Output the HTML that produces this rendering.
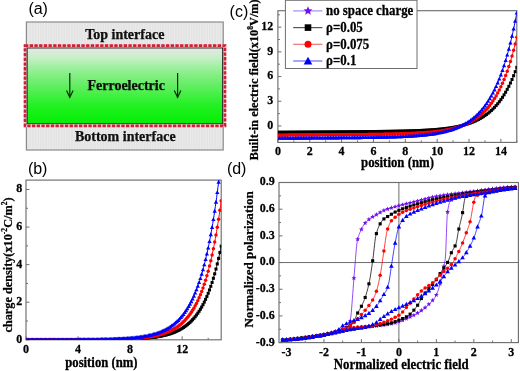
<!DOCTYPE html>
<html><head><meta charset="utf-8"><title>Figure</title>
<style>html,body{margin:0;padding:0;background:#fff;} svg{display:block;}</style>
</head><body>
<svg width="520" height="371" viewBox="0 0 520 371">
<rect width="520" height="371" fill="#fff"/>
<defs>
<linearGradient id="gg" x1="0" y1="0" x2="0" y2="1">
<stop offset="0" stop-color="#e4e8e4"/>
<stop offset="0.13" stop-color="#c8eec8"/>
<stop offset="0.25" stop-color="#a0f0a0"/>
<stop offset="0.38" stop-color="#7eee7e"/>
<stop offset="0.5" stop-color="#62ee62"/>
<stop offset="0.62" stop-color="#44f044"/>
<stop offset="0.75" stop-color="#24f024"/>
<stop offset="0.88" stop-color="#12f012"/>
<stop offset="1" stop-color="#06ee06"/>
</linearGradient>
<pattern id="gp" width="2.6" height="10" patternUnits="userSpaceOnUse">
<rect width="2.6" height="10" fill="#e3e3e3"/>
<rect width="1" height="10" fill="#ebebeb"/>
</pattern>
<clipPath id="clipc"><rect x="277.9" y="10.7" width="238.9" height="131.7"/></clipPath>
<clipPath id="clipb"><rect x="26" y="180.1" width="195.2" height="159.7"/></clipPath>
<clipPath id="clipd"><rect x="279" y="182.5" width="239.4" height="160.1"/></clipPath>
</defs>
<rect x="26.4" y="22" width="196.8" height="128" fill="url(#gp)" stroke="#8a8a8a" stroke-width="1.2"/>
<rect x="27.2" y="48" width="195.4" height="75.7" fill="url(#gg)" stroke="#2a2a2a" stroke-width="1"/>
<rect x="25" y="45.6" width="200" height="80.3" fill="none" stroke="#f4c8cc" stroke-width="2.6"/>
<rect x="25" y="45.6" width="200" height="80.3" fill="none" stroke="#cc2236" stroke-width="2.6" stroke-dasharray="3.3,1.4"/>
<text x="124.8" y="38.6" font-family="'Liberation Serif', 'Times New Roman', serif" font-weight="bold" stroke="#000" stroke-width="0.25" font-size="14" text-anchor="middle" fill="#111">Top interface</text>
<text x="126.2" y="89.8" font-family="'Liberation Serif', 'Times New Roman', serif" font-weight="bold" stroke="#000" stroke-width="0.25" font-size="14" text-anchor="middle" fill="#111">Ferroelectric</text>
<text x="125.3" y="141.3" font-family="'Liberation Serif', 'Times New Roman', serif" font-weight="bold" stroke="#000" stroke-width="0.25" font-size="14" text-anchor="middle" fill="#111">Bottom interface</text>
<line x1="69.8" y1="73" x2="69.8" y2="96.5" stroke="#0a2a0a" stroke-width="1.2"/>
<polyline points="66.5,90.5 69.8,97.3 73.1,90.5" fill="none" stroke="#0a2a0a" stroke-width="1.2"/>
<line x1="177.6" y1="73" x2="177.6" y2="96.5" stroke="#0a2a0a" stroke-width="1.2"/>
<polyline points="174.29999999999998,90.5 177.6,97.3 180.9,90.5" fill="none" stroke="#0a2a0a" stroke-width="1.2"/>
<text x="28.4" y="14" font-family="'Liberation Sans', Arial, sans-serif" font-size="16">(a)</text>
<text x="27.9" y="174" font-family="'Liberation Sans', Arial, sans-serif" font-size="16">(b)</text>
<text x="229.6" y="16.6" font-family="'Liberation Sans', Arial, sans-serif" font-size="16">(c)</text>
<text x="226.9" y="174.4" font-family="'Liberation Sans', Arial, sans-serif" font-size="16">(d)</text>
<rect x="277.9" y="10.7" width="238.9" height="131.7" fill="none" stroke="#6e6e6e" stroke-width="1.15"/>
<line x1="277.9" y1="142.4" x2="277.9" y2="138.9" stroke="#6e6e6e" stroke-width="1"/>
<line x1="309.75" y1="142.4" x2="309.75" y2="138.9" stroke="#6e6e6e" stroke-width="1"/>
<line x1="341.61" y1="142.4" x2="341.61" y2="138.9" stroke="#6e6e6e" stroke-width="1"/>
<line x1="373.46" y1="142.4" x2="373.46" y2="138.9" stroke="#6e6e6e" stroke-width="1"/>
<line x1="405.31" y1="142.4" x2="405.31" y2="138.9" stroke="#6e6e6e" stroke-width="1"/>
<line x1="437.17" y1="142.4" x2="437.17" y2="138.9" stroke="#6e6e6e" stroke-width="1"/>
<line x1="469.02" y1="142.4" x2="469.02" y2="138.9" stroke="#6e6e6e" stroke-width="1"/>
<line x1="500.87" y1="142.4" x2="500.87" y2="138.9" stroke="#6e6e6e" stroke-width="1"/>
<line x1="293.83" y1="142.4" x2="293.83" y2="140.4" stroke="#6e6e6e" stroke-width="1"/>
<line x1="325.68" y1="142.4" x2="325.68" y2="140.4" stroke="#6e6e6e" stroke-width="1"/>
<line x1="357.53" y1="142.4" x2="357.53" y2="140.4" stroke="#6e6e6e" stroke-width="1"/>
<line x1="389.39" y1="142.4" x2="389.39" y2="140.4" stroke="#6e6e6e" stroke-width="1"/>
<line x1="421.24" y1="142.4" x2="421.24" y2="140.4" stroke="#6e6e6e" stroke-width="1"/>
<line x1="453.09" y1="142.4" x2="453.09" y2="140.4" stroke="#6e6e6e" stroke-width="1"/>
<line x1="484.95" y1="142.4" x2="484.95" y2="140.4" stroke="#6e6e6e" stroke-width="1"/>
<line x1="516.8" y1="142.4" x2="516.8" y2="140.4" stroke="#6e6e6e" stroke-width="1"/>
<text transform="translate(277.9,154.6) scale(1,1.1)" font-family="'Liberation Serif', 'Times New Roman', serif" font-weight="bold" stroke="#000" stroke-width="0.25" font-size="12" text-anchor="middle">0</text>
<text transform="translate(309.75,154.6) scale(1,1.1)" font-family="'Liberation Serif', 'Times New Roman', serif" font-weight="bold" stroke="#000" stroke-width="0.25" font-size="12" text-anchor="middle">2</text>
<text transform="translate(341.61,154.6) scale(1,1.1)" font-family="'Liberation Serif', 'Times New Roman', serif" font-weight="bold" stroke="#000" stroke-width="0.25" font-size="12" text-anchor="middle">4</text>
<text transform="translate(373.46,154.6) scale(1,1.1)" font-family="'Liberation Serif', 'Times New Roman', serif" font-weight="bold" stroke="#000" stroke-width="0.25" font-size="12" text-anchor="middle">6</text>
<text transform="translate(405.31,154.6) scale(1,1.1)" font-family="'Liberation Serif', 'Times New Roman', serif" font-weight="bold" stroke="#000" stroke-width="0.25" font-size="12" text-anchor="middle">8</text>
<text transform="translate(437.17,154.6) scale(1,1.1)" font-family="'Liberation Serif', 'Times New Roman', serif" font-weight="bold" stroke="#000" stroke-width="0.25" font-size="12" text-anchor="middle">10</text>
<text transform="translate(469.02,154.6) scale(1,1.1)" font-family="'Liberation Serif', 'Times New Roman', serif" font-weight="bold" stroke="#000" stroke-width="0.25" font-size="12" text-anchor="middle">12</text>
<text transform="translate(500.87,154.6) scale(1,1.1)" font-family="'Liberation Serif', 'Times New Roman', serif" font-weight="bold" stroke="#000" stroke-width="0.25" font-size="12" text-anchor="middle">14</text>
<line x1="277.9" y1="125.94" x2="281.4" y2="125.94" stroke="#6e6e6e" stroke-width="1"/>
<line x1="277.9" y1="101.24" x2="281.4" y2="101.24" stroke="#6e6e6e" stroke-width="1"/>
<line x1="277.9" y1="76.55" x2="281.4" y2="76.55" stroke="#6e6e6e" stroke-width="1"/>
<line x1="277.9" y1="51.86" x2="281.4" y2="51.86" stroke="#6e6e6e" stroke-width="1"/>
<line x1="277.9" y1="27.16" x2="281.4" y2="27.16" stroke="#6e6e6e" stroke-width="1"/>
<line x1="277.9" y1="113.59" x2="279.9" y2="113.59" stroke="#6e6e6e" stroke-width="1"/>
<line x1="277.9" y1="88.9" x2="279.9" y2="88.9" stroke="#6e6e6e" stroke-width="1"/>
<line x1="277.9" y1="64.2" x2="279.9" y2="64.2" stroke="#6e6e6e" stroke-width="1"/>
<line x1="277.9" y1="39.51" x2="279.9" y2="39.51" stroke="#6e6e6e" stroke-width="1"/>
<line x1="277.9" y1="14.82" x2="279.9" y2="14.82" stroke="#6e6e6e" stroke-width="1"/>
<text transform="translate(273.2,128.84) scale(1,1.1)" font-family="'Liberation Serif', 'Times New Roman', serif" font-weight="bold" stroke="#000" stroke-width="0.25" font-size="12" text-anchor="end">0</text>
<text transform="translate(273.2,104.14) scale(1,1.1)" font-family="'Liberation Serif', 'Times New Roman', serif" font-weight="bold" stroke="#000" stroke-width="0.25" font-size="12" text-anchor="end">3</text>
<text transform="translate(273.2,79.45) scale(1,1.1)" font-family="'Liberation Serif', 'Times New Roman', serif" font-weight="bold" stroke="#000" stroke-width="0.25" font-size="12" text-anchor="end">6</text>
<text transform="translate(273.2,54.76) scale(1,1.1)" font-family="'Liberation Serif', 'Times New Roman', serif" font-weight="bold" stroke="#000" stroke-width="0.25" font-size="12" text-anchor="end">9</text>
<text transform="translate(273.2,30.06) scale(1,1.1)" font-family="'Liberation Serif', 'Times New Roman', serif" font-weight="bold" stroke="#000" stroke-width="0.25" font-size="12" text-anchor="end">12</text>
<text transform="translate(397.5,167.3) scale(1,1.1)" font-family="'Liberation Serif', 'Times New Roman', serif" font-weight="bold" stroke="#000" stroke-width="0.25" font-size="12.8" text-anchor="middle">position (nm)</text>
<text transform="translate(257.7,160.2) rotate(-90)" x="0" y="0" font-family="'Liberation Serif', 'Times New Roman', serif" font-weight="bold" stroke="#000" stroke-width="0.25" font-size="12.3">Built-in electric field(x10<tspan dy="-5.2" font-size="7.6">8</tspan><tspan dy="5.2">V/m)</tspan></text>
<g clip-path="url(#clipc)">
<polyline points="277.9,132.26 278.7,132.25 279.49,132.25 280.29,132.24 281.09,132.24 281.88,132.23 282.68,132.23 283.47,132.22 284.27,132.22 285.07,132.21 285.86,132.21 286.66,132.2 287.46,132.2 288.25,132.19 289.05,132.19 289.84,132.18 290.64,132.18 291.44,132.17 292.23,132.17 293.03,132.16 293.83,132.16 294.62,132.15 295.42,132.15 296.22,132.14 297.01,132.13 297.81,132.13 298.6,132.12 299.4,132.12 300.2,132.11 300.99,132.11 301.79,132.1 302.59,132.1 303.38,132.09 304.18,132.09 304.98,132.08 305.77,132.08 306.57,132.07 307.36,132.07 308.16,132.06 308.96,132.06 309.75,132.05 310.55,132.04 311.35,132.04 312.14,132.03 312.94,132.03 313.73,132.02 314.53,132.02 315.33,132.01 316.12,132.01 316.92,132 317.72,132 318.51,131.99 319.31,131.99 320.11,131.98 320.9,131.97 321.7,131.97 322.49,131.96 323.29,131.96 324.09,131.95 324.88,131.95 325.68,131.94 326.48,131.94 327.27,131.93 328.07,131.92 328.87,131.92 329.66,131.91 330.46,131.91 331.25,131.9 332.05,131.9 332.85,131.89 333.64,131.89 334.44,131.88 335.24,131.87 336.03,131.87 336.83,131.86 337.62,131.86 338.42,131.85 339.22,131.84 340.01,131.84 340.81,131.83 341.61,131.83 342.4,131.82 343.2,131.81 344,131.81 344.79,131.8 345.59,131.8 346.38,131.79 347.18,131.78 347.98,131.78 348.77,131.77 349.57,131.76 350.37,131.76 351.16,131.75 351.96,131.74 352.76,131.74 353.55,131.73 354.35,131.72 355.14,131.72 355.94,131.71 356.74,131.7 357.53,131.7 358.33,131.69 359.13,131.68 359.92,131.68 360.72,131.67 361.51,131.66 362.31,131.65 363.11,131.65 363.9,131.64 364.7,131.63 365.5,131.62 366.29,131.62 367.09,131.61 367.89,131.6 368.68,131.59 369.48,131.58 370.27,131.58 371.07,131.57 371.87,131.56 372.66,131.55 373.46,131.54 374.26,131.53 375.05,131.52 375.85,131.51 376.65,131.5 377.44,131.49 378.24,131.48 379.03,131.47 379.83,131.46 380.63,131.45 381.42,131.44 382.22,131.43 383.02,131.42 383.81,131.41 384.61,131.4 385.4,131.39 386.2,131.38 387,131.36 387.79,131.35 388.59,131.34 389.39,131.33 390.18,131.31 390.98,131.3 391.78,131.29 392.57,131.27 393.37,131.26 394.16,131.24 394.96,131.23 395.76,131.21 396.55,131.2 397.35,131.18 398.15,131.17 398.94,131.15 399.74,131.13 400.54,131.11 401.33,131.1 402.13,131.08 402.92,131.06 403.72,131.04 404.52,131.02 405.31,131 406.11,130.98 406.91,130.96 407.7,130.93 408.5,130.91 409.29,130.89 410.09,130.86 410.89,130.84 411.68,130.81 412.48,130.79 413.28,130.76 414.07,130.73 414.87,130.7 415.67,130.67 416.46,130.64 417.26,130.61 418.05,130.58 418.85,130.54 419.65,130.51 420.44,130.47 421.24,130.44 422.04,130.4 422.83,130.36 423.63,130.32 424.43,130.28 425.22,130.24 426.02,130.19 426.81,130.15 427.61,130.1 428.41,130.05 429.2,130 430,129.95 430.8,129.9 431.59,129.84 432.39,129.79 433.18,129.73 433.98,129.67 434.78,129.6 435.57,129.54 436.37,129.47 437.17,129.4 437.96,129.33 438.76,129.26 439.56,129.18 440.35,129.1 441.15,129.02 441.94,128.94 442.74,128.85 443.54,128.76 444.33,128.67 445.13,128.57 445.93,128.47 446.72,128.37 447.52,128.26 448.32,128.15 449.11,128.04 449.91,127.92 450.7,127.8 451.5,127.68 452.3,127.55 453.09,127.41 453.89,127.27 454.69,127.13 455.48,126.98 456.28,126.82 457.07,126.66 457.87,126.5 458.67,126.33 459.46,126.15 460.26,125.97 461.06,125.78 461.85,125.58 462.65,125.38 463.45,125.16 464.24,124.95 465.04,124.72 465.83,124.49 466.63,124.24 467.43,123.99 468.22,123.74 469.02,123.47 469.82,123.19 470.61,122.9 471.41,122.6 472.21,122.29 473,121.97 473.8,121.64 474.59,121.3 475.39,120.95 476.19,120.58 476.98,120.2 477.78,119.8 478.58,119.4 479.37,118.97 480.17,118.54 480.96,118.08 481.76,117.61 482.56,117.13 483.35,116.62 484.15,116.1 484.95,115.56 485.74,115 486.54,114.42 487.34,113.82 488.13,113.2 488.93,112.56 489.72,111.89 490.52,111.2 491.32,110.49 492.11,109.74 492.91,108.98 493.71,108.18 494.5,107.36 495.3,106.51 496.1,105.62 496.89,104.71 497.69,103.76 498.48,102.78 499.28,101.76 500.08,100.71 500.87,99.62 501.67,98.48 502.47,97.31 503.26,96.1 504.06,94.84 504.85,93.54 505.65,92.19 506.45,90.8 507.24,89.35 508.04,87.85 508.84,86.3 509.63,84.69 510.43,83.02 511.23,81.29 512.02,79.5 512.82,77.65 513.61,75.73 514.41,73.74 515.21,71.68 516,69.55 516.8,67.34" fill="none" stroke="#000000" stroke-width="1.0" stroke-linejoin="round"/>
<rect x="276.38" y="130.74" width="3.04" height="3.04" fill="#000000"/>
<rect x="277.97" y="130.73" width="3.04" height="3.04" fill="#000000"/>
<rect x="279.57" y="130.72" width="3.04" height="3.04" fill="#000000"/>
<rect x="281.16" y="130.71" width="3.04" height="3.04" fill="#000000"/>
<rect x="282.75" y="130.7" width="3.04" height="3.04" fill="#000000"/>
<rect x="284.34" y="130.69" width="3.04" height="3.04" fill="#000000"/>
<rect x="285.94" y="130.68" width="3.04" height="3.04" fill="#000000"/>
<rect x="287.53" y="130.67" width="3.04" height="3.04" fill="#000000"/>
<rect x="289.12" y="130.66" width="3.04" height="3.04" fill="#000000"/>
<rect x="290.71" y="130.65" width="3.04" height="3.04" fill="#000000"/>
<rect x="292.31" y="130.64" width="3.04" height="3.04" fill="#000000"/>
<rect x="293.9" y="130.63" width="3.04" height="3.04" fill="#000000"/>
<rect x="295.49" y="130.61" width="3.04" height="3.04" fill="#000000"/>
<rect x="297.08" y="130.6" width="3.04" height="3.04" fill="#000000"/>
<rect x="298.68" y="130.59" width="3.04" height="3.04" fill="#000000"/>
<rect x="300.27" y="130.58" width="3.04" height="3.04" fill="#000000"/>
<rect x="301.86" y="130.57" width="3.04" height="3.04" fill="#000000"/>
<rect x="303.46" y="130.56" width="3.04" height="3.04" fill="#000000"/>
<rect x="305.05" y="130.55" width="3.04" height="3.04" fill="#000000"/>
<rect x="306.64" y="130.54" width="3.04" height="3.04" fill="#000000"/>
<rect x="308.23" y="130.53" width="3.04" height="3.04" fill="#000000"/>
<rect x="309.83" y="130.52" width="3.04" height="3.04" fill="#000000"/>
<rect x="311.42" y="130.51" width="3.04" height="3.04" fill="#000000"/>
<rect x="313.01" y="130.5" width="3.04" height="3.04" fill="#000000"/>
<rect x="314.6" y="130.49" width="3.04" height="3.04" fill="#000000"/>
<rect x="316.2" y="130.48" width="3.04" height="3.04" fill="#000000"/>
<rect x="317.79" y="130.47" width="3.04" height="3.04" fill="#000000"/>
<rect x="319.38" y="130.45" width="3.04" height="3.04" fill="#000000"/>
<rect x="320.97" y="130.44" width="3.04" height="3.04" fill="#000000"/>
<rect x="322.57" y="130.43" width="3.04" height="3.04" fill="#000000"/>
<rect x="324.16" y="130.42" width="3.04" height="3.04" fill="#000000"/>
<rect x="325.75" y="130.41" width="3.04" height="3.04" fill="#000000"/>
<rect x="327.35" y="130.4" width="3.04" height="3.04" fill="#000000"/>
<rect x="328.94" y="130.39" width="3.04" height="3.04" fill="#000000"/>
<rect x="330.53" y="130.38" width="3.04" height="3.04" fill="#000000"/>
<rect x="332.12" y="130.37" width="3.04" height="3.04" fill="#000000"/>
<rect x="333.72" y="130.35" width="3.04" height="3.04" fill="#000000"/>
<rect x="335.31" y="130.34" width="3.04" height="3.04" fill="#000000"/>
<rect x="336.9" y="130.33" width="3.04" height="3.04" fill="#000000"/>
<rect x="338.49" y="130.32" width="3.04" height="3.04" fill="#000000"/>
<rect x="340.09" y="130.31" width="3.04" height="3.04" fill="#000000"/>
<rect x="341.68" y="130.29" width="3.04" height="3.04" fill="#000000"/>
<rect x="343.27" y="130.28" width="3.04" height="3.04" fill="#000000"/>
<rect x="344.86" y="130.27" width="3.04" height="3.04" fill="#000000"/>
<rect x="346.46" y="130.26" width="3.04" height="3.04" fill="#000000"/>
<rect x="348.05" y="130.24" width="3.04" height="3.04" fill="#000000"/>
<rect x="349.64" y="130.23" width="3.04" height="3.04" fill="#000000"/>
<rect x="351.24" y="130.22" width="3.04" height="3.04" fill="#000000"/>
<rect x="352.83" y="130.2" width="3.04" height="3.04" fill="#000000"/>
<rect x="354.42" y="130.19" width="3.04" height="3.04" fill="#000000"/>
<rect x="356.01" y="130.18" width="3.04" height="3.04" fill="#000000"/>
<rect x="357.61" y="130.16" width="3.04" height="3.04" fill="#000000"/>
<rect x="359.2" y="130.15" width="3.04" height="3.04" fill="#000000"/>
<rect x="360.79" y="130.13" width="3.04" height="3.04" fill="#000000"/>
<rect x="362.38" y="130.12" width="3.04" height="3.04" fill="#000000"/>
<rect x="363.98" y="130.1" width="3.04" height="3.04" fill="#000000"/>
<rect x="365.57" y="130.09" width="3.04" height="3.04" fill="#000000"/>
<rect x="367.16" y="130.07" width="3.04" height="3.04" fill="#000000"/>
<rect x="368.75" y="130.06" width="3.04" height="3.04" fill="#000000"/>
<rect x="370.35" y="130.04" width="3.04" height="3.04" fill="#000000"/>
<rect x="371.94" y="130.02" width="3.04" height="3.04" fill="#000000"/>
<rect x="373.53" y="130" width="3.04" height="3.04" fill="#000000"/>
<rect x="375.13" y="129.98" width="3.04" height="3.04" fill="#000000"/>
<rect x="376.72" y="129.96" width="3.04" height="3.04" fill="#000000"/>
<rect x="378.31" y="129.94" width="3.04" height="3.04" fill="#000000"/>
<rect x="379.9" y="129.92" width="3.04" height="3.04" fill="#000000"/>
<rect x="381.5" y="129.9" width="3.04" height="3.04" fill="#000000"/>
<rect x="383.09" y="129.88" width="3.04" height="3.04" fill="#000000"/>
<rect x="384.68" y="129.86" width="3.04" height="3.04" fill="#000000"/>
<rect x="386.27" y="129.83" width="3.04" height="3.04" fill="#000000"/>
<rect x="387.87" y="129.81" width="3.04" height="3.04" fill="#000000"/>
<rect x="389.46" y="129.78" width="3.04" height="3.04" fill="#000000"/>
<rect x="391.05" y="129.75" width="3.04" height="3.04" fill="#000000"/>
<rect x="392.64" y="129.72" width="3.04" height="3.04" fill="#000000"/>
<rect x="394.24" y="129.69" width="3.04" height="3.04" fill="#000000"/>
<rect x="395.83" y="129.66" width="3.04" height="3.04" fill="#000000"/>
<rect x="397.42" y="129.63" width="3.04" height="3.04" fill="#000000"/>
<rect x="399.02" y="129.59" width="3.04" height="3.04" fill="#000000"/>
<rect x="400.61" y="129.56" width="3.04" height="3.04" fill="#000000"/>
<rect x="402.2" y="129.52" width="3.04" height="3.04" fill="#000000"/>
<rect x="403.79" y="129.48" width="3.04" height="3.04" fill="#000000"/>
<rect x="405.39" y="129.44" width="3.04" height="3.04" fill="#000000"/>
<rect x="406.98" y="129.39" width="3.04" height="3.04" fill="#000000"/>
<rect x="408.57" y="129.34" width="3.04" height="3.04" fill="#000000"/>
<rect x="410.16" y="129.29" width="3.04" height="3.04" fill="#000000"/>
<rect x="411.76" y="129.24" width="3.04" height="3.04" fill="#000000"/>
<rect x="413.35" y="129.18" width="3.04" height="3.04" fill="#000000"/>
<rect x="414.94" y="129.12" width="3.04" height="3.04" fill="#000000"/>
<rect x="416.53" y="129.06" width="3.04" height="3.04" fill="#000000"/>
<rect x="418.13" y="128.99" width="3.04" height="3.04" fill="#000000"/>
<rect x="419.72" y="128.92" width="3.04" height="3.04" fill="#000000"/>
<rect x="421.31" y="128.84" width="3.04" height="3.04" fill="#000000"/>
<rect x="422.91" y="128.76" width="3.04" height="3.04" fill="#000000"/>
<rect x="424.5" y="128.67" width="3.04" height="3.04" fill="#000000"/>
<rect x="426.09" y="128.58" width="3.04" height="3.04" fill="#000000"/>
<rect x="427.68" y="128.48" width="3.04" height="3.04" fill="#000000"/>
<rect x="429.28" y="128.38" width="3.04" height="3.04" fill="#000000"/>
<rect x="430.87" y="128.27" width="3.04" height="3.04" fill="#000000"/>
<rect x="432.46" y="128.15" width="3.04" height="3.04" fill="#000000"/>
<rect x="434.05" y="128.02" width="3.04" height="3.04" fill="#000000"/>
<rect x="435.65" y="127.88" width="3.04" height="3.04" fill="#000000"/>
<rect x="437.24" y="127.74" width="3.04" height="3.04" fill="#000000"/>
<rect x="438.83" y="127.58" width="3.04" height="3.04" fill="#000000"/>
<rect x="440.42" y="127.42" width="3.04" height="3.04" fill="#000000"/>
<rect x="442.02" y="127.24" width="3.04" height="3.04" fill="#000000"/>
<rect x="443.61" y="127.05" width="3.04" height="3.04" fill="#000000"/>
<rect x="445.2" y="126.85" width="3.04" height="3.04" fill="#000000"/>
<rect x="446.8" y="126.63" width="3.04" height="3.04" fill="#000000"/>
<rect x="448.39" y="126.4" width="3.04" height="3.04" fill="#000000"/>
<rect x="449.98" y="126.16" width="3.04" height="3.04" fill="#000000"/>
<rect x="451.57" y="125.89" width="3.04" height="3.04" fill="#000000"/>
<rect x="453.17" y="125.61" width="3.04" height="3.04" fill="#000000"/>
<rect x="454.76" y="125.3" width="3.04" height="3.04" fill="#000000"/>
<rect x="456.35" y="124.98" width="3.04" height="3.04" fill="#000000"/>
<rect x="457.94" y="124.63" width="3.04" height="3.04" fill="#000000"/>
<rect x="459.54" y="124.26" width="3.04" height="3.04" fill="#000000"/>
<rect x="461.13" y="123.86" width="3.04" height="3.04" fill="#000000"/>
<rect x="462.72" y="123.43" width="3.04" height="3.04" fill="#000000"/>
<rect x="464.31" y="122.97" width="3.04" height="3.04" fill="#000000"/>
<rect x="465.91" y="122.47" width="3.04" height="3.04" fill="#000000"/>
<rect x="467.5" y="121.95" width="3.04" height="3.04" fill="#000000"/>
<rect x="469.09" y="121.38" width="3.04" height="3.04" fill="#000000"/>
<rect x="470.69" y="120.77" width="3.04" height="3.04" fill="#000000"/>
<rect x="472.28" y="120.12" width="3.04" height="3.04" fill="#000000"/>
<rect x="473.87" y="119.43" width="3.04" height="3.04" fill="#000000"/>
<rect x="475.46" y="118.68" width="3.04" height="3.04" fill="#000000"/>
<rect x="477.06" y="117.88" width="3.04" height="3.04" fill="#000000"/>
<rect x="478.65" y="117.02" width="3.04" height="3.04" fill="#000000"/>
<rect x="480.24" y="116.09" width="3.04" height="3.04" fill="#000000"/>
<rect x="481.83" y="115.1" width="3.04" height="3.04" fill="#000000"/>
<rect x="483.43" y="114.04" width="3.04" height="3.04" fill="#000000"/>
<rect x="485.02" y="112.9" width="3.04" height="3.04" fill="#000000"/>
<rect x="486.61" y="111.68" width="3.04" height="3.04" fill="#000000"/>
<rect x="488.2" y="110.37" width="3.04" height="3.04" fill="#000000"/>
<rect x="489.8" y="108.97" width="3.04" height="3.04" fill="#000000"/>
<rect x="491.39" y="107.46" width="3.04" height="3.04" fill="#000000"/>
<rect x="492.98" y="105.84" width="3.04" height="3.04" fill="#000000"/>
<rect x="494.58" y="104.1" width="3.04" height="3.04" fill="#000000"/>
<rect x="496.17" y="102.24" width="3.04" height="3.04" fill="#000000"/>
<rect x="497.76" y="100.24" width="3.04" height="3.04" fill="#000000"/>
<rect x="499.35" y="98.1" width="3.04" height="3.04" fill="#000000"/>
<rect x="500.95" y="95.79" width="3.04" height="3.04" fill="#000000"/>
<rect x="502.54" y="93.32" width="3.04" height="3.04" fill="#000000"/>
<rect x="504.13" y="90.67" width="3.04" height="3.04" fill="#000000"/>
<rect x="505.72" y="87.83" width="3.04" height="3.04" fill="#000000"/>
<rect x="507.32" y="84.78" width="3.04" height="3.04" fill="#000000"/>
<rect x="508.91" y="81.5" width="3.04" height="3.04" fill="#000000"/>
<rect x="510.5" y="77.98" width="3.04" height="3.04" fill="#000000"/>
<rect x="512.09" y="74.21" width="3.04" height="3.04" fill="#000000"/>
<rect x="513.69" y="70.16" width="3.04" height="3.04" fill="#000000"/>
<rect x="515.28" y="65.82" width="3.04" height="3.04" fill="#000000"/>
<polyline points="277.9,135.21 278.7,135.2 279.49,135.2 280.29,135.19 281.09,135.18 281.88,135.18 282.68,135.17 283.47,135.16 284.27,135.16 285.07,135.15 285.86,135.14 286.66,135.14 287.46,135.13 288.25,135.12 289.05,135.12 289.84,135.11 290.64,135.11 291.44,135.1 292.23,135.09 293.03,135.09 293.83,135.08 294.62,135.07 295.42,135.07 296.22,135.06 297.01,135.05 297.81,135.05 298.6,135.04 299.4,135.03 300.2,135.03 300.99,135.02 301.79,135.01 302.59,135.01 303.38,135 304.18,134.99 304.98,134.99 305.77,134.98 306.57,134.97 307.36,134.97 308.16,134.96 308.96,134.95 309.75,134.95 310.55,134.94 311.35,134.93 312.14,134.93 312.94,134.92 313.73,134.91 314.53,134.91 315.33,134.9 316.12,134.89 316.92,134.89 317.72,134.88 318.51,134.87 319.31,134.87 320.11,134.86 320.9,134.85 321.7,134.85 322.49,134.84 323.29,134.83 324.09,134.83 324.88,134.82 325.68,134.81 326.48,134.8 327.27,134.8 328.07,134.79 328.87,134.78 329.66,134.78 330.46,134.77 331.25,134.76 332.05,134.75 332.85,134.75 333.64,134.74 334.44,134.73 335.24,134.73 336.03,134.72 336.83,134.71 337.62,134.7 338.42,134.7 339.22,134.69 340.01,134.68 340.81,134.67 341.61,134.67 342.4,134.66 343.2,134.65 344,134.64 344.79,134.64 345.59,134.63 346.38,134.62 347.18,134.61 347.98,134.6 348.77,134.6 349.57,134.59 350.37,134.58 351.16,134.57 351.96,134.56 352.76,134.55 353.55,134.55 354.35,134.54 355.14,134.53 355.94,134.52 356.74,134.51 357.53,134.5 358.33,134.49 359.13,134.48 359.92,134.48 360.72,134.47 361.51,134.46 362.31,134.45 363.11,134.44 363.9,134.43 364.7,134.42 365.5,134.41 366.29,134.4 367.09,134.39 367.89,134.38 368.68,134.37 369.48,134.36 370.27,134.35 371.07,134.34 371.87,134.32 372.66,134.31 373.46,134.3 374.26,134.29 375.05,134.28 375.85,134.27 376.65,134.25 377.44,134.24 378.24,134.23 379.03,134.22 379.83,134.2 380.63,134.19 381.42,134.17 382.22,134.16 383.02,134.15 383.81,134.13 384.61,134.12 385.4,134.1 386.2,134.09 387,134.07 387.79,134.05 388.59,134.04 389.39,134.02 390.18,134 390.98,133.99 391.78,133.97 392.57,133.95 393.37,133.93 394.16,133.91 394.96,133.89 395.76,133.87 396.55,133.85 397.35,133.83 398.15,133.81 398.94,133.78 399.74,133.76 400.54,133.74 401.33,133.71 402.13,133.69 402.92,133.66 403.72,133.63 404.52,133.61 405.31,133.58 406.11,133.55 406.91,133.52 407.7,133.49 408.5,133.46 409.29,133.43 410.09,133.39 410.89,133.36 411.68,133.32 412.48,133.29 413.28,133.25 414.07,133.21 414.87,133.17 415.67,133.13 416.46,133.09 417.26,133.04 418.05,133 418.85,132.95 419.65,132.9 420.44,132.85 421.24,132.8 422.04,132.75 422.83,132.7 423.63,132.64 424.43,132.58 425.22,132.52 426.02,132.46 426.81,132.4 427.61,132.33 428.41,132.26 429.2,132.19 430,132.12 430.8,132.04 431.59,131.97 432.39,131.89 433.18,131.8 433.98,131.72 434.78,131.63 435.57,131.54 436.37,131.44 437.17,131.34 437.96,131.24 438.76,131.14 439.56,131.03 440.35,130.91 441.15,130.8 441.94,130.68 442.74,130.55 443.54,130.42 444.33,130.29 445.13,130.15 445.93,130.01 446.72,129.86 447.52,129.71 448.32,129.55 449.11,129.38 449.91,129.21 450.7,129.04 451.5,128.85 452.3,128.67 453.09,128.47 453.89,128.27 454.69,128.06 455.48,127.84 456.28,127.61 457.07,127.38 457.87,127.14 458.67,126.89 459.46,126.63 460.26,126.36 461.06,126.08 461.85,125.8 462.65,125.5 463.45,125.19 464.24,124.87 465.04,124.54 465.83,124.19 466.63,123.84 467.43,123.47 468.22,123.09 469.02,122.69 469.82,122.28 470.61,121.85 471.41,121.41 472.21,120.96 473,120.48 473.8,119.99 474.59,119.48 475.39,118.96 476.19,118.41 476.98,117.84 477.78,117.26 478.58,116.65 479.37,116.02 480.17,115.37 480.96,114.69 481.76,113.99 482.56,113.26 483.35,112.51 484.15,111.73 484.95,110.92 485.74,110.08 486.54,109.21 487.34,108.31 488.13,107.38 488.93,106.41 489.72,105.41 490.52,104.37 491.32,103.29 492.11,102.17 492.91,101.01 493.71,99.81 494.5,98.57 495.3,97.28 496.1,95.94 496.89,94.55 497.69,93.12 498.48,91.63 499.28,90.08 500.08,88.48 500.87,86.82 501.67,85.1 502.47,83.32 503.26,81.47 504.06,79.56 504.85,77.57 505.65,75.51 506.45,73.37 507.24,71.16 508.04,68.87 508.84,66.49 509.63,64.02 510.43,61.47 511.23,58.82 512.02,56.07 512.82,53.22 513.61,50.27 514.41,47.21 515.21,44.04 516,40.75 516.8,37.34" fill="none" stroke="#ff0000" stroke-width="1.0" stroke-linejoin="round"/>
<circle cx="277.9" cy="135.21" r="1.75" fill="#ff0000"/>
<circle cx="279.49" cy="135.2" r="1.75" fill="#ff0000"/>
<circle cx="281.09" cy="135.18" r="1.75" fill="#ff0000"/>
<circle cx="282.68" cy="135.17" r="1.75" fill="#ff0000"/>
<circle cx="284.27" cy="135.16" r="1.75" fill="#ff0000"/>
<circle cx="285.86" cy="135.14" r="1.75" fill="#ff0000"/>
<circle cx="287.46" cy="135.13" r="1.75" fill="#ff0000"/>
<circle cx="289.05" cy="135.12" r="1.75" fill="#ff0000"/>
<circle cx="290.64" cy="135.11" r="1.75" fill="#ff0000"/>
<circle cx="292.23" cy="135.09" r="1.75" fill="#ff0000"/>
<circle cx="293.83" cy="135.08" r="1.75" fill="#ff0000"/>
<circle cx="295.42" cy="135.07" r="1.75" fill="#ff0000"/>
<circle cx="297.01" cy="135.05" r="1.75" fill="#ff0000"/>
<circle cx="298.6" cy="135.04" r="1.75" fill="#ff0000"/>
<circle cx="300.2" cy="135.03" r="1.75" fill="#ff0000"/>
<circle cx="301.79" cy="135.01" r="1.75" fill="#ff0000"/>
<circle cx="303.38" cy="135" r="1.75" fill="#ff0000"/>
<circle cx="304.98" cy="134.99" r="1.75" fill="#ff0000"/>
<circle cx="306.57" cy="134.97" r="1.75" fill="#ff0000"/>
<circle cx="308.16" cy="134.96" r="1.75" fill="#ff0000"/>
<circle cx="309.75" cy="134.95" r="1.75" fill="#ff0000"/>
<circle cx="311.35" cy="134.93" r="1.75" fill="#ff0000"/>
<circle cx="312.94" cy="134.92" r="1.75" fill="#ff0000"/>
<circle cx="314.53" cy="134.91" r="1.75" fill="#ff0000"/>
<circle cx="316.12" cy="134.89" r="1.75" fill="#ff0000"/>
<circle cx="317.72" cy="134.88" r="1.75" fill="#ff0000"/>
<circle cx="319.31" cy="134.87" r="1.75" fill="#ff0000"/>
<circle cx="320.9" cy="134.85" r="1.75" fill="#ff0000"/>
<circle cx="322.49" cy="134.84" r="1.75" fill="#ff0000"/>
<circle cx="324.09" cy="134.83" r="1.75" fill="#ff0000"/>
<circle cx="325.68" cy="134.81" r="1.75" fill="#ff0000"/>
<circle cx="327.27" cy="134.8" r="1.75" fill="#ff0000"/>
<circle cx="328.87" cy="134.78" r="1.75" fill="#ff0000"/>
<circle cx="330.46" cy="134.77" r="1.75" fill="#ff0000"/>
<circle cx="332.05" cy="134.75" r="1.75" fill="#ff0000"/>
<circle cx="333.64" cy="134.74" r="1.75" fill="#ff0000"/>
<circle cx="335.24" cy="134.73" r="1.75" fill="#ff0000"/>
<circle cx="336.83" cy="134.71" r="1.75" fill="#ff0000"/>
<circle cx="338.42" cy="134.7" r="1.75" fill="#ff0000"/>
<circle cx="340.01" cy="134.68" r="1.75" fill="#ff0000"/>
<circle cx="341.61" cy="134.67" r="1.75" fill="#ff0000"/>
<circle cx="343.2" cy="134.65" r="1.75" fill="#ff0000"/>
<circle cx="344.79" cy="134.64" r="1.75" fill="#ff0000"/>
<circle cx="346.38" cy="134.62" r="1.75" fill="#ff0000"/>
<circle cx="347.98" cy="134.6" r="1.75" fill="#ff0000"/>
<circle cx="349.57" cy="134.59" r="1.75" fill="#ff0000"/>
<circle cx="351.16" cy="134.57" r="1.75" fill="#ff0000"/>
<circle cx="352.76" cy="134.55" r="1.75" fill="#ff0000"/>
<circle cx="354.35" cy="134.54" r="1.75" fill="#ff0000"/>
<circle cx="355.94" cy="134.52" r="1.75" fill="#ff0000"/>
<circle cx="357.53" cy="134.5" r="1.75" fill="#ff0000"/>
<circle cx="359.13" cy="134.48" r="1.75" fill="#ff0000"/>
<circle cx="360.72" cy="134.47" r="1.75" fill="#ff0000"/>
<circle cx="362.31" cy="134.45" r="1.75" fill="#ff0000"/>
<circle cx="363.9" cy="134.43" r="1.75" fill="#ff0000"/>
<circle cx="365.5" cy="134.41" r="1.75" fill="#ff0000"/>
<circle cx="367.09" cy="134.39" r="1.75" fill="#ff0000"/>
<circle cx="368.68" cy="134.37" r="1.75" fill="#ff0000"/>
<circle cx="370.27" cy="134.35" r="1.75" fill="#ff0000"/>
<circle cx="371.87" cy="134.32" r="1.75" fill="#ff0000"/>
<circle cx="373.46" cy="134.3" r="1.75" fill="#ff0000"/>
<circle cx="375.05" cy="134.28" r="1.75" fill="#ff0000"/>
<circle cx="376.65" cy="134.25" r="1.75" fill="#ff0000"/>
<circle cx="378.24" cy="134.23" r="1.75" fill="#ff0000"/>
<circle cx="379.83" cy="134.2" r="1.75" fill="#ff0000"/>
<circle cx="381.42" cy="134.17" r="1.75" fill="#ff0000"/>
<circle cx="383.02" cy="134.15" r="1.75" fill="#ff0000"/>
<circle cx="384.61" cy="134.12" r="1.75" fill="#ff0000"/>
<circle cx="386.2" cy="134.09" r="1.75" fill="#ff0000"/>
<circle cx="387.79" cy="134.05" r="1.75" fill="#ff0000"/>
<circle cx="389.39" cy="134.02" r="1.75" fill="#ff0000"/>
<circle cx="390.98" cy="133.99" r="1.75" fill="#ff0000"/>
<circle cx="392.57" cy="133.95" r="1.75" fill="#ff0000"/>
<circle cx="394.16" cy="133.91" r="1.75" fill="#ff0000"/>
<circle cx="395.76" cy="133.87" r="1.75" fill="#ff0000"/>
<circle cx="397.35" cy="133.83" r="1.75" fill="#ff0000"/>
<circle cx="398.94" cy="133.78" r="1.75" fill="#ff0000"/>
<circle cx="400.54" cy="133.74" r="1.75" fill="#ff0000"/>
<circle cx="402.13" cy="133.69" r="1.75" fill="#ff0000"/>
<circle cx="403.72" cy="133.63" r="1.75" fill="#ff0000"/>
<circle cx="405.31" cy="133.58" r="1.75" fill="#ff0000"/>
<circle cx="406.91" cy="133.52" r="1.75" fill="#ff0000"/>
<circle cx="408.5" cy="133.46" r="1.75" fill="#ff0000"/>
<circle cx="410.09" cy="133.39" r="1.75" fill="#ff0000"/>
<circle cx="411.68" cy="133.32" r="1.75" fill="#ff0000"/>
<circle cx="413.28" cy="133.25" r="1.75" fill="#ff0000"/>
<circle cx="414.87" cy="133.17" r="1.75" fill="#ff0000"/>
<circle cx="416.46" cy="133.09" r="1.75" fill="#ff0000"/>
<circle cx="418.05" cy="133" r="1.75" fill="#ff0000"/>
<circle cx="419.65" cy="132.9" r="1.75" fill="#ff0000"/>
<circle cx="421.24" cy="132.8" r="1.75" fill="#ff0000"/>
<circle cx="422.83" cy="132.7" r="1.75" fill="#ff0000"/>
<circle cx="424.43" cy="132.58" r="1.75" fill="#ff0000"/>
<circle cx="426.02" cy="132.46" r="1.75" fill="#ff0000"/>
<circle cx="427.61" cy="132.33" r="1.75" fill="#ff0000"/>
<circle cx="429.2" cy="132.19" r="1.75" fill="#ff0000"/>
<circle cx="430.8" cy="132.04" r="1.75" fill="#ff0000"/>
<circle cx="432.39" cy="131.89" r="1.75" fill="#ff0000"/>
<circle cx="433.98" cy="131.72" r="1.75" fill="#ff0000"/>
<circle cx="435.57" cy="131.54" r="1.75" fill="#ff0000"/>
<circle cx="437.17" cy="131.34" r="1.75" fill="#ff0000"/>
<circle cx="438.76" cy="131.14" r="1.75" fill="#ff0000"/>
<circle cx="440.35" cy="130.91" r="1.75" fill="#ff0000"/>
<circle cx="441.94" cy="130.68" r="1.75" fill="#ff0000"/>
<circle cx="443.54" cy="130.42" r="1.75" fill="#ff0000"/>
<circle cx="445.13" cy="130.15" r="1.75" fill="#ff0000"/>
<circle cx="446.72" cy="129.86" r="1.75" fill="#ff0000"/>
<circle cx="448.32" cy="129.55" r="1.75" fill="#ff0000"/>
<circle cx="449.91" cy="129.21" r="1.75" fill="#ff0000"/>
<circle cx="451.5" cy="128.85" r="1.75" fill="#ff0000"/>
<circle cx="453.09" cy="128.47" r="1.75" fill="#ff0000"/>
<circle cx="454.69" cy="128.06" r="1.75" fill="#ff0000"/>
<circle cx="456.28" cy="127.61" r="1.75" fill="#ff0000"/>
<circle cx="457.87" cy="127.14" r="1.75" fill="#ff0000"/>
<circle cx="459.46" cy="126.63" r="1.75" fill="#ff0000"/>
<circle cx="461.06" cy="126.08" r="1.75" fill="#ff0000"/>
<circle cx="462.65" cy="125.5" r="1.75" fill="#ff0000"/>
<circle cx="464.24" cy="124.87" r="1.75" fill="#ff0000"/>
<circle cx="465.83" cy="124.19" r="1.75" fill="#ff0000"/>
<circle cx="467.43" cy="123.47" r="1.75" fill="#ff0000"/>
<circle cx="469.02" cy="122.69" r="1.75" fill="#ff0000"/>
<circle cx="470.61" cy="121.85" r="1.75" fill="#ff0000"/>
<circle cx="472.21" cy="120.96" r="1.75" fill="#ff0000"/>
<circle cx="473.8" cy="119.99" r="1.75" fill="#ff0000"/>
<circle cx="475.39" cy="118.96" r="1.75" fill="#ff0000"/>
<circle cx="476.98" cy="117.84" r="1.75" fill="#ff0000"/>
<circle cx="478.58" cy="116.65" r="1.75" fill="#ff0000"/>
<circle cx="480.17" cy="115.37" r="1.75" fill="#ff0000"/>
<circle cx="481.76" cy="113.99" r="1.75" fill="#ff0000"/>
<circle cx="483.35" cy="112.51" r="1.75" fill="#ff0000"/>
<circle cx="484.95" cy="110.92" r="1.75" fill="#ff0000"/>
<circle cx="486.54" cy="109.21" r="1.75" fill="#ff0000"/>
<circle cx="488.13" cy="107.38" r="1.75" fill="#ff0000"/>
<circle cx="489.72" cy="105.41" r="1.75" fill="#ff0000"/>
<circle cx="491.32" cy="103.29" r="1.75" fill="#ff0000"/>
<circle cx="492.91" cy="101.01" r="1.75" fill="#ff0000"/>
<circle cx="494.5" cy="98.57" r="1.75" fill="#ff0000"/>
<circle cx="496.1" cy="95.94" r="1.75" fill="#ff0000"/>
<circle cx="497.69" cy="93.12" r="1.75" fill="#ff0000"/>
<circle cx="499.28" cy="90.08" r="1.75" fill="#ff0000"/>
<circle cx="500.87" cy="86.82" r="1.75" fill="#ff0000"/>
<circle cx="502.47" cy="83.32" r="1.75" fill="#ff0000"/>
<circle cx="504.06" cy="79.56" r="1.75" fill="#ff0000"/>
<circle cx="505.65" cy="75.51" r="1.75" fill="#ff0000"/>
<circle cx="507.24" cy="71.16" r="1.75" fill="#ff0000"/>
<circle cx="508.84" cy="66.49" r="1.75" fill="#ff0000"/>
<circle cx="510.43" cy="61.47" r="1.75" fill="#ff0000"/>
<circle cx="512.02" cy="56.07" r="1.75" fill="#ff0000"/>
<circle cx="513.61" cy="50.27" r="1.75" fill="#ff0000"/>
<circle cx="515.21" cy="44.04" r="1.75" fill="#ff0000"/>
<circle cx="516.8" cy="37.34" r="1.75" fill="#ff0000"/>
<polyline points="277.9,138.32 278.7,138.31 279.49,138.3 280.29,138.3 281.09,138.29 281.88,138.29 282.68,138.28 283.47,138.28 284.27,138.27 285.07,138.26 285.86,138.26 286.66,138.25 287.46,138.25 288.25,138.24 289.05,138.24 289.84,138.23 290.64,138.22 291.44,138.22 292.23,138.21 293.03,138.21 293.83,138.2 294.62,138.19 295.42,138.19 296.22,138.18 297.01,138.18 297.81,138.17 298.6,138.16 299.4,138.16 300.2,138.15 300.99,138.15 301.79,138.14 302.59,138.14 303.38,138.13 304.18,138.12 304.98,138.12 305.77,138.11 306.57,138.1 307.36,138.1 308.16,138.09 308.96,138.09 309.75,138.08 310.55,138.07 311.35,138.07 312.14,138.06 312.94,138.06 313.73,138.05 314.53,138.04 315.33,138.04 316.12,138.03 316.92,138.02 317.72,138.02 318.51,138.01 319.31,138.01 320.11,138 320.9,137.99 321.7,137.99 322.49,137.98 323.29,137.97 324.09,137.97 324.88,137.96 325.68,137.95 326.48,137.95 327.27,137.94 328.07,137.93 328.87,137.93 329.66,137.92 330.46,137.91 331.25,137.91 332.05,137.9 332.85,137.89 333.64,137.88 334.44,137.88 335.24,137.87 336.03,137.86 336.83,137.86 337.62,137.85 338.42,137.84 339.22,137.83 340.01,137.83 340.81,137.82 341.61,137.81 342.4,137.8 343.2,137.8 344,137.79 344.79,137.78 345.59,137.77 346.38,137.76 347.18,137.76 347.98,137.75 348.77,137.74 349.57,137.73 350.37,137.72 351.16,137.71 351.96,137.7 352.76,137.69 353.55,137.69 354.35,137.68 355.14,137.67 355.94,137.66 356.74,137.65 357.53,137.64 358.33,137.63 359.13,137.62 359.92,137.61 360.72,137.6 361.51,137.59 362.31,137.58 363.11,137.57 363.9,137.55 364.7,137.54 365.5,137.53 366.29,137.52 367.09,137.51 367.89,137.5 368.68,137.48 369.48,137.47 370.27,137.46 371.07,137.45 371.87,137.43 372.66,137.42 373.46,137.4 374.26,137.39 375.05,137.38 375.85,137.36 376.65,137.35 377.44,137.33 378.24,137.31 379.03,137.3 379.83,137.28 380.63,137.27 381.42,137.25 382.22,137.23 383.02,137.21 383.81,137.19 384.61,137.17 385.4,137.15 386.2,137.13 387,137.11 387.79,137.09 388.59,137.07 389.39,137.05 390.18,137.03 390.98,137 391.78,136.98 392.57,136.95 393.37,136.93 394.16,136.9 394.96,136.88 395.76,136.85 396.55,136.82 397.35,136.79 398.15,136.76 398.94,136.73 399.74,136.7 400.54,136.67 401.33,136.63 402.13,136.6 402.92,136.56 403.72,136.53 404.52,136.49 405.31,136.45 406.11,136.41 406.91,136.37 407.7,136.33 408.5,136.29 409.29,136.24 410.09,136.19 410.89,136.15 411.68,136.1 412.48,136.05 413.28,135.99 414.07,135.94 414.87,135.88 415.67,135.83 416.46,135.77 417.26,135.71 418.05,135.64 418.85,135.58 419.65,135.51 420.44,135.44 421.24,135.37 422.04,135.3 422.83,135.22 423.63,135.14 424.43,135.06 425.22,134.97 426.02,134.89 426.81,134.8 427.61,134.7 428.41,134.61 429.2,134.51 430,134.41 430.8,134.3 431.59,134.19 432.39,134.08 433.18,133.96 433.98,133.84 434.78,133.72 435.57,133.59 436.37,133.46 437.17,133.32 437.96,133.18 438.76,133.03 439.56,132.88 440.35,132.72 441.15,132.56 441.94,132.39 442.74,132.21 443.54,132.03 444.33,131.85 445.13,131.66 445.93,131.46 446.72,131.25 447.52,131.04 448.32,130.82 449.11,130.59 449.91,130.35 450.7,130.11 451.5,129.86 452.3,129.6 453.09,129.33 453.89,129.05 454.69,128.76 455.48,128.46 456.28,128.15 457.07,127.83 457.87,127.5 458.67,127.16 459.46,126.81 460.26,126.44 461.06,126.06 461.85,125.67 462.65,125.27 463.45,124.85 464.24,124.41 465.04,123.96 465.83,123.5 466.63,123.02 467.43,122.52 468.22,122 469.02,121.47 469.82,120.92 470.61,120.35 471.41,119.76 472.21,119.15 473,118.51 473.8,117.86 474.59,117.18 475.39,116.48 476.19,115.75 476.98,115 477.78,114.22 478.58,113.42 479.37,112.59 480.17,111.72 480.96,110.83 481.76,109.91 482.56,108.95 483.35,107.96 484.15,106.94 484.95,105.88 485.74,104.78 486.54,103.65 487.34,102.47 488.13,101.25 488.93,99.99 489.72,98.69 490.52,97.34 491.32,95.95 492.11,94.5 492.91,93.01 493.71,91.46 494.5,89.85 495.3,88.19 496.1,86.48 496.89,84.7 497.69,82.86 498.48,80.96 499.28,78.98 500.08,76.94 500.87,74.83 501.67,72.64 502.47,70.38 503.26,68.04 504.06,65.61 504.85,63.1 505.65,60.5 506.45,57.81 507.24,55.03 508.04,52.15 508.84,49.16 509.63,46.07 510.43,42.88 511.23,39.57 512.02,36.14 512.82,32.59 513.61,28.92 514.41,25.12 515.21,21.19 516,17.11 516.8,12.9" fill="none" stroke="#0000ff" stroke-width="1.0" stroke-linejoin="round"/>
<polygon points="277.9,135.99 280.05,139.86 275.75,139.86" fill="#0000ff"/>
<polygon points="279.49,135.98 281.64,139.85 277.34,139.85" fill="#0000ff"/>
<polygon points="281.09,135.97 283.24,139.84 278.94,139.84" fill="#0000ff"/>
<polygon points="282.68,135.96 284.83,139.83 280.53,139.83" fill="#0000ff"/>
<polygon points="284.27,135.95 286.42,139.82 282.12,139.82" fill="#0000ff"/>
<polygon points="285.86,135.94 288.01,139.81 283.71,139.81" fill="#0000ff"/>
<polygon points="287.46,135.92 289.61,139.79 285.31,139.79" fill="#0000ff"/>
<polygon points="289.05,135.91 291.2,139.78 286.9,139.78" fill="#0000ff"/>
<polygon points="290.64,135.9 292.79,139.77 288.49,139.77" fill="#0000ff"/>
<polygon points="292.23,135.89 294.38,139.76 290.08,139.76" fill="#0000ff"/>
<polygon points="293.83,135.88 295.98,139.75 291.68,139.75" fill="#0000ff"/>
<polygon points="295.42,135.87 297.57,139.74 293.27,139.74" fill="#0000ff"/>
<polygon points="297.01,135.85 299.16,139.72 294.86,139.72" fill="#0000ff"/>
<polygon points="298.6,135.84 300.75,139.71 296.45,139.71" fill="#0000ff"/>
<polygon points="300.2,135.83 302.35,139.7 298.05,139.7" fill="#0000ff"/>
<polygon points="301.79,135.82 303.94,139.69 299.64,139.69" fill="#0000ff"/>
<polygon points="303.38,135.81 305.53,139.68 301.23,139.68" fill="#0000ff"/>
<polygon points="304.98,135.8 307.13,139.67 302.83,139.67" fill="#0000ff"/>
<polygon points="306.57,135.78 308.72,139.65 304.42,139.65" fill="#0000ff"/>
<polygon points="308.16,135.77 310.31,139.64 306.01,139.64" fill="#0000ff"/>
<polygon points="309.75,135.76 311.9,139.63 307.6,139.63" fill="#0000ff"/>
<polygon points="311.35,135.75 313.5,139.62 309.2,139.62" fill="#0000ff"/>
<polygon points="312.94,135.73 315.09,139.6 310.79,139.6" fill="#0000ff"/>
<polygon points="314.53,135.72 316.68,139.59 312.38,139.59" fill="#0000ff"/>
<polygon points="316.12,135.71 318.27,139.58 313.97,139.58" fill="#0000ff"/>
<polygon points="317.72,135.7 319.87,139.57 315.57,139.57" fill="#0000ff"/>
<polygon points="319.31,135.68 321.46,139.55 317.16,139.55" fill="#0000ff"/>
<polygon points="320.9,135.67 323.05,139.54 318.75,139.54" fill="#0000ff"/>
<polygon points="322.49,135.66 324.64,139.53 320.34,139.53" fill="#0000ff"/>
<polygon points="324.09,135.64 326.24,139.51 321.94,139.51" fill="#0000ff"/>
<polygon points="325.68,135.63 327.83,139.5 323.53,139.5" fill="#0000ff"/>
<polygon points="327.27,135.62 329.42,139.49 325.12,139.49" fill="#0000ff"/>
<polygon points="328.87,135.6 331.02,139.47 326.72,139.47" fill="#0000ff"/>
<polygon points="330.46,135.59 332.61,139.46 328.31,139.46" fill="#0000ff"/>
<polygon points="332.05,135.58 334.2,139.45 329.9,139.45" fill="#0000ff"/>
<polygon points="333.64,135.56 335.79,139.43 331.49,139.43" fill="#0000ff"/>
<polygon points="335.24,135.55 337.39,139.42 333.09,139.42" fill="#0000ff"/>
<polygon points="336.83,135.53 338.98,139.4 334.68,139.4" fill="#0000ff"/>
<polygon points="338.42,135.52 340.57,139.39 336.27,139.39" fill="#0000ff"/>
<polygon points="340.01,135.5 342.16,139.37 337.86,139.37" fill="#0000ff"/>
<polygon points="341.61,135.49 343.76,139.36 339.46,139.36" fill="#0000ff"/>
<polygon points="343.2,135.47 345.35,139.34 341.05,139.34" fill="#0000ff"/>
<polygon points="344.79,135.46 346.94,139.33 342.64,139.33" fill="#0000ff"/>
<polygon points="346.38,135.44 348.53,139.31 344.23,139.31" fill="#0000ff"/>
<polygon points="347.98,135.42 350.13,139.29 345.83,139.29" fill="#0000ff"/>
<polygon points="349.57,135.41 351.72,139.28 347.42,139.28" fill="#0000ff"/>
<polygon points="351.16,135.39 353.31,139.26 349.01,139.26" fill="#0000ff"/>
<polygon points="352.76,135.37 354.91,139.24 350.61,139.24" fill="#0000ff"/>
<polygon points="354.35,135.35 356.5,139.22 352.2,139.22" fill="#0000ff"/>
<polygon points="355.94,135.34 358.09,139.21 353.79,139.21" fill="#0000ff"/>
<polygon points="357.53,135.32 359.68,139.19 355.38,139.19" fill="#0000ff"/>
<polygon points="359.13,135.3 361.28,139.17 356.98,139.17" fill="#0000ff"/>
<polygon points="360.72,135.28 362.87,139.15 358.57,139.15" fill="#0000ff"/>
<polygon points="362.31,135.25 364.46,139.12 360.16,139.12" fill="#0000ff"/>
<polygon points="363.9,135.23 366.05,139.1 361.75,139.1" fill="#0000ff"/>
<polygon points="365.5,135.21 367.65,139.08 363.35,139.08" fill="#0000ff"/>
<polygon points="367.09,135.19 369.24,139.06 364.94,139.06" fill="#0000ff"/>
<polygon points="368.68,135.16 370.83,139.03 366.53,139.03" fill="#0000ff"/>
<polygon points="370.27,135.14 372.42,139.01 368.12,139.01" fill="#0000ff"/>
<polygon points="371.87,135.11 374.02,138.98 369.72,138.98" fill="#0000ff"/>
<polygon points="373.46,135.08 375.61,138.95 371.31,138.95" fill="#0000ff"/>
<polygon points="375.05,135.05 377.2,138.92 372.9,138.92" fill="#0000ff"/>
<polygon points="376.65,135.02 378.8,138.89 374.5,138.89" fill="#0000ff"/>
<polygon points="378.24,134.99 380.39,138.86 376.09,138.86" fill="#0000ff"/>
<polygon points="379.83,134.96 381.98,138.83 377.68,138.83" fill="#0000ff"/>
<polygon points="381.42,134.93 383.57,138.8 379.27,138.8" fill="#0000ff"/>
<polygon points="383.02,134.89 385.17,138.76 380.87,138.76" fill="#0000ff"/>
<polygon points="384.61,134.85 386.76,138.72 382.46,138.72" fill="#0000ff"/>
<polygon points="386.2,134.81 388.35,138.68 384.05,138.68" fill="#0000ff"/>
<polygon points="387.79,134.77 389.94,138.64 385.64,138.64" fill="#0000ff"/>
<polygon points="389.39,134.73 391.54,138.6 387.24,138.6" fill="#0000ff"/>
<polygon points="390.98,134.68 393.13,138.55 388.83,138.55" fill="#0000ff"/>
<polygon points="392.57,134.63 394.72,138.5 390.42,138.5" fill="#0000ff"/>
<polygon points="394.16,134.58 396.31,138.45 392.01,138.45" fill="#0000ff"/>
<polygon points="395.76,134.53 397.91,138.4 393.61,138.4" fill="#0000ff"/>
<polygon points="397.35,134.47 399.5,138.34 395.2,138.34" fill="#0000ff"/>
<polygon points="398.94,134.41 401.09,138.28 396.79,138.28" fill="#0000ff"/>
<polygon points="400.54,134.35 402.69,138.22 398.39,138.22" fill="#0000ff"/>
<polygon points="402.13,134.28 404.28,138.15 399.98,138.15" fill="#0000ff"/>
<polygon points="403.72,134.21 405.87,138.08 401.57,138.08" fill="#0000ff"/>
<polygon points="405.31,134.13 407.46,138 403.16,138" fill="#0000ff"/>
<polygon points="406.91,134.05 409.06,137.92 404.76,137.92" fill="#0000ff"/>
<polygon points="408.5,133.96 410.65,137.83 406.35,137.83" fill="#0000ff"/>
<polygon points="410.09,133.87 412.24,137.74 407.94,137.74" fill="#0000ff"/>
<polygon points="411.68,133.77 413.83,137.64 409.53,137.64" fill="#0000ff"/>
<polygon points="413.28,133.67 415.43,137.54 411.13,137.54" fill="#0000ff"/>
<polygon points="414.87,133.56 417.02,137.43 412.72,137.43" fill="#0000ff"/>
<polygon points="416.46,133.45 418.61,137.32 414.31,137.32" fill="#0000ff"/>
<polygon points="418.05,133.32 420.2,137.19 415.9,137.19" fill="#0000ff"/>
<polygon points="419.65,133.19 421.8,137.06 417.5,137.06" fill="#0000ff"/>
<polygon points="421.24,133.05 423.39,136.92 419.09,136.92" fill="#0000ff"/>
<polygon points="422.83,132.9 424.98,136.77 420.68,136.77" fill="#0000ff"/>
<polygon points="424.43,132.74 426.58,136.61 422.28,136.61" fill="#0000ff"/>
<polygon points="426.02,132.57 428.17,136.44 423.87,136.44" fill="#0000ff"/>
<polygon points="427.61,132.38 429.76,136.25 425.46,136.25" fill="#0000ff"/>
<polygon points="429.2,132.19 431.35,136.06 427.05,136.06" fill="#0000ff"/>
<polygon points="430.8,131.98 432.95,135.85 428.65,135.85" fill="#0000ff"/>
<polygon points="432.39,131.76 434.54,135.63 430.24,135.63" fill="#0000ff"/>
<polygon points="433.98,131.52 436.13,135.39 431.83,135.39" fill="#0000ff"/>
<polygon points="435.57,131.27 437.72,135.14 433.42,135.14" fill="#0000ff"/>
<polygon points="437.17,131 439.32,134.87 435.02,134.87" fill="#0000ff"/>
<polygon points="438.76,130.71 440.91,134.58 436.61,134.58" fill="#0000ff"/>
<polygon points="440.35,130.4 442.5,134.27 438.2,134.27" fill="#0000ff"/>
<polygon points="441.94,130.07 444.09,133.94 439.79,133.94" fill="#0000ff"/>
<polygon points="443.54,129.71 445.69,133.58 441.39,133.58" fill="#0000ff"/>
<polygon points="445.13,129.33 447.28,133.2 442.98,133.2" fill="#0000ff"/>
<polygon points="446.72,128.93 448.87,132.8 444.57,132.8" fill="#0000ff"/>
<polygon points="448.32,128.5 450.47,132.37 446.17,132.37" fill="#0000ff"/>
<polygon points="449.91,128.03 452.06,131.9 447.76,131.9" fill="#0000ff"/>
<polygon points="451.5,127.54 453.65,131.41 449.35,131.41" fill="#0000ff"/>
<polygon points="453.09,127.01 455.24,130.88 450.94,130.88" fill="#0000ff"/>
<polygon points="454.69,126.44 456.84,130.31 452.54,130.31" fill="#0000ff"/>
<polygon points="456.28,125.83 458.43,129.7 454.13,129.7" fill="#0000ff"/>
<polygon points="457.87,125.18 460.02,129.05 455.72,129.05" fill="#0000ff"/>
<polygon points="459.46,124.49 461.61,128.36 457.31,128.36" fill="#0000ff"/>
<polygon points="461.06,123.74 463.21,127.61 458.91,127.61" fill="#0000ff"/>
<polygon points="462.65,122.94 464.8,126.81 460.5,126.81" fill="#0000ff"/>
<polygon points="464.24,122.09 466.39,125.96 462.09,125.96" fill="#0000ff"/>
<polygon points="465.83,121.18 467.98,125.05 463.68,125.05" fill="#0000ff"/>
<polygon points="467.43,120.2 469.58,124.07 465.28,124.07" fill="#0000ff"/>
<polygon points="469.02,119.15 471.17,123.02 466.87,123.02" fill="#0000ff"/>
<polygon points="470.61,118.03 472.76,121.9 468.46,121.9" fill="#0000ff"/>
<polygon points="472.21,116.82 474.36,120.69 470.06,120.69" fill="#0000ff"/>
<polygon points="473.8,115.54 475.95,119.41 471.65,119.41" fill="#0000ff"/>
<polygon points="475.39,114.16 477.54,118.03 473.24,118.03" fill="#0000ff"/>
<polygon points="476.98,112.68 479.13,116.55 474.83,116.55" fill="#0000ff"/>
<polygon points="478.58,111.1 480.73,114.97 476.43,114.97" fill="#0000ff"/>
<polygon points="480.17,109.4 482.32,113.27 478.02,113.27" fill="#0000ff"/>
<polygon points="481.76,107.59 483.91,111.46 479.61,111.46" fill="#0000ff"/>
<polygon points="483.35,105.64 485.5,109.51 481.2,109.51" fill="#0000ff"/>
<polygon points="484.95,103.56 487.1,107.43 482.8,107.43" fill="#0000ff"/>
<polygon points="486.54,101.32 488.69,105.19 484.39,105.19" fill="#0000ff"/>
<polygon points="488.13,98.93 490.28,102.8 485.98,102.8" fill="#0000ff"/>
<polygon points="489.72,96.37 491.87,100.24 487.57,100.24" fill="#0000ff"/>
<polygon points="491.32,93.62 493.47,97.49 489.17,97.49" fill="#0000ff"/>
<polygon points="492.91,90.68 495.06,94.55 490.76,94.55" fill="#0000ff"/>
<polygon points="494.5,87.53 496.65,91.4 492.35,91.4" fill="#0000ff"/>
<polygon points="496.1,84.16 498.25,88.03 493.95,88.03" fill="#0000ff"/>
<polygon points="497.69,80.54 499.84,84.41 495.54,84.41" fill="#0000ff"/>
<polygon points="499.28,76.66 501.43,80.53 497.13,80.53" fill="#0000ff"/>
<polygon points="500.87,72.51 503.02,76.38 498.72,76.38" fill="#0000ff"/>
<polygon points="502.47,68.06 504.62,71.93 500.32,71.93" fill="#0000ff"/>
<polygon points="504.06,63.29 506.21,67.16 501.91,67.16" fill="#0000ff"/>
<polygon points="505.65,58.18 507.8,62.05 503.5,62.05" fill="#0000ff"/>
<polygon points="507.24,52.71 509.39,56.58 505.09,56.58" fill="#0000ff"/>
<polygon points="508.84,46.84 510.99,50.71 506.69,50.71" fill="#0000ff"/>
<polygon points="510.43,40.55 512.58,44.42 508.28,44.42" fill="#0000ff"/>
<polygon points="512.02,33.82 514.17,37.69 509.87,37.69" fill="#0000ff"/>
<polygon points="513.61,26.6 515.76,30.47 511.46,30.47" fill="#0000ff"/>
<polygon points="515.21,18.86 517.36,22.73 513.06,22.73" fill="#0000ff"/>
<polygon points="516.8,10.58 518.95,14.45 514.65,14.45" fill="#0000ff"/>
</g>
<rect x="285.4" y="0.3" width="131.6" height="68.2" fill="#fff" stroke="#6e6e6e" stroke-width="1"/>
<line x1="293.2" y1="10.9" x2="322.4" y2="10.9" stroke="#a58af5" stroke-width="1.2"/>
<polygon points="308,6.2 309.24,9.19 312.47,9.45 310.01,11.55 310.76,14.7 308,13.02 305.24,14.7 305.99,11.55 303.53,9.45 306.76,9.19" fill="#7010f0"/>
<text transform="translate(326,15.1) scale(1,1.1)" font-family="'Liberation Serif', 'Times New Roman', serif" font-weight="bold" stroke="#000" stroke-width="0.25" font-size="12.9">no space charge</text>
<line x1="293.2" y1="27.6" x2="322.4" y2="27.6" stroke="#555" stroke-width="1.2"/>
<rect x="304.7" y="24.3" width="6.6" height="6.6" fill="#000000"/>
<text transform="translate(326,31.8) scale(1,1.1)" font-family="'Liberation Serif', 'Times New Roman', serif" font-weight="bold" stroke="#000" stroke-width="0.25" font-size="12.9">ρ=0.05</text>
<line x1="293.2" y1="44.3" x2="322.4" y2="44.3" stroke="#f07070" stroke-width="1.2"/>
<circle cx="308" cy="44.3" r="3.5" fill="#ff0000"/>
<text transform="translate(326,48.5) scale(1,1.1)" font-family="'Liberation Serif', 'Times New Roman', serif" font-weight="bold" stroke="#000" stroke-width="0.25" font-size="12.9">ρ=0.075</text>
<line x1="293.2" y1="61.0" x2="322.4" y2="61.0" stroke="#6a6af5" stroke-width="1.2"/>
<polygon points="308,56.66 312.3,64.4 303.7,64.4" fill="#0000ff"/>
<text transform="translate(326,65.2) scale(1,1.1)" font-family="'Liberation Serif', 'Times New Roman', serif" font-weight="bold" stroke="#000" stroke-width="0.25" font-size="12.9">ρ=0.1</text>
<rect x="26" y="180.1" width="195.2" height="159.7" fill="none" stroke="#6e6e6e" stroke-width="1.15"/>
<line x1="26" y1="339.8" x2="26" y2="336.3" stroke="#6e6e6e" stroke-width="1"/>
<line x1="78.05" y1="339.8" x2="78.05" y2="336.3" stroke="#6e6e6e" stroke-width="1"/>
<line x1="130.11" y1="339.8" x2="130.11" y2="336.3" stroke="#6e6e6e" stroke-width="1"/>
<line x1="182.16" y1="339.8" x2="182.16" y2="336.3" stroke="#6e6e6e" stroke-width="1"/>
<line x1="52.03" y1="339.8" x2="52.03" y2="337.8" stroke="#6e6e6e" stroke-width="1"/>
<line x1="104.08" y1="339.8" x2="104.08" y2="337.8" stroke="#6e6e6e" stroke-width="1"/>
<line x1="156.13" y1="339.8" x2="156.13" y2="337.8" stroke="#6e6e6e" stroke-width="1"/>
<line x1="208.19" y1="339.8" x2="208.19" y2="337.8" stroke="#6e6e6e" stroke-width="1"/>
<text transform="translate(26,353.2) scale(1,1.1)" font-family="'Liberation Serif', 'Times New Roman', serif" font-weight="bold" stroke="#000" stroke-width="0.25" font-size="12" text-anchor="middle">0</text>
<text transform="translate(78.05,353.2) scale(1,1.1)" font-family="'Liberation Serif', 'Times New Roman', serif" font-weight="bold" stroke="#000" stroke-width="0.25" font-size="12" text-anchor="middle">4</text>
<text transform="translate(130.11,353.2) scale(1,1.1)" font-family="'Liberation Serif', 'Times New Roman', serif" font-weight="bold" stroke="#000" stroke-width="0.25" font-size="12" text-anchor="middle">8</text>
<text transform="translate(182.16,353.2) scale(1,1.1)" font-family="'Liberation Serif', 'Times New Roman', serif" font-weight="bold" stroke="#000" stroke-width="0.25" font-size="12" text-anchor="middle">12</text>
<line x1="26" y1="339.8" x2="29.5" y2="339.8" stroke="#6e6e6e" stroke-width="1"/>
<line x1="26" y1="302.22" x2="29.5" y2="302.22" stroke="#6e6e6e" stroke-width="1"/>
<line x1="26" y1="264.65" x2="29.5" y2="264.65" stroke="#6e6e6e" stroke-width="1"/>
<line x1="26" y1="227.07" x2="29.5" y2="227.07" stroke="#6e6e6e" stroke-width="1"/>
<line x1="26" y1="189.49" x2="29.5" y2="189.49" stroke="#6e6e6e" stroke-width="1"/>
<line x1="26" y1="321.01" x2="28" y2="321.01" stroke="#6e6e6e" stroke-width="1"/>
<line x1="26" y1="283.44" x2="28" y2="283.44" stroke="#6e6e6e" stroke-width="1"/>
<line x1="26" y1="245.86" x2="28" y2="245.86" stroke="#6e6e6e" stroke-width="1"/>
<line x1="26" y1="208.28" x2="28" y2="208.28" stroke="#6e6e6e" stroke-width="1"/>
<text transform="translate(22.2,342.7) scale(1,1.1)" font-family="'Liberation Serif', 'Times New Roman', serif" font-weight="bold" stroke="#000" stroke-width="0.25" font-size="12" text-anchor="end">0</text>
<text transform="translate(22.2,305.12) scale(1,1.1)" font-family="'Liberation Serif', 'Times New Roman', serif" font-weight="bold" stroke="#000" stroke-width="0.25" font-size="12" text-anchor="end">2</text>
<text transform="translate(22.2,267.55) scale(1,1.1)" font-family="'Liberation Serif', 'Times New Roman', serif" font-weight="bold" stroke="#000" stroke-width="0.25" font-size="12" text-anchor="end">4</text>
<text transform="translate(22.2,229.97) scale(1,1.1)" font-family="'Liberation Serif', 'Times New Roman', serif" font-weight="bold" stroke="#000" stroke-width="0.25" font-size="12" text-anchor="end">6</text>
<text transform="translate(22.2,192.39) scale(1,1.1)" font-family="'Liberation Serif', 'Times New Roman', serif" font-weight="bold" stroke="#000" stroke-width="0.25" font-size="12" text-anchor="end">8</text>
<text transform="translate(101.4,367) scale(1,1.1)" font-family="'Liberation Serif', 'Times New Roman', serif" font-weight="bold" stroke="#000" stroke-width="0.25" font-size="12.7" text-anchor="middle">position (nm)</text>
<text transform="translate(12.3,332.5) rotate(-90)" x="0" y="0" font-family="'Liberation Serif', 'Times New Roman', serif" font-weight="bold" stroke="#000" stroke-width="0.25" font-size="12.25">charge density(x10<tspan dy="-5.2" font-size="7.6">-2</tspan><tspan dy="5.2">C/m</tspan><tspan dy="-5.2" font-size="7.6">2</tspan><tspan dy="5.2">)</tspan></text>
<g clip-path="url(#clipb)">
<polyline points="26,339.8 26.65,339.8 27.3,339.8 27.95,339.8 28.6,339.8 29.25,339.8 29.9,339.8 30.55,339.8 31.21,339.8 31.86,339.8 32.51,339.8 33.16,339.8 33.81,339.8 34.46,339.8 35.11,339.8 35.76,339.8 36.41,339.8 37.06,339.8 37.71,339.8 38.36,339.79 39.01,339.79 39.66,339.79 40.31,339.79 40.97,339.79 41.62,339.79 42.27,339.79 42.92,339.79 43.57,339.79 44.22,339.79 44.87,339.79 45.52,339.79 46.17,339.79 46.82,339.79 47.47,339.79 48.12,339.79 48.77,339.79 49.42,339.79 50.07,339.79 50.73,339.79 51.38,339.79 52.03,339.79 52.68,339.79 53.33,339.79 53.98,339.79 54.63,339.79 55.28,339.79 55.93,339.79 56.58,339.79 57.23,339.79 57.88,339.79 58.53,339.79 59.18,339.78 59.83,339.78 60.49,339.78 61.14,339.78 61.79,339.78 62.44,339.78 63.09,339.78 63.74,339.78 64.39,339.78 65.04,339.78 65.69,339.78 66.34,339.78 66.99,339.78 67.64,339.78 68.29,339.77 68.94,339.77 69.59,339.77 70.25,339.77 70.9,339.77 71.55,339.77 72.2,339.77 72.85,339.77 73.5,339.77 74.15,339.77 74.8,339.76 75.45,339.76 76.1,339.76 76.75,339.76 77.4,339.76 78.05,339.76 78.7,339.76 79.35,339.75 80.01,339.75 80.66,339.75 81.31,339.75 81.96,339.75 82.61,339.75 83.26,339.74 83.91,339.74 84.56,339.74 85.21,339.74 85.86,339.74 86.51,339.73 87.16,339.73 87.81,339.73 88.46,339.73 89.11,339.72 89.77,339.72 90.42,339.72 91.07,339.71 91.72,339.71 92.37,339.71 93.02,339.7 93.67,339.7 94.32,339.7 94.97,339.69 95.62,339.69 96.27,339.69 96.92,339.68 97.57,339.68 98.22,339.67 98.87,339.67 99.53,339.67 100.18,339.66 100.83,339.66 101.48,339.65 102.13,339.64 102.78,339.64 103.43,339.63 104.08,339.63 104.73,339.62 105.38,339.62 106.03,339.61 106.68,339.6 107.33,339.59 107.98,339.59 108.63,339.58 109.29,339.57 109.94,339.56 110.59,339.56 111.24,339.55 111.89,339.54 112.54,339.53 113.19,339.52 113.84,339.51 114.49,339.5 115.14,339.49 115.79,339.48 116.44,339.47 117.09,339.45 117.74,339.44 118.39,339.43 119.05,339.41 119.7,339.4 120.35,339.39 121,339.37 121.65,339.36 122.3,339.34 122.95,339.32 123.6,339.31 124.25,339.29 124.9,339.27 125.55,339.25 126.2,339.23 126.85,339.21 127.5,339.19 128.15,339.17 128.81,339.15 129.46,339.13 130.11,339.1 130.76,339.08 131.41,339.05 132.06,339.02 132.71,339 133.36,338.97 134.01,338.94 134.66,338.91 135.31,338.88 135.96,338.84 136.61,338.81 137.26,338.77 137.91,338.74 138.57,338.7 139.22,338.66 139.87,338.62 140.52,338.58 141.17,338.53 141.82,338.49 142.47,338.44 143.12,338.39 143.77,338.34 144.42,338.29 145.07,338.24 145.72,338.18 146.37,338.13 147.02,338.07 147.67,338 148.33,337.94 148.98,337.87 149.63,337.81 150.28,337.73 150.93,337.66 151.58,337.58 152.23,337.51 152.88,337.42 153.53,337.34 154.18,337.25 154.83,337.16 155.48,337.07 156.13,336.97 156.78,336.87 157.43,336.76 158.09,336.66 158.74,336.54 159.39,336.43 160.04,336.31 160.69,336.18 161.34,336.06 161.99,335.92 162.64,335.78 163.29,335.64 163.94,335.49 164.59,335.34 165.24,335.18 165.89,335.02 166.54,334.85 167.19,334.67 167.85,334.49 168.5,334.3 169.15,334.1 169.8,333.9 170.45,333.69 171.1,333.47 171.75,333.25 172.4,333.01 173.05,332.77 173.7,332.52 174.35,332.26 175,331.99 175.65,331.72 176.3,331.43 176.95,331.13 177.61,330.82 178.26,330.5 178.91,330.17 179.56,329.83 180.21,329.47 180.86,329.1 181.51,328.72 182.16,328.33 182.81,327.92 183.46,327.5 184.11,327.06 184.76,326.6 185.41,326.13 186.06,325.65 186.71,325.14 187.37,324.62 188.02,324.08 188.67,323.52 189.32,322.94 189.97,322.34 190.62,321.72 191.27,321.08 191.92,320.41 192.57,319.72 193.22,319 193.87,318.26 194.52,317.5 195.17,316.7 195.82,315.88 196.47,315.03 197.13,314.15 197.78,313.23 198.43,312.29 199.08,311.31 199.73,310.29 200.38,309.24 201.03,308.15 201.68,307.03 202.33,305.86 202.98,304.65 203.63,303.4 204.28,302.1 204.93,300.76 205.58,299.37 206.23,297.93 206.89,296.44 207.54,294.9 208.19,293.3 208.84,291.64 209.49,289.93 210.14,288.15 210.79,286.31 211.44,284.41 212.09,282.44 212.74,280.39 213.39,278.28 214.04,276.09 214.69,273.82 215.34,271.47 215.99,269.04 216.65,266.52 217.3,263.91 217.95,261.2 218.6,258.41 219.25,255.51 219.9,252.51 220.55,249.4 221.2,246.18" fill="none" stroke="#000000" stroke-width="1.0" stroke-linejoin="round"/>
<rect x="24.48" y="338.28" width="3.04" height="3.04" fill="#000000"/>
<rect x="25.78" y="338.28" width="3.04" height="3.04" fill="#000000"/>
<rect x="27.08" y="338.28" width="3.04" height="3.04" fill="#000000"/>
<rect x="28.38" y="338.28" width="3.04" height="3.04" fill="#000000"/>
<rect x="29.69" y="338.28" width="3.04" height="3.04" fill="#000000"/>
<rect x="30.99" y="338.28" width="3.04" height="3.04" fill="#000000"/>
<rect x="32.29" y="338.28" width="3.04" height="3.04" fill="#000000"/>
<rect x="33.59" y="338.28" width="3.04" height="3.04" fill="#000000"/>
<rect x="34.89" y="338.28" width="3.04" height="3.04" fill="#000000"/>
<rect x="36.19" y="338.28" width="3.04" height="3.04" fill="#000000"/>
<rect x="37.49" y="338.27" width="3.04" height="3.04" fill="#000000"/>
<rect x="38.79" y="338.27" width="3.04" height="3.04" fill="#000000"/>
<rect x="40.1" y="338.27" width="3.04" height="3.04" fill="#000000"/>
<rect x="41.4" y="338.27" width="3.04" height="3.04" fill="#000000"/>
<rect x="42.7" y="338.27" width="3.04" height="3.04" fill="#000000"/>
<rect x="44" y="338.27" width="3.04" height="3.04" fill="#000000"/>
<rect x="45.3" y="338.27" width="3.04" height="3.04" fill="#000000"/>
<rect x="46.6" y="338.27" width="3.04" height="3.04" fill="#000000"/>
<rect x="47.9" y="338.27" width="3.04" height="3.04" fill="#000000"/>
<rect x="49.21" y="338.27" width="3.04" height="3.04" fill="#000000"/>
<rect x="50.51" y="338.27" width="3.04" height="3.04" fill="#000000"/>
<rect x="51.81" y="338.27" width="3.04" height="3.04" fill="#000000"/>
<rect x="53.11" y="338.27" width="3.04" height="3.04" fill="#000000"/>
<rect x="54.41" y="338.27" width="3.04" height="3.04" fill="#000000"/>
<rect x="55.71" y="338.27" width="3.04" height="3.04" fill="#000000"/>
<rect x="57.01" y="338.27" width="3.04" height="3.04" fill="#000000"/>
<rect x="58.31" y="338.26" width="3.04" height="3.04" fill="#000000"/>
<rect x="59.62" y="338.26" width="3.04" height="3.04" fill="#000000"/>
<rect x="60.92" y="338.26" width="3.04" height="3.04" fill="#000000"/>
<rect x="62.22" y="338.26" width="3.04" height="3.04" fill="#000000"/>
<rect x="63.52" y="338.26" width="3.04" height="3.04" fill="#000000"/>
<rect x="64.82" y="338.26" width="3.04" height="3.04" fill="#000000"/>
<rect x="66.12" y="338.26" width="3.04" height="3.04" fill="#000000"/>
<rect x="67.42" y="338.25" width="3.04" height="3.04" fill="#000000"/>
<rect x="68.73" y="338.25" width="3.04" height="3.04" fill="#000000"/>
<rect x="70.03" y="338.25" width="3.04" height="3.04" fill="#000000"/>
<rect x="71.33" y="338.25" width="3.04" height="3.04" fill="#000000"/>
<rect x="72.63" y="338.25" width="3.04" height="3.04" fill="#000000"/>
<rect x="73.93" y="338.24" width="3.04" height="3.04" fill="#000000"/>
<rect x="75.23" y="338.24" width="3.04" height="3.04" fill="#000000"/>
<rect x="76.53" y="338.24" width="3.04" height="3.04" fill="#000000"/>
<rect x="77.83" y="338.23" width="3.04" height="3.04" fill="#000000"/>
<rect x="79.14" y="338.23" width="3.04" height="3.04" fill="#000000"/>
<rect x="80.44" y="338.23" width="3.04" height="3.04" fill="#000000"/>
<rect x="81.74" y="338.22" width="3.04" height="3.04" fill="#000000"/>
<rect x="83.04" y="338.22" width="3.04" height="3.04" fill="#000000"/>
<rect x="84.34" y="338.22" width="3.04" height="3.04" fill="#000000"/>
<rect x="85.64" y="338.21" width="3.04" height="3.04" fill="#000000"/>
<rect x="86.94" y="338.21" width="3.04" height="3.04" fill="#000000"/>
<rect x="88.25" y="338.2" width="3.04" height="3.04" fill="#000000"/>
<rect x="89.55" y="338.19" width="3.04" height="3.04" fill="#000000"/>
<rect x="90.85" y="338.19" width="3.04" height="3.04" fill="#000000"/>
<rect x="92.15" y="338.18" width="3.04" height="3.04" fill="#000000"/>
<rect x="93.45" y="338.17" width="3.04" height="3.04" fill="#000000"/>
<rect x="94.75" y="338.17" width="3.04" height="3.04" fill="#000000"/>
<rect x="96.05" y="338.16" width="3.04" height="3.04" fill="#000000"/>
<rect x="97.35" y="338.15" width="3.04" height="3.04" fill="#000000"/>
<rect x="98.66" y="338.14" width="3.04" height="3.04" fill="#000000"/>
<rect x="99.96" y="338.13" width="3.04" height="3.04" fill="#000000"/>
<rect x="101.26" y="338.12" width="3.04" height="3.04" fill="#000000"/>
<rect x="102.56" y="338.11" width="3.04" height="3.04" fill="#000000"/>
<rect x="103.86" y="338.1" width="3.04" height="3.04" fill="#000000"/>
<rect x="105.16" y="338.08" width="3.04" height="3.04" fill="#000000"/>
<rect x="106.46" y="338.07" width="3.04" height="3.04" fill="#000000"/>
<rect x="107.77" y="338.05" width="3.04" height="3.04" fill="#000000"/>
<rect x="109.07" y="338.04" width="3.04" height="3.04" fill="#000000"/>
<rect x="110.37" y="338.02" width="3.04" height="3.04" fill="#000000"/>
<rect x="111.67" y="338" width="3.04" height="3.04" fill="#000000"/>
<rect x="112.97" y="337.98" width="3.04" height="3.04" fill="#000000"/>
<rect x="114.27" y="337.96" width="3.04" height="3.04" fill="#000000"/>
<rect x="115.57" y="337.93" width="3.04" height="3.04" fill="#000000"/>
<rect x="116.87" y="337.91" width="3.04" height="3.04" fill="#000000"/>
<rect x="118.18" y="337.88" width="3.04" height="3.04" fill="#000000"/>
<rect x="119.48" y="337.85" width="3.04" height="3.04" fill="#000000"/>
<rect x="120.78" y="337.82" width="3.04" height="3.04" fill="#000000"/>
<rect x="122.08" y="337.79" width="3.04" height="3.04" fill="#000000"/>
<rect x="123.38" y="337.75" width="3.04" height="3.04" fill="#000000"/>
<rect x="124.68" y="337.71" width="3.04" height="3.04" fill="#000000"/>
<rect x="125.98" y="337.67" width="3.04" height="3.04" fill="#000000"/>
<rect x="127.29" y="337.63" width="3.04" height="3.04" fill="#000000"/>
<rect x="128.59" y="337.58" width="3.04" height="3.04" fill="#000000"/>
<rect x="129.89" y="337.53" width="3.04" height="3.04" fill="#000000"/>
<rect x="131.19" y="337.48" width="3.04" height="3.04" fill="#000000"/>
<rect x="132.49" y="337.42" width="3.04" height="3.04" fill="#000000"/>
<rect x="133.79" y="337.36" width="3.04" height="3.04" fill="#000000"/>
<rect x="135.09" y="337.29" width="3.04" height="3.04" fill="#000000"/>
<rect x="136.39" y="337.22" width="3.04" height="3.04" fill="#000000"/>
<rect x="137.7" y="337.14" width="3.04" height="3.04" fill="#000000"/>
<rect x="139" y="337.06" width="3.04" height="3.04" fill="#000000"/>
<rect x="140.3" y="336.97" width="3.04" height="3.04" fill="#000000"/>
<rect x="141.6" y="336.87" width="3.04" height="3.04" fill="#000000"/>
<rect x="142.9" y="336.77" width="3.04" height="3.04" fill="#000000"/>
<rect x="144.2" y="336.66" width="3.04" height="3.04" fill="#000000"/>
<rect x="145.5" y="336.55" width="3.04" height="3.04" fill="#000000"/>
<rect x="146.81" y="336.42" width="3.04" height="3.04" fill="#000000"/>
<rect x="148.11" y="336.29" width="3.04" height="3.04" fill="#000000"/>
<rect x="149.41" y="336.14" width="3.04" height="3.04" fill="#000000"/>
<rect x="150.71" y="335.99" width="3.04" height="3.04" fill="#000000"/>
<rect x="152.01" y="335.82" width="3.04" height="3.04" fill="#000000"/>
<rect x="153.31" y="335.64" width="3.04" height="3.04" fill="#000000"/>
<rect x="154.61" y="335.45" width="3.04" height="3.04" fill="#000000"/>
<rect x="155.91" y="335.24" width="3.04" height="3.04" fill="#000000"/>
<rect x="157.22" y="335.02" width="3.04" height="3.04" fill="#000000"/>
<rect x="158.52" y="334.79" width="3.04" height="3.04" fill="#000000"/>
<rect x="159.82" y="334.54" width="3.04" height="3.04" fill="#000000"/>
<rect x="161.12" y="334.26" width="3.04" height="3.04" fill="#000000"/>
<rect x="162.42" y="333.97" width="3.04" height="3.04" fill="#000000"/>
<rect x="163.72" y="333.66" width="3.04" height="3.04" fill="#000000"/>
<rect x="165.02" y="333.33" width="3.04" height="3.04" fill="#000000"/>
<rect x="166.33" y="332.97" width="3.04" height="3.04" fill="#000000"/>
<rect x="167.63" y="332.58" width="3.04" height="3.04" fill="#000000"/>
<rect x="168.93" y="332.17" width="3.04" height="3.04" fill="#000000"/>
<rect x="170.23" y="331.73" width="3.04" height="3.04" fill="#000000"/>
<rect x="171.53" y="331.25" width="3.04" height="3.04" fill="#000000"/>
<rect x="172.83" y="330.74" width="3.04" height="3.04" fill="#000000"/>
<rect x="174.13" y="330.2" width="3.04" height="3.04" fill="#000000"/>
<rect x="175.43" y="329.61" width="3.04" height="3.04" fill="#000000"/>
<rect x="176.74" y="328.98" width="3.04" height="3.04" fill="#000000"/>
<rect x="178.04" y="328.31" width="3.04" height="3.04" fill="#000000"/>
<rect x="179.34" y="327.58" width="3.04" height="3.04" fill="#000000"/>
<rect x="180.64" y="326.81" width="3.04" height="3.04" fill="#000000"/>
<rect x="181.94" y="325.98" width="3.04" height="3.04" fill="#000000"/>
<rect x="183.24" y="325.08" width="3.04" height="3.04" fill="#000000"/>
<rect x="184.54" y="324.13" width="3.04" height="3.04" fill="#000000"/>
<rect x="185.85" y="323.1" width="3.04" height="3.04" fill="#000000"/>
<rect x="187.15" y="322" width="3.04" height="3.04" fill="#000000"/>
<rect x="188.45" y="320.82" width="3.04" height="3.04" fill="#000000"/>
<rect x="189.75" y="319.56" width="3.04" height="3.04" fill="#000000"/>
<rect x="191.05" y="318.2" width="3.04" height="3.04" fill="#000000"/>
<rect x="192.35" y="316.74" width="3.04" height="3.04" fill="#000000"/>
<rect x="193.65" y="315.18" width="3.04" height="3.04" fill="#000000"/>
<rect x="194.95" y="313.51" width="3.04" height="3.04" fill="#000000"/>
<rect x="196.26" y="311.71" width="3.04" height="3.04" fill="#000000"/>
<rect x="197.56" y="309.79" width="3.04" height="3.04" fill="#000000"/>
<rect x="198.86" y="307.72" width="3.04" height="3.04" fill="#000000"/>
<rect x="200.16" y="305.51" width="3.04" height="3.04" fill="#000000"/>
<rect x="201.46" y="303.13" width="3.04" height="3.04" fill="#000000"/>
<rect x="202.76" y="300.58" width="3.04" height="3.04" fill="#000000"/>
<rect x="204.06" y="297.85" width="3.04" height="3.04" fill="#000000"/>
<rect x="205.37" y="294.92" width="3.04" height="3.04" fill="#000000"/>
<rect x="206.67" y="291.78" width="3.04" height="3.04" fill="#000000"/>
<rect x="207.97" y="288.41" width="3.04" height="3.04" fill="#000000"/>
<rect x="209.27" y="284.79" width="3.04" height="3.04" fill="#000000"/>
<rect x="210.57" y="280.92" width="3.04" height="3.04" fill="#000000"/>
<rect x="211.87" y="276.76" width="3.04" height="3.04" fill="#000000"/>
<rect x="213.17" y="272.3" width="3.04" height="3.04" fill="#000000"/>
<rect x="214.47" y="267.52" width="3.04" height="3.04" fill="#000000"/>
<rect x="215.78" y="262.39" width="3.04" height="3.04" fill="#000000"/>
<rect x="217.08" y="256.89" width="3.04" height="3.04" fill="#000000"/>
<rect x="218.38" y="250.99" width="3.04" height="3.04" fill="#000000"/>
<rect x="219.68" y="244.66" width="3.04" height="3.04" fill="#000000"/>
<polyline points="26,339.8 26.65,339.8 27.3,339.8 27.95,339.8 28.6,339.8 29.25,339.8 29.9,339.8 30.55,339.8 31.21,339.8 31.86,339.8 32.51,339.79 33.16,339.79 33.81,339.79 34.46,339.79 35.11,339.79 35.76,339.79 36.41,339.79 37.06,339.79 37.71,339.79 38.36,339.79 39.01,339.79 39.66,339.79 40.31,339.79 40.97,339.79 41.62,339.79 42.27,339.79 42.92,339.79 43.57,339.79 44.22,339.79 44.87,339.79 45.52,339.79 46.17,339.79 46.82,339.79 47.47,339.79 48.12,339.79 48.77,339.79 49.42,339.79 50.07,339.79 50.73,339.79 51.38,339.79 52.03,339.79 52.68,339.78 53.33,339.78 53.98,339.78 54.63,339.78 55.28,339.78 55.93,339.78 56.58,339.78 57.23,339.78 57.88,339.78 58.53,339.78 59.18,339.78 59.83,339.78 60.49,339.78 61.14,339.78 61.79,339.78 62.44,339.77 63.09,339.77 63.74,339.77 64.39,339.77 65.04,339.77 65.69,339.77 66.34,339.77 66.99,339.77 67.64,339.77 68.29,339.76 68.94,339.76 69.59,339.76 70.25,339.76 70.9,339.76 71.55,339.76 72.2,339.76 72.85,339.75 73.5,339.75 74.15,339.75 74.8,339.75 75.45,339.75 76.1,339.75 76.75,339.74 77.4,339.74 78.05,339.74 78.7,339.74 79.35,339.74 80.01,339.73 80.66,339.73 81.31,339.73 81.96,339.73 82.61,339.72 83.26,339.72 83.91,339.72 84.56,339.72 85.21,339.71 85.86,339.71 86.51,339.71 87.16,339.7 87.81,339.7 88.46,339.7 89.11,339.69 89.77,339.69 90.42,339.68 91.07,339.68 91.72,339.67 92.37,339.67 93.02,339.67 93.67,339.66 94.32,339.66 94.97,339.65 95.62,339.65 96.27,339.64 96.92,339.63 97.57,339.63 98.22,339.62 98.87,339.62 99.53,339.61 100.18,339.6 100.83,339.59 101.48,339.59 102.13,339.58 102.78,339.57 103.43,339.56 104.08,339.56 104.73,339.55 105.38,339.54 106.03,339.53 106.68,339.52 107.33,339.51 107.98,339.5 108.63,339.49 109.29,339.48 109.94,339.46 110.59,339.45 111.24,339.44 111.89,339.43 112.54,339.41 113.19,339.4 113.84,339.39 114.49,339.37 115.14,339.35 115.79,339.34 116.44,339.32 117.09,339.31 117.74,339.29 118.39,339.27 119.05,339.25 119.7,339.23 120.35,339.21 121,339.19 121.65,339.17 122.3,339.14 122.95,339.12 123.6,339.1 124.25,339.07 124.9,339.04 125.55,339.02 126.2,338.99 126.85,338.96 127.5,338.93 128.15,338.9 128.81,338.87 129.46,338.83 130.11,338.8 130.76,338.76 131.41,338.73 132.06,338.69 132.71,338.65 133.36,338.61 134.01,338.56 134.66,338.52 135.31,338.47 135.96,338.43 136.61,338.38 137.26,338.33 137.91,338.27 138.57,338.22 139.22,338.16 139.87,338.1 140.52,338.04 141.17,337.98 141.82,337.91 142.47,337.84 143.12,337.77 143.77,337.7 144.42,337.63 145.07,337.55 145.72,337.47 146.37,337.38 147.02,337.3 147.67,337.21 148.33,337.12 148.98,337.02 149.63,336.92 150.28,336.82 150.93,336.71 151.58,336.6 152.23,336.48 152.88,336.36 153.53,336.24 154.18,336.11 154.83,335.98 155.48,335.84 156.13,335.7 156.78,335.56 157.43,335.4 158.09,335.25 158.74,335.08 159.39,334.91 160.04,334.74 160.69,334.56 161.34,334.37 161.99,334.17 162.64,333.97 163.29,333.76 163.94,333.55 164.59,333.32 165.24,333.09 165.89,332.85 166.54,332.6 167.19,332.34 167.85,332.07 168.5,331.8 169.15,331.51 169.8,331.21 170.45,330.9 171.1,330.58 171.75,330.25 172.4,329.91 173.05,329.56 173.7,329.19 174.35,328.81 175,328.42 175.65,328.01 176.3,327.58 176.95,327.15 177.61,326.69 178.26,326.22 178.91,325.73 179.56,325.23 180.21,324.71 180.86,324.17 181.51,323.61 182.16,323.03 182.81,322.42 183.46,321.8 184.11,321.15 184.76,320.49 185.41,319.79 186.06,319.08 186.71,318.33 187.37,317.56 188.02,316.77 188.67,315.94 189.32,315.08 189.97,314.2 190.62,313.28 191.27,312.33 191.92,311.34 192.57,310.32 193.22,309.26 193.87,308.17 194.52,307.04 195.17,305.86 195.82,304.64 196.47,303.38 197.13,302.08 197.78,300.72 198.43,299.32 199.08,297.87 199.73,296.37 200.38,294.81 201.03,293.19 201.68,291.52 202.33,289.79 202.98,288 203.63,286.14 204.28,284.22 204.93,282.22 205.58,280.16 206.23,278.02 206.89,275.8 207.54,273.51 208.19,271.13 208.84,268.67 209.49,266.12 210.14,263.47 210.79,260.74 211.44,257.9 212.09,254.96 212.74,251.92 213.39,248.77 214.04,245.5 214.69,242.12 215.34,238.62 215.99,234.99 216.65,231.23 217.3,227.34 217.95,223.3 218.6,219.13 219.25,214.8 219.9,210.32 220.55,205.67 221.2,200.86" fill="none" stroke="#ff0000" stroke-width="1.0" stroke-linejoin="round"/>
<circle cx="26" cy="339.8" r="1.75" fill="#ff0000"/>
<circle cx="27.3" cy="339.8" r="1.75" fill="#ff0000"/>
<circle cx="28.6" cy="339.8" r="1.75" fill="#ff0000"/>
<circle cx="29.9" cy="339.8" r="1.75" fill="#ff0000"/>
<circle cx="31.21" cy="339.8" r="1.75" fill="#ff0000"/>
<circle cx="32.51" cy="339.79" r="1.75" fill="#ff0000"/>
<circle cx="33.81" cy="339.79" r="1.75" fill="#ff0000"/>
<circle cx="35.11" cy="339.79" r="1.75" fill="#ff0000"/>
<circle cx="36.41" cy="339.79" r="1.75" fill="#ff0000"/>
<circle cx="37.71" cy="339.79" r="1.75" fill="#ff0000"/>
<circle cx="39.01" cy="339.79" r="1.75" fill="#ff0000"/>
<circle cx="40.31" cy="339.79" r="1.75" fill="#ff0000"/>
<circle cx="41.62" cy="339.79" r="1.75" fill="#ff0000"/>
<circle cx="42.92" cy="339.79" r="1.75" fill="#ff0000"/>
<circle cx="44.22" cy="339.79" r="1.75" fill="#ff0000"/>
<circle cx="45.52" cy="339.79" r="1.75" fill="#ff0000"/>
<circle cx="46.82" cy="339.79" r="1.75" fill="#ff0000"/>
<circle cx="48.12" cy="339.79" r="1.75" fill="#ff0000"/>
<circle cx="49.42" cy="339.79" r="1.75" fill="#ff0000"/>
<circle cx="50.73" cy="339.79" r="1.75" fill="#ff0000"/>
<circle cx="52.03" cy="339.79" r="1.75" fill="#ff0000"/>
<circle cx="53.33" cy="339.78" r="1.75" fill="#ff0000"/>
<circle cx="54.63" cy="339.78" r="1.75" fill="#ff0000"/>
<circle cx="55.93" cy="339.78" r="1.75" fill="#ff0000"/>
<circle cx="57.23" cy="339.78" r="1.75" fill="#ff0000"/>
<circle cx="58.53" cy="339.78" r="1.75" fill="#ff0000"/>
<circle cx="59.83" cy="339.78" r="1.75" fill="#ff0000"/>
<circle cx="61.14" cy="339.78" r="1.75" fill="#ff0000"/>
<circle cx="62.44" cy="339.77" r="1.75" fill="#ff0000"/>
<circle cx="63.74" cy="339.77" r="1.75" fill="#ff0000"/>
<circle cx="65.04" cy="339.77" r="1.75" fill="#ff0000"/>
<circle cx="66.34" cy="339.77" r="1.75" fill="#ff0000"/>
<circle cx="67.64" cy="339.77" r="1.75" fill="#ff0000"/>
<circle cx="68.94" cy="339.76" r="1.75" fill="#ff0000"/>
<circle cx="70.25" cy="339.76" r="1.75" fill="#ff0000"/>
<circle cx="71.55" cy="339.76" r="1.75" fill="#ff0000"/>
<circle cx="72.85" cy="339.75" r="1.75" fill="#ff0000"/>
<circle cx="74.15" cy="339.75" r="1.75" fill="#ff0000"/>
<circle cx="75.45" cy="339.75" r="1.75" fill="#ff0000"/>
<circle cx="76.75" cy="339.74" r="1.75" fill="#ff0000"/>
<circle cx="78.05" cy="339.74" r="1.75" fill="#ff0000"/>
<circle cx="79.35" cy="339.74" r="1.75" fill="#ff0000"/>
<circle cx="80.66" cy="339.73" r="1.75" fill="#ff0000"/>
<circle cx="81.96" cy="339.73" r="1.75" fill="#ff0000"/>
<circle cx="83.26" cy="339.72" r="1.75" fill="#ff0000"/>
<circle cx="84.56" cy="339.72" r="1.75" fill="#ff0000"/>
<circle cx="85.86" cy="339.71" r="1.75" fill="#ff0000"/>
<circle cx="87.16" cy="339.7" r="1.75" fill="#ff0000"/>
<circle cx="88.46" cy="339.7" r="1.75" fill="#ff0000"/>
<circle cx="89.77" cy="339.69" r="1.75" fill="#ff0000"/>
<circle cx="91.07" cy="339.68" r="1.75" fill="#ff0000"/>
<circle cx="92.37" cy="339.67" r="1.75" fill="#ff0000"/>
<circle cx="93.67" cy="339.66" r="1.75" fill="#ff0000"/>
<circle cx="94.97" cy="339.65" r="1.75" fill="#ff0000"/>
<circle cx="96.27" cy="339.64" r="1.75" fill="#ff0000"/>
<circle cx="97.57" cy="339.63" r="1.75" fill="#ff0000"/>
<circle cx="98.87" cy="339.62" r="1.75" fill="#ff0000"/>
<circle cx="100.18" cy="339.6" r="1.75" fill="#ff0000"/>
<circle cx="101.48" cy="339.59" r="1.75" fill="#ff0000"/>
<circle cx="102.78" cy="339.57" r="1.75" fill="#ff0000"/>
<circle cx="104.08" cy="339.56" r="1.75" fill="#ff0000"/>
<circle cx="105.38" cy="339.54" r="1.75" fill="#ff0000"/>
<circle cx="106.68" cy="339.52" r="1.75" fill="#ff0000"/>
<circle cx="107.98" cy="339.5" r="1.75" fill="#ff0000"/>
<circle cx="109.29" cy="339.48" r="1.75" fill="#ff0000"/>
<circle cx="110.59" cy="339.45" r="1.75" fill="#ff0000"/>
<circle cx="111.89" cy="339.43" r="1.75" fill="#ff0000"/>
<circle cx="113.19" cy="339.4" r="1.75" fill="#ff0000"/>
<circle cx="114.49" cy="339.37" r="1.75" fill="#ff0000"/>
<circle cx="115.79" cy="339.34" r="1.75" fill="#ff0000"/>
<circle cx="117.09" cy="339.31" r="1.75" fill="#ff0000"/>
<circle cx="118.39" cy="339.27" r="1.75" fill="#ff0000"/>
<circle cx="119.7" cy="339.23" r="1.75" fill="#ff0000"/>
<circle cx="121" cy="339.19" r="1.75" fill="#ff0000"/>
<circle cx="122.3" cy="339.14" r="1.75" fill="#ff0000"/>
<circle cx="123.6" cy="339.1" r="1.75" fill="#ff0000"/>
<circle cx="124.9" cy="339.04" r="1.75" fill="#ff0000"/>
<circle cx="126.2" cy="338.99" r="1.75" fill="#ff0000"/>
<circle cx="127.5" cy="338.93" r="1.75" fill="#ff0000"/>
<circle cx="128.81" cy="338.87" r="1.75" fill="#ff0000"/>
<circle cx="130.11" cy="338.8" r="1.75" fill="#ff0000"/>
<circle cx="131.41" cy="338.73" r="1.75" fill="#ff0000"/>
<circle cx="132.71" cy="338.65" r="1.75" fill="#ff0000"/>
<circle cx="134.01" cy="338.56" r="1.75" fill="#ff0000"/>
<circle cx="135.31" cy="338.47" r="1.75" fill="#ff0000"/>
<circle cx="136.61" cy="338.38" r="1.75" fill="#ff0000"/>
<circle cx="137.91" cy="338.27" r="1.75" fill="#ff0000"/>
<circle cx="139.22" cy="338.16" r="1.75" fill="#ff0000"/>
<circle cx="140.52" cy="338.04" r="1.75" fill="#ff0000"/>
<circle cx="141.82" cy="337.91" r="1.75" fill="#ff0000"/>
<circle cx="143.12" cy="337.77" r="1.75" fill="#ff0000"/>
<circle cx="144.42" cy="337.63" r="1.75" fill="#ff0000"/>
<circle cx="145.72" cy="337.47" r="1.75" fill="#ff0000"/>
<circle cx="147.02" cy="337.3" r="1.75" fill="#ff0000"/>
<circle cx="148.33" cy="337.12" r="1.75" fill="#ff0000"/>
<circle cx="149.63" cy="336.92" r="1.75" fill="#ff0000"/>
<circle cx="150.93" cy="336.71" r="1.75" fill="#ff0000"/>
<circle cx="152.23" cy="336.48" r="1.75" fill="#ff0000"/>
<circle cx="153.53" cy="336.24" r="1.75" fill="#ff0000"/>
<circle cx="154.83" cy="335.98" r="1.75" fill="#ff0000"/>
<circle cx="156.13" cy="335.7" r="1.75" fill="#ff0000"/>
<circle cx="157.43" cy="335.4" r="1.75" fill="#ff0000"/>
<circle cx="158.74" cy="335.08" r="1.75" fill="#ff0000"/>
<circle cx="160.04" cy="334.74" r="1.75" fill="#ff0000"/>
<circle cx="161.34" cy="334.37" r="1.75" fill="#ff0000"/>
<circle cx="162.64" cy="333.97" r="1.75" fill="#ff0000"/>
<circle cx="163.94" cy="333.55" r="1.75" fill="#ff0000"/>
<circle cx="165.24" cy="333.09" r="1.75" fill="#ff0000"/>
<circle cx="166.54" cy="332.6" r="1.75" fill="#ff0000"/>
<circle cx="167.85" cy="332.07" r="1.75" fill="#ff0000"/>
<circle cx="169.15" cy="331.51" r="1.75" fill="#ff0000"/>
<circle cx="170.45" cy="330.9" r="1.75" fill="#ff0000"/>
<circle cx="171.75" cy="330.25" r="1.75" fill="#ff0000"/>
<circle cx="173.05" cy="329.56" r="1.75" fill="#ff0000"/>
<circle cx="174.35" cy="328.81" r="1.75" fill="#ff0000"/>
<circle cx="175.65" cy="328.01" r="1.75" fill="#ff0000"/>
<circle cx="176.95" cy="327.15" r="1.75" fill="#ff0000"/>
<circle cx="178.26" cy="326.22" r="1.75" fill="#ff0000"/>
<circle cx="179.56" cy="325.23" r="1.75" fill="#ff0000"/>
<circle cx="180.86" cy="324.17" r="1.75" fill="#ff0000"/>
<circle cx="182.16" cy="323.03" r="1.75" fill="#ff0000"/>
<circle cx="183.46" cy="321.8" r="1.75" fill="#ff0000"/>
<circle cx="184.76" cy="320.49" r="1.75" fill="#ff0000"/>
<circle cx="186.06" cy="319.08" r="1.75" fill="#ff0000"/>
<circle cx="187.37" cy="317.56" r="1.75" fill="#ff0000"/>
<circle cx="188.67" cy="315.94" r="1.75" fill="#ff0000"/>
<circle cx="189.97" cy="314.2" r="1.75" fill="#ff0000"/>
<circle cx="191.27" cy="312.33" r="1.75" fill="#ff0000"/>
<circle cx="192.57" cy="310.32" r="1.75" fill="#ff0000"/>
<circle cx="193.87" cy="308.17" r="1.75" fill="#ff0000"/>
<circle cx="195.17" cy="305.86" r="1.75" fill="#ff0000"/>
<circle cx="196.47" cy="303.38" r="1.75" fill="#ff0000"/>
<circle cx="197.78" cy="300.72" r="1.75" fill="#ff0000"/>
<circle cx="199.08" cy="297.87" r="1.75" fill="#ff0000"/>
<circle cx="200.38" cy="294.81" r="1.75" fill="#ff0000"/>
<circle cx="201.68" cy="291.52" r="1.75" fill="#ff0000"/>
<circle cx="202.98" cy="288" r="1.75" fill="#ff0000"/>
<circle cx="204.28" cy="284.22" r="1.75" fill="#ff0000"/>
<circle cx="205.58" cy="280.16" r="1.75" fill="#ff0000"/>
<circle cx="206.89" cy="275.8" r="1.75" fill="#ff0000"/>
<circle cx="208.19" cy="271.13" r="1.75" fill="#ff0000"/>
<circle cx="209.49" cy="266.12" r="1.75" fill="#ff0000"/>
<circle cx="210.79" cy="260.74" r="1.75" fill="#ff0000"/>
<circle cx="212.09" cy="254.96" r="1.75" fill="#ff0000"/>
<circle cx="213.39" cy="248.77" r="1.75" fill="#ff0000"/>
<circle cx="214.69" cy="242.12" r="1.75" fill="#ff0000"/>
<circle cx="215.99" cy="234.99" r="1.75" fill="#ff0000"/>
<circle cx="217.3" cy="227.34" r="1.75" fill="#ff0000"/>
<circle cx="218.6" cy="219.13" r="1.75" fill="#ff0000"/>
<circle cx="219.9" cy="210.32" r="1.75" fill="#ff0000"/>
<circle cx="221.2" cy="200.86" r="1.75" fill="#ff0000"/>
<polyline points="26,339.79 26.65,339.79 27.3,339.79 27.95,339.79 28.6,339.79 29.25,339.79 29.9,339.79 30.55,339.79 31.21,339.79 31.86,339.79 32.51,339.79 33.16,339.79 33.81,339.79 34.46,339.79 35.11,339.79 35.76,339.79 36.41,339.79 37.06,339.79 37.71,339.79 38.36,339.79 39.01,339.79 39.66,339.79 40.31,339.78 40.97,339.78 41.62,339.78 42.27,339.78 42.92,339.78 43.57,339.78 44.22,339.78 44.87,339.78 45.52,339.78 46.17,339.78 46.82,339.78 47.47,339.78 48.12,339.78 48.77,339.78 49.42,339.78 50.07,339.77 50.73,339.77 51.38,339.77 52.03,339.77 52.68,339.77 53.33,339.77 53.98,339.77 54.63,339.77 55.28,339.77 55.93,339.77 56.58,339.76 57.23,339.76 57.88,339.76 58.53,339.76 59.18,339.76 59.83,339.76 60.49,339.76 61.14,339.76 61.79,339.75 62.44,339.75 63.09,339.75 63.74,339.75 64.39,339.75 65.04,339.75 65.69,339.74 66.34,339.74 66.99,339.74 67.64,339.74 68.29,339.74 68.94,339.73 69.59,339.73 70.25,339.73 70.9,339.73 71.55,339.72 72.2,339.72 72.85,339.72 73.5,339.72 74.15,339.71 74.8,339.71 75.45,339.71 76.1,339.7 76.75,339.7 77.4,339.7 78.05,339.69 78.7,339.69 79.35,339.69 80.01,339.68 80.66,339.68 81.31,339.67 81.96,339.67 82.61,339.66 83.26,339.66 83.91,339.65 84.56,339.65 85.21,339.64 85.86,339.64 86.51,339.63 87.16,339.63 87.81,339.62 88.46,339.62 89.11,339.61 89.77,339.6 90.42,339.6 91.07,339.59 91.72,339.58 92.37,339.57 93.02,339.57 93.67,339.56 94.32,339.55 94.97,339.54 95.62,339.53 96.27,339.52 96.92,339.51 97.57,339.5 98.22,339.49 98.87,339.48 99.53,339.47 100.18,339.46 100.83,339.45 101.48,339.44 102.13,339.43 102.78,339.41 103.43,339.4 104.08,339.39 104.73,339.37 105.38,339.36 106.03,339.34 106.68,339.33 107.33,339.31 107.98,339.29 108.63,339.28 109.29,339.26 109.94,339.24 110.59,339.22 111.24,339.2 111.89,339.18 112.54,339.16 113.19,339.14 113.84,339.11 114.49,339.09 115.14,339.06 115.79,339.04 116.44,339.01 117.09,338.99 117.74,338.96 118.39,338.93 119.05,338.9 119.7,338.87 120.35,338.84 121,338.8 121.65,338.77 122.3,338.73 122.95,338.7 123.6,338.66 124.25,338.62 124.9,338.58 125.55,338.54 126.2,338.5 126.85,338.45 127.5,338.4 128.15,338.36 128.81,338.31 129.46,338.26 130.11,338.2 130.76,338.15 131.41,338.09 132.06,338.03 132.71,337.97 133.36,337.91 134.01,337.84 134.66,337.78 135.31,337.71 135.96,337.63 136.61,337.56 137.26,337.48 137.91,337.4 138.57,337.32 139.22,337.24 139.87,337.15 140.52,337.06 141.17,336.96 141.82,336.87 142.47,336.77 143.12,336.66 143.77,336.55 144.42,336.44 145.07,336.33 145.72,336.21 146.37,336.08 147.02,335.96 147.67,335.82 148.33,335.69 148.98,335.55 149.63,335.4 150.28,335.25 150.93,335.09 151.58,334.93 152.23,334.76 152.88,334.59 153.53,334.41 154.18,334.23 154.83,334.04 155.48,333.84 156.13,333.63 156.78,333.42 157.43,333.2 158.09,332.98 158.74,332.74 159.39,332.5 160.04,332.25 160.69,331.99 161.34,331.72 161.99,331.44 162.64,331.16 163.29,330.86 163.94,330.55 164.59,330.24 165.24,329.91 165.89,329.57 166.54,329.22 167.19,328.85 167.85,328.48 168.5,328.09 169.15,327.69 169.8,327.27 170.45,326.84 171.1,326.4 171.75,325.93 172.4,325.46 173.05,324.97 173.7,324.46 174.35,323.93 175,323.39 175.65,322.82 176.3,322.24 176.95,321.64 177.61,321.01 178.26,320.37 178.91,319.7 179.56,319.01 180.21,318.3 180.86,317.56 181.51,316.79 182.16,316 182.81,315.19 183.46,314.34 184.11,313.47 184.76,312.56 185.41,311.63 186.06,310.66 186.71,309.66 187.37,308.62 188.02,307.55 188.67,306.45 189.32,305.3 189.97,304.12 190.62,302.89 191.27,301.62 191.92,300.31 192.57,298.96 193.22,297.56 193.87,296.1 194.52,294.6 195.17,293.05 195.82,291.45 196.47,289.79 197.13,288.07 197.78,286.29 198.43,284.46 199.08,282.56 199.73,280.59 200.38,278.56 201.03,276.45 201.68,274.28 202.33,272.03 202.98,269.7 203.63,267.29 204.28,264.81 204.93,262.23 205.58,259.57 206.23,256.81 206.89,253.96 207.54,251.01 208.19,247.97 208.84,244.81 209.49,241.55 210.14,238.18 210.79,234.69 211.44,231.08 212.09,227.35 212.74,223.48 213.39,219.49 214.04,215.36 214.69,211.09 215.34,206.67 215.99,202.09 216.65,197.37 217.3,192.48 217.95,187.42 218.6,182.18 219.25,176.77 219.9,171.17 220.55,165.38 221.2,159.4" fill="none" stroke="#0000ff" stroke-width="1.0" stroke-linejoin="round"/>
<polygon points="26,337.47 28.15,341.34 23.85,341.34" fill="#0000ff"/>
<polygon points="27.3,337.47 29.45,341.34 25.15,341.34" fill="#0000ff"/>
<polygon points="28.6,337.47 30.75,341.34 26.45,341.34" fill="#0000ff"/>
<polygon points="29.9,337.47 32.05,341.34 27.75,341.34" fill="#0000ff"/>
<polygon points="31.21,337.47 33.36,341.34 29.06,341.34" fill="#0000ff"/>
<polygon points="32.51,337.47 34.66,341.34 30.36,341.34" fill="#0000ff"/>
<polygon points="33.81,337.47 35.96,341.34 31.66,341.34" fill="#0000ff"/>
<polygon points="35.11,337.47 37.26,341.34 32.96,341.34" fill="#0000ff"/>
<polygon points="36.41,337.47 38.56,341.34 34.26,341.34" fill="#0000ff"/>
<polygon points="37.71,337.46 39.86,341.33 35.56,341.33" fill="#0000ff"/>
<polygon points="39.01,337.46 41.16,341.33 36.86,341.33" fill="#0000ff"/>
<polygon points="40.31,337.46 42.46,341.33 38.16,341.33" fill="#0000ff"/>
<polygon points="41.62,337.46 43.77,341.33 39.47,341.33" fill="#0000ff"/>
<polygon points="42.92,337.46 45.07,341.33 40.77,341.33" fill="#0000ff"/>
<polygon points="44.22,337.46 46.37,341.33 42.07,341.33" fill="#0000ff"/>
<polygon points="45.52,337.46 47.67,341.33 43.37,341.33" fill="#0000ff"/>
<polygon points="46.82,337.46 48.97,341.33 44.67,341.33" fill="#0000ff"/>
<polygon points="48.12,337.46 50.27,341.33 45.97,341.33" fill="#0000ff"/>
<polygon points="49.42,337.45 51.57,341.32 47.27,341.32" fill="#0000ff"/>
<polygon points="50.73,337.45 52.88,341.32 48.58,341.32" fill="#0000ff"/>
<polygon points="52.03,337.45 54.18,341.32 49.88,341.32" fill="#0000ff"/>
<polygon points="53.33,337.45 55.48,341.32 51.18,341.32" fill="#0000ff"/>
<polygon points="54.63,337.45 56.78,341.32 52.48,341.32" fill="#0000ff"/>
<polygon points="55.93,337.44 58.08,341.31 53.78,341.31" fill="#0000ff"/>
<polygon points="57.23,337.44 59.38,341.31 55.08,341.31" fill="#0000ff"/>
<polygon points="58.53,337.44 60.68,341.31 56.38,341.31" fill="#0000ff"/>
<polygon points="59.83,337.44 61.98,341.31 57.68,341.31" fill="#0000ff"/>
<polygon points="61.14,337.43 63.29,341.3 58.99,341.3" fill="#0000ff"/>
<polygon points="62.44,337.43 64.59,341.3 60.29,341.3" fill="#0000ff"/>
<polygon points="63.74,337.43 65.89,341.3 61.59,341.3" fill="#0000ff"/>
<polygon points="65.04,337.42 67.19,341.29 62.89,341.29" fill="#0000ff"/>
<polygon points="66.34,337.42 68.49,341.29 64.19,341.29" fill="#0000ff"/>
<polygon points="67.64,337.42 69.79,341.29 65.49,341.29" fill="#0000ff"/>
<polygon points="68.94,337.41 71.09,341.28 66.79,341.28" fill="#0000ff"/>
<polygon points="70.25,337.41 72.4,341.28 68.1,341.28" fill="#0000ff"/>
<polygon points="71.55,337.4 73.7,341.27 69.4,341.27" fill="#0000ff"/>
<polygon points="72.85,337.4 75,341.27 70.7,341.27" fill="#0000ff"/>
<polygon points="74.15,337.39 76.3,341.26 72,341.26" fill="#0000ff"/>
<polygon points="75.45,337.38 77.6,341.25 73.3,341.25" fill="#0000ff"/>
<polygon points="76.75,337.38 78.9,341.25 74.6,341.25" fill="#0000ff"/>
<polygon points="78.05,337.37 80.2,341.24 75.9,341.24" fill="#0000ff"/>
<polygon points="79.35,337.36 81.5,341.23 77.2,341.23" fill="#0000ff"/>
<polygon points="80.66,337.36 82.81,341.23 78.51,341.23" fill="#0000ff"/>
<polygon points="81.96,337.35 84.11,341.22 79.81,341.22" fill="#0000ff"/>
<polygon points="83.26,337.34 85.41,341.21 81.11,341.21" fill="#0000ff"/>
<polygon points="84.56,337.33 86.71,341.2 82.41,341.2" fill="#0000ff"/>
<polygon points="85.86,337.32 88.01,341.19 83.71,341.19" fill="#0000ff"/>
<polygon points="87.16,337.31 89.31,341.18 85.01,341.18" fill="#0000ff"/>
<polygon points="88.46,337.29 90.61,341.16 86.31,341.16" fill="#0000ff"/>
<polygon points="89.77,337.28 91.92,341.15 87.62,341.15" fill="#0000ff"/>
<polygon points="91.07,337.27 93.22,341.14 88.92,341.14" fill="#0000ff"/>
<polygon points="92.37,337.25 94.52,341.12 90.22,341.12" fill="#0000ff"/>
<polygon points="93.67,337.24 95.82,341.11 91.52,341.11" fill="#0000ff"/>
<polygon points="94.97,337.22 97.12,341.09 92.82,341.09" fill="#0000ff"/>
<polygon points="96.27,337.2 98.42,341.07 94.12,341.07" fill="#0000ff"/>
<polygon points="97.57,337.18 99.72,341.05 95.42,341.05" fill="#0000ff"/>
<polygon points="98.87,337.16 101.02,341.03 96.72,341.03" fill="#0000ff"/>
<polygon points="100.18,337.14 102.33,341.01 98.03,341.01" fill="#0000ff"/>
<polygon points="101.48,337.12 103.63,340.99 99.33,340.99" fill="#0000ff"/>
<polygon points="102.78,337.09 104.93,340.96 100.63,340.96" fill="#0000ff"/>
<polygon points="104.08,337.06 106.23,340.93 101.93,340.93" fill="#0000ff"/>
<polygon points="105.38,337.04 107.53,340.91 103.23,340.91" fill="#0000ff"/>
<polygon points="106.68,337 108.83,340.87 104.53,340.87" fill="#0000ff"/>
<polygon points="107.98,336.97 110.13,340.84 105.83,340.84" fill="#0000ff"/>
<polygon points="109.29,336.94 111.44,340.81 107.14,340.81" fill="#0000ff"/>
<polygon points="110.59,336.9 112.74,340.77 108.44,340.77" fill="#0000ff"/>
<polygon points="111.89,336.86 114.04,340.73 109.74,340.73" fill="#0000ff"/>
<polygon points="113.19,336.81 115.34,340.68 111.04,340.68" fill="#0000ff"/>
<polygon points="114.49,336.77 116.64,340.64 112.34,340.64" fill="#0000ff"/>
<polygon points="115.79,336.72 117.94,340.59 113.64,340.59" fill="#0000ff"/>
<polygon points="117.09,336.66 119.24,340.53 114.94,340.53" fill="#0000ff"/>
<polygon points="118.39,336.61 120.54,340.48 116.24,340.48" fill="#0000ff"/>
<polygon points="119.7,336.55 121.85,340.42 117.55,340.42" fill="#0000ff"/>
<polygon points="121,336.48 123.15,340.35 118.85,340.35" fill="#0000ff"/>
<polygon points="122.3,336.41 124.45,340.28 120.15,340.28" fill="#0000ff"/>
<polygon points="123.6,336.34 125.75,340.21 121.45,340.21" fill="#0000ff"/>
<polygon points="124.9,336.26 127.05,340.13 122.75,340.13" fill="#0000ff"/>
<polygon points="126.2,336.17 128.35,340.04 124.05,340.04" fill="#0000ff"/>
<polygon points="127.5,336.08 129.65,339.95 125.35,339.95" fill="#0000ff"/>
<polygon points="128.81,335.98 130.96,339.85 126.66,339.85" fill="#0000ff"/>
<polygon points="130.11,335.88 132.26,339.75 127.96,339.75" fill="#0000ff"/>
<polygon points="131.41,335.77 133.56,339.64 129.26,339.64" fill="#0000ff"/>
<polygon points="132.71,335.65 134.86,339.52 130.56,339.52" fill="#0000ff"/>
<polygon points="134.01,335.52 136.16,339.39 131.86,339.39" fill="#0000ff"/>
<polygon points="135.31,335.38 137.46,339.25 133.16,339.25" fill="#0000ff"/>
<polygon points="136.61,335.24 138.76,339.11 134.46,339.11" fill="#0000ff"/>
<polygon points="137.91,335.08 140.06,338.95 135.76,338.95" fill="#0000ff"/>
<polygon points="139.22,334.91 141.37,338.78 137.07,338.78" fill="#0000ff"/>
<polygon points="140.52,334.74 142.67,338.61 138.37,338.61" fill="#0000ff"/>
<polygon points="141.82,334.54 143.97,338.41 139.67,338.41" fill="#0000ff"/>
<polygon points="143.12,334.34 145.27,338.21 140.97,338.21" fill="#0000ff"/>
<polygon points="144.42,334.12 146.57,337.99 142.27,337.99" fill="#0000ff"/>
<polygon points="145.72,333.89 147.87,337.76 143.57,337.76" fill="#0000ff"/>
<polygon points="147.02,333.63 149.17,337.5 144.87,337.5" fill="#0000ff"/>
<polygon points="148.33,333.37 150.48,337.24 146.18,337.24" fill="#0000ff"/>
<polygon points="149.63,333.08 151.78,336.95 147.48,336.95" fill="#0000ff"/>
<polygon points="150.93,332.77 153.08,336.64 148.78,336.64" fill="#0000ff"/>
<polygon points="152.23,332.44 154.38,336.31 150.08,336.31" fill="#0000ff"/>
<polygon points="153.53,332.09 155.68,335.96 151.38,335.96" fill="#0000ff"/>
<polygon points="154.83,331.71 156.98,335.58 152.68,335.58" fill="#0000ff"/>
<polygon points="156.13,331.31 158.28,335.18 153.98,335.18" fill="#0000ff"/>
<polygon points="157.43,330.88 159.58,334.75 155.28,334.75" fill="#0000ff"/>
<polygon points="158.74,330.42 160.89,334.29 156.59,334.29" fill="#0000ff"/>
<polygon points="160.04,329.93 162.19,333.8 157.89,333.8" fill="#0000ff"/>
<polygon points="161.34,329.4 163.49,333.27 159.19,333.27" fill="#0000ff"/>
<polygon points="162.64,328.84 164.79,332.71 160.49,332.71" fill="#0000ff"/>
<polygon points="163.94,328.23 166.09,332.1 161.79,332.1" fill="#0000ff"/>
<polygon points="165.24,327.59 167.39,331.46 163.09,331.46" fill="#0000ff"/>
<polygon points="166.54,326.89 168.69,330.76 164.39,330.76" fill="#0000ff"/>
<polygon points="167.85,326.16 170,330.03 165.7,330.03" fill="#0000ff"/>
<polygon points="169.15,325.36 171.3,329.23 167,329.23" fill="#0000ff"/>
<polygon points="170.45,324.52 172.6,328.39 168.3,328.39" fill="#0000ff"/>
<polygon points="171.75,323.61 173.9,327.48 169.6,327.48" fill="#0000ff"/>
<polygon points="173.05,322.64 175.2,326.51 170.9,326.51" fill="#0000ff"/>
<polygon points="174.35,321.61 176.5,325.48 172.2,325.48" fill="#0000ff"/>
<polygon points="175.65,320.5 177.8,324.37 173.5,324.37" fill="#0000ff"/>
<polygon points="176.95,319.31 179.1,323.18 174.8,323.18" fill="#0000ff"/>
<polygon points="178.26,318.04 180.41,321.91 176.11,321.91" fill="#0000ff"/>
<polygon points="179.56,316.69 181.71,320.56 177.41,320.56" fill="#0000ff"/>
<polygon points="180.86,315.24 183.01,319.11 178.71,319.11" fill="#0000ff"/>
<polygon points="182.16,313.68 184.31,317.55 180.01,317.55" fill="#0000ff"/>
<polygon points="183.46,312.02 185.61,315.89 181.31,315.89" fill="#0000ff"/>
<polygon points="184.76,310.24 186.91,314.11 182.61,314.11" fill="#0000ff"/>
<polygon points="186.06,308.34 188.21,312.21 183.91,312.21" fill="#0000ff"/>
<polygon points="187.37,306.3 189.52,310.17 185.22,310.17" fill="#0000ff"/>
<polygon points="188.67,304.12 190.82,307.99 186.52,307.99" fill="#0000ff"/>
<polygon points="189.97,301.79 192.12,305.66 187.82,305.66" fill="#0000ff"/>
<polygon points="191.27,299.3 193.42,303.17 189.12,303.17" fill="#0000ff"/>
<polygon points="192.57,296.64 194.72,300.51 190.42,300.51" fill="#0000ff"/>
<polygon points="193.87,293.78 196.02,297.65 191.72,297.65" fill="#0000ff"/>
<polygon points="195.17,290.73 197.32,294.6 193.02,294.6" fill="#0000ff"/>
<polygon points="196.47,287.46 198.62,291.33 194.32,291.33" fill="#0000ff"/>
<polygon points="197.78,283.97 199.93,287.84 195.63,287.84" fill="#0000ff"/>
<polygon points="199.08,280.23 201.23,284.1 196.93,284.1" fill="#0000ff"/>
<polygon points="200.38,276.23 202.53,280.1 198.23,280.1" fill="#0000ff"/>
<polygon points="201.68,271.96 203.83,275.83 199.53,275.83" fill="#0000ff"/>
<polygon points="202.98,267.38 205.13,271.25 200.83,271.25" fill="#0000ff"/>
<polygon points="204.28,262.48 206.43,266.35 202.13,266.35" fill="#0000ff"/>
<polygon points="205.58,257.24 207.73,261.11 203.43,261.11" fill="#0000ff"/>
<polygon points="206.89,251.64 209.04,255.51 204.74,255.51" fill="#0000ff"/>
<polygon points="208.19,245.64 210.34,249.51 206.04,249.51" fill="#0000ff"/>
<polygon points="209.49,239.23 211.64,243.1 207.34,243.1" fill="#0000ff"/>
<polygon points="210.79,232.37 212.94,236.24 208.64,236.24" fill="#0000ff"/>
<polygon points="212.09,225.02 214.24,228.89 209.94,228.89" fill="#0000ff"/>
<polygon points="213.39,217.17 215.54,221.04 211.24,221.04" fill="#0000ff"/>
<polygon points="214.69,208.76 216.84,212.63 212.54,212.63" fill="#0000ff"/>
<polygon points="215.99,199.77 218.14,203.64 213.84,203.64" fill="#0000ff"/>
<polygon points="217.3,190.15 219.45,194.02 215.15,194.02" fill="#0000ff"/>
<polygon points="218.6,179.86 220.75,183.73 216.45,183.73" fill="#0000ff"/>
<polygon points="219.9,168.85 222.05,172.72 217.75,172.72" fill="#0000ff"/>
<polygon points="221.2,157.07 223.35,160.94 219.05,160.94" fill="#0000ff"/>
</g>
<rect x="279" y="182.5" width="239.4" height="160.1" fill="none" stroke="#6e6e6e" stroke-width="1.15"/>
<line x1="398.89" y1="182.5" x2="398.89" y2="342.6" stroke="#6e6e6e" stroke-width="1"/>
<line x1="279.0" y1="262.55" x2="518.4" y2="262.55" stroke="#6e6e6e" stroke-width="1"/>
<line x1="286.49" y1="342.6" x2="286.49" y2="339.1" stroke="#6e6e6e" stroke-width="1"/>
<line x1="323.96" y1="342.6" x2="323.96" y2="339.1" stroke="#6e6e6e" stroke-width="1"/>
<line x1="361.42" y1="342.6" x2="361.42" y2="339.1" stroke="#6e6e6e" stroke-width="1"/>
<line x1="398.89" y1="342.6" x2="398.89" y2="339.1" stroke="#6e6e6e" stroke-width="1"/>
<line x1="436.35" y1="342.6" x2="436.35" y2="339.1" stroke="#6e6e6e" stroke-width="1"/>
<line x1="473.82" y1="342.6" x2="473.82" y2="339.1" stroke="#6e6e6e" stroke-width="1"/>
<line x1="511.28" y1="342.6" x2="511.28" y2="339.1" stroke="#6e6e6e" stroke-width="1"/>
<line x1="305.23" y1="342.6" x2="305.23" y2="340.6" stroke="#6e6e6e" stroke-width="1"/>
<line x1="342.69" y1="342.6" x2="342.69" y2="340.6" stroke="#6e6e6e" stroke-width="1"/>
<line x1="380.15" y1="342.6" x2="380.15" y2="340.6" stroke="#6e6e6e" stroke-width="1"/>
<line x1="417.62" y1="342.6" x2="417.62" y2="340.6" stroke="#6e6e6e" stroke-width="1"/>
<line x1="455.08" y1="342.6" x2="455.08" y2="340.6" stroke="#6e6e6e" stroke-width="1"/>
<line x1="492.55" y1="342.6" x2="492.55" y2="340.6" stroke="#6e6e6e" stroke-width="1"/>
<text transform="translate(286.49,356) scale(1,1.1)" font-family="'Liberation Serif', 'Times New Roman', serif" font-weight="bold" stroke="#000" stroke-width="0.25" font-size="12" text-anchor="middle">-3</text>
<text transform="translate(323.96,356) scale(1,1.1)" font-family="'Liberation Serif', 'Times New Roman', serif" font-weight="bold" stroke="#000" stroke-width="0.25" font-size="12" text-anchor="middle">-2</text>
<text transform="translate(361.42,356) scale(1,1.1)" font-family="'Liberation Serif', 'Times New Roman', serif" font-weight="bold" stroke="#000" stroke-width="0.25" font-size="12" text-anchor="middle">-1</text>
<text transform="translate(398.89,356) scale(1,1.1)" font-family="'Liberation Serif', 'Times New Roman', serif" font-weight="bold" stroke="#000" stroke-width="0.25" font-size="12" text-anchor="middle">0</text>
<text transform="translate(436.35,356) scale(1,1.1)" font-family="'Liberation Serif', 'Times New Roman', serif" font-weight="bold" stroke="#000" stroke-width="0.25" font-size="12" text-anchor="middle">1</text>
<text transform="translate(473.82,356) scale(1,1.1)" font-family="'Liberation Serif', 'Times New Roman', serif" font-weight="bold" stroke="#000" stroke-width="0.25" font-size="12" text-anchor="middle">2</text>
<text transform="translate(511.28,356) scale(1,1.1)" font-family="'Liberation Serif', 'Times New Roman', serif" font-weight="bold" stroke="#000" stroke-width="0.25" font-size="12" text-anchor="middle">3</text>
<line x1="279" y1="342.6" x2="282.5" y2="342.6" stroke="#6e6e6e" stroke-width="1"/>
<line x1="279" y1="315.92" x2="282.5" y2="315.92" stroke="#6e6e6e" stroke-width="1"/>
<line x1="279" y1="289.23" x2="282.5" y2="289.23" stroke="#6e6e6e" stroke-width="1"/>
<line x1="279" y1="262.55" x2="282.5" y2="262.55" stroke="#6e6e6e" stroke-width="1"/>
<line x1="279" y1="235.87" x2="282.5" y2="235.87" stroke="#6e6e6e" stroke-width="1"/>
<line x1="279" y1="209.18" x2="282.5" y2="209.18" stroke="#6e6e6e" stroke-width="1"/>
<line x1="279" y1="182.5" x2="282.5" y2="182.5" stroke="#6e6e6e" stroke-width="1"/>
<line x1="279" y1="329.26" x2="281" y2="329.26" stroke="#6e6e6e" stroke-width="1"/>
<line x1="279" y1="302.58" x2="281" y2="302.58" stroke="#6e6e6e" stroke-width="1"/>
<line x1="279" y1="275.89" x2="281" y2="275.89" stroke="#6e6e6e" stroke-width="1"/>
<line x1="279" y1="249.21" x2="281" y2="249.21" stroke="#6e6e6e" stroke-width="1"/>
<line x1="279" y1="222.53" x2="281" y2="222.53" stroke="#6e6e6e" stroke-width="1"/>
<line x1="279" y1="195.84" x2="281" y2="195.84" stroke="#6e6e6e" stroke-width="1"/>
<text transform="translate(274.8,345.5) scale(1,1.1)" font-family="'Liberation Serif', 'Times New Roman', serif" font-weight="bold" stroke="#000" stroke-width="0.25" font-size="12" text-anchor="end">-0.9</text>
<text transform="translate(274.8,318.82) scale(1,1.1)" font-family="'Liberation Serif', 'Times New Roman', serif" font-weight="bold" stroke="#000" stroke-width="0.25" font-size="12" text-anchor="end">-0.6</text>
<text transform="translate(274.8,292.13) scale(1,1.1)" font-family="'Liberation Serif', 'Times New Roman', serif" font-weight="bold" stroke="#000" stroke-width="0.25" font-size="12" text-anchor="end">-0.3</text>
<text transform="translate(274.8,265.45) scale(1,1.1)" font-family="'Liberation Serif', 'Times New Roman', serif" font-weight="bold" stroke="#000" stroke-width="0.25" font-size="12" text-anchor="end">0.0</text>
<text transform="translate(274.8,238.77) scale(1,1.1)" font-family="'Liberation Serif', 'Times New Roman', serif" font-weight="bold" stroke="#000" stroke-width="0.25" font-size="12" text-anchor="end">0.3</text>
<text transform="translate(274.8,212.08) scale(1,1.1)" font-family="'Liberation Serif', 'Times New Roman', serif" font-weight="bold" stroke="#000" stroke-width="0.25" font-size="12" text-anchor="end">0.6</text>
<text transform="translate(274.8,185.4) scale(1,1.1)" font-family="'Liberation Serif', 'Times New Roman', serif" font-weight="bold" stroke="#000" stroke-width="0.25" font-size="12" text-anchor="end">0.9</text>
<text transform="translate(401.2,369.2) scale(1,1.1)" font-family="'Liberation Serif', 'Times New Roman', serif" font-weight="bold" stroke="#000" stroke-width="0.25" font-size="12.85" text-anchor="middle">Normalized electric field</text>
<text transform="translate(253.3,327.6) rotate(-90) scale(1,0.9)" x="0" y="0" font-family="'Liberation Serif', 'Times New Roman', serif" font-weight="bold" stroke="#000" stroke-width="0.25" font-size="13.1">Normalized polarization</text>
<g clip-path="url(#clipd)">
<polyline points="282.75,339.93 283.12,339.93 283.5,339.92 283.87,339.92 284.25,339.91 284.62,339.9 284.99,339.9 285.37,339.89 285.74,339.87 286.12,339.86 286.49,339.85 286.87,339.83 287.24,339.82 287.62,339.8 287.99,339.78 288.37,339.76 288.74,339.74 289.12,339.72 289.49,339.7 289.86,339.67 290.24,339.65 290.61,339.62 290.99,339.6 291.36,339.57 291.74,339.54 292.11,339.51 292.49,339.48 292.86,339.45 293.24,339.42 293.61,339.38 293.99,339.35 294.36,339.31 294.74,339.28 295.11,339.24 295.48,339.2 295.86,339.16 296.23,339.12 296.61,339.08 296.98,339.04 297.36,339 297.73,338.96 298.11,338.91 298.48,338.87 298.86,338.82 299.23,338.78 299.61,338.73 299.98,338.68 300.35,338.63 300.73,338.58 301.1,338.53 301.48,338.48 301.85,338.43 302.23,338.38 302.6,338.33 302.98,338.27 303.35,338.22 303.73,338.17 304.1,338.11 304.48,338.06 304.85,338 305.23,337.94 305.6,337.89 305.97,337.83 306.35,337.77 306.72,337.71 307.1,337.65 307.47,337.59 307.85,337.53 308.22,337.47 308.6,337.41 308.97,337.34 309.35,337.28 309.72,337.22 310.1,337.15 310.47,337.09 310.85,337.03 311.22,336.96 311.59,336.9 311.97,336.83 312.34,336.76 312.72,336.7 313.09,336.63 313.47,336.56 313.84,336.5 314.22,336.43 314.59,336.36 314.97,336.29 315.34,336.22 315.72,336.16 316.09,336.09 316.46,336.02 316.84,335.95 317.21,335.88 317.59,335.81 317.96,335.74 318.34,335.67 318.71,335.6 319.09,335.53 319.46,335.45 319.84,335.38 320.21,335.31 320.59,335.24 320.96,335.17 321.34,335.1 321.71,335.03 322.08,334.95 322.46,334.88 322.83,334.81 323.21,334.74 323.58,334.67 323.96,334.6 324.33,334.52 324.71,334.45 325.08,334.37 325.46,334.29 325.83,334.21 326.21,334.12 326.58,334.04 326.95,333.95 327.33,333.86 327.7,333.77 328.08,333.67 328.45,333.58 328.83,333.48 329.2,333.38 329.58,333.28 329.95,333.18 330.33,333.07 330.7,332.97 331.08,332.86 331.45,332.75 331.83,332.64 332.2,332.52 332.57,332.41 332.95,332.29 333.32,332.17 333.7,332.05 334.07,331.93 334.45,331.81 334.82,331.69 335.2,331.56 335.57,331.44 335.95,331.31 336.32,331.18 336.7,331.05 337.07,330.92 337.45,330.78 337.82,330.65 338.19,330.52 338.57,330.38 338.94,330.24 339.32,330.1 339.69,329.96 340.07,329.82 340.44,329.68 340.82,329.54 341.19,329.4 341.57,329.25 341.94,329.11 342.32,328.96 342.69,328.81 343.06,328.67 343.44,328.55 343.81,328.43 344.19,328.32 344.56,328.21 344.94,328.09 345.31,327.98 345.69,327.85 346.06,327.71 346.44,327.55 346.81,327.38 347.19,327.18 347.56,326.95 347.94,326.7 348.31,326.4 348.68,326.07 349.06,325.7 349.43,324.87 349.81,323.3 350.18,321.16 350.56,318.64 350.93,315.92 351.31,312.46 351.68,307.97 352.06,303 352.43,298.13 352.81,293.33 353.18,288.33 353.55,283.24 353.93,278.2 354.3,273.34 354.68,268.78 355.05,264.26 355.43,259.59 355.8,254.97 356.18,250.59 356.55,246.66 356.93,243.37 357.3,240.95 357.68,239.27 358.05,237.81 358.43,236.51 358.8,235.36 359.17,234.33 359.55,233.39 359.92,232.53 360.3,231.72 360.67,230.93 361.05,230.14 361.42,229.34 361.8,228.56 362.17,227.81 362.55,227.08 362.92,226.39 363.3,225.73 363.67,225.11 364.05,224.52 364.42,223.98 364.79,223.47 365.17,223 365.54,222.56 365.92,222.14 366.29,221.75 366.67,221.38 367.04,221.02 367.42,220.68 367.79,220.35 368.17,220.03 368.54,219.71 368.92,219.41 369.29,219.11 369.66,218.83 370.04,218.55 370.41,218.29 370.79,218.03 371.16,217.77 371.54,217.53 371.91,217.28 372.29,217.04 372.66,216.8 373.04,216.57 373.41,216.35 373.79,216.13 374.16,215.91 374.54,215.7 374.91,215.49 375.28,215.28 375.66,215.07 376.03,214.85 376.41,214.63 376.78,214.41 377.16,214.18 377.53,213.95 377.91,213.72 378.28,213.5 378.66,213.27 379.03,213.04 379.41,212.82 379.78,212.6 380.15,212.39 380.53,212.17 380.9,211.96 381.28,211.74 381.65,211.53 382.03,211.31 382.4,211.11 382.78,210.91 383.15,210.72 383.53,210.55 383.9,210.38 384.28,210.22 384.65,210.07 385.03,209.93 385.4,209.79 385.77,209.66 386.15,209.53 386.52,209.4 386.9,209.28 387.27,209.15 387.65,209.03 388.02,208.9 388.4,208.78 388.77,208.66 389.15,208.53 389.52,208.41 389.9,208.29 390.27,208.17 390.65,208.06 391.02,207.94 391.39,207.82 391.77,207.71 392.14,207.59 392.52,207.48 392.89,207.36 393.27,207.25 393.64,207.14 394.02,207.03 394.39,206.92 394.77,206.81 395.14,206.7 395.52,206.59 395.89,206.49 396.26,206.38 396.64,206.27 397.01,206.17 397.39,206.06 397.76,205.96 398.14,205.86 398.51,205.75 398.89,205.65 399.26,205.55 399.64,205.45 400.01,205.35 400.39,205.25 400.76,205.15 401.14,205.06 401.51,204.96 401.88,204.86 402.26,204.77 402.63,204.67 403.01,204.57 403.38,204.48 403.76,204.38 404.13,204.29 404.51,204.2 404.88,204.1 405.26,204.01 405.63,203.92 406.01,203.82 406.38,203.73 406.75,203.64 407.13,203.55 407.5,203.46 407.88,203.37 408.25,203.27 408.63,203.18 409,203.09 409.38,203 409.75,202.91 410.13,202.82 410.5,202.73 410.88,202.64 411.25,202.55 411.63,202.46 412,202.37 412.37,202.28 412.75,202.19 413.12,202.1 413.5,202.01 413.87,201.91 414.25,201.82 414.62,201.73 415,201.64 415.37,201.55 415.75,201.46 416.12,201.36 416.5,201.27 416.87,201.18 417.25,201.08 417.62,200.99 417.99,200.9 418.37,200.8 418.74,200.7 419.12,200.61 419.49,200.51 419.87,200.41 420.24,200.31 420.62,200.21 420.99,200.11 421.37,200.01 421.74,199.91 422.12,199.81 422.49,199.71 422.86,199.61 423.24,199.51 423.61,199.41 423.99,199.31 424.36,199.21 424.74,199.11 425.11,199.01 425.49,198.91 425.86,198.81 426.24,198.71 426.61,198.61 426.99,198.52 427.36,198.42 427.74,198.32 428.11,198.23 428.48,198.13 428.86,198.04 429.23,197.94 429.61,197.85 429.98,197.76 430.36,197.66 430.73,197.57 431.11,197.48 431.48,197.4 431.86,197.31 432.23,197.22 432.61,197.14 432.98,197.06 433.35,196.97 433.73,196.89 434.1,196.82 434.48,196.74 434.85,196.66 435.23,196.59 435.6,196.52 435.98,196.44 436.35,196.38 436.73,196.31 437.1,196.24 437.48,196.17 437.85,196.11 438.23,196.04 438.6,195.98 438.97,195.92 439.35,195.86 439.72,195.79 440.1,195.73 440.47,195.67 440.85,195.61 441.22,195.55 441.6,195.49 441.97,195.44 442.35,195.38 442.72,195.32 443.1,195.27 443.47,195.21 443.85,195.16 444.22,195.1 444.59,195.05 444.97,194.99 445.34,194.94 445.72,194.89 446.09,194.83 446.47,194.78 446.84,194.73 447.22,194.68 447.59,194.63 447.97,194.58 448.34,194.53 448.72,194.48 449.09,194.43 449.46,194.38 449.84,194.33 450.21,194.28 450.59,194.23 450.96,194.18 451.34,194.13 451.71,194.08 452.09,194.04 452.46,193.99 452.84,193.94 453.21,193.89 453.59,193.84 453.96,193.8 454.34,193.75 454.71,193.7 455.08,193.65 455.46,193.61 455.83,193.56 456.21,193.51 456.58,193.46 456.96,193.41 457.33,193.37 457.71,193.32 458.08,193.27 458.46,193.22 458.83,193.17 459.21,193.12 459.58,193.08 459.95,193.03 460.33,192.98 460.7,192.93 461.08,192.89 461.45,192.84 461.83,192.79 462.2,192.74 462.58,192.7 462.95,192.65 463.33,192.6 463.7,192.56 464.08,192.51 464.45,192.47 464.83,192.42 465.2,192.37 465.57,192.33 465.95,192.28 466.32,192.24 466.7,192.19 467.07,192.15 467.45,192.1 467.82,192.06 468.2,192.01 468.57,191.97 468.95,191.92 469.32,191.88 469.7,191.83 470.07,191.79 470.45,191.75 470.82,191.7 471.19,191.66 471.57,191.62 471.94,191.57 472.32,191.53 472.69,191.48 473.07,191.44 473.44,191.4 473.82,191.35 474.19,191.31 474.57,191.27 474.94,191.23 475.32,191.18 475.69,191.14 476.06,191.1 476.44,191.05 476.81,191.01 477.19,190.97 477.56,190.93 477.94,190.88 478.31,190.84 478.69,190.8 479.06,190.76 479.44,190.72 479.81,190.67 480.19,190.63 480.56,190.59 480.94,190.55 481.31,190.5 481.68,190.46 482.06,190.42 482.43,190.38 482.81,190.34 483.18,190.3 483.56,190.25 483.93,190.21 484.31,190.17 484.68,190.13 485.06,190.09 485.43,190.05 485.81,190 486.18,189.96 486.55,189.92 486.93,189.88 487.3,189.84 487.68,189.8 488.05,189.76 488.43,189.72 488.8,189.67 489.18,189.63 489.55,189.59 489.93,189.55 490.3,189.51 490.68,189.47 491.05,189.43 491.43,189.39 491.8,189.35 492.17,189.31 492.55,189.27 492.92,189.23 493.3,189.19 493.67,189.14 494.05,189.1 494.42,189.06 494.8,189.02 495.17,188.98 495.55,188.94 495.92,188.9 496.3,188.86 496.67,188.82 497.05,188.78 497.42,188.74 497.79,188.7 498.17,188.66 498.54,188.63 498.92,188.59 499.29,188.55 499.67,188.51 500.04,188.47 500.42,188.43 500.79,188.39 501.17,188.35 501.54,188.31 501.92,188.27 502.29,188.23 502.66,188.19 503.04,188.15 503.41,188.12 503.79,188.08 504.16,188.04 504.54,188 504.91,187.96 505.29,187.92 505.66,187.88 506.04,187.85 506.41,187.81 506.79,187.77 507.16,187.73 507.54,187.69 507.91,187.66 508.28,187.62 508.66,187.58 509.03,187.54 509.41,187.5 509.78,187.47 510.16,187.43 510.53,187.39 510.91,187.35 511.28,187.32 511.66,187.28 512.03,187.24 512.41,187.21 512.78,187.17 513.15,187.13 513.53,187.09 513.9,187.06 514.28,187.02 514.65,186.98 515.03,186.95" fill="none" stroke="#7010f0" stroke-width="0.75" stroke-linejoin="round"/>
<polygon points="282.75,337.39 283.42,339.01 285.16,339.15 283.83,340.29 284.24,341.99 282.75,341.08 281.25,341.99 281.66,340.29 280.33,339.15 282.07,339.01" fill="#7010f0"/>
<polygon points="286.49,337.31 287.17,338.92 288.91,339.06 287.58,340.2 287.99,341.9 286.49,340.99 285,341.9 285.41,340.2 284.08,339.06 285.82,338.92" fill="#7010f0"/>
<polygon points="290.24,337.11 290.91,338.72 292.66,338.86 291.33,340 291.73,341.71 290.24,340.79 288.75,341.71 289.15,340 287.82,338.86 289.57,338.72" fill="#7010f0"/>
<polygon points="293.99,336.81 294.66,338.42 296.4,338.56 295.07,339.7 295.48,341.4 293.99,340.49 292.49,341.4 292.9,339.7 291.57,338.56 293.31,338.42" fill="#7010f0"/>
<polygon points="297.73,336.41 298.4,338.03 300.15,338.17 298.82,339.31 299.23,341.01 297.73,340.1 296.24,341.01 296.64,339.31 295.31,338.17 297.06,338.03" fill="#7010f0"/>
<polygon points="301.48,335.94 302.15,337.56 303.9,337.7 302.57,338.84 302.97,340.54 301.48,339.63 299.98,340.54 300.39,338.84 299.06,337.7 300.81,337.56" fill="#7010f0"/>
<polygon points="305.23,335.4 305.9,337.02 307.64,337.16 306.31,338.3 306.72,340 305.23,339.09 303.73,340 304.14,338.3 302.81,337.16 304.55,337.02" fill="#7010f0"/>
<polygon points="308.97,334.8 309.64,336.42 311.39,336.56 310.06,337.7 310.47,339.4 308.97,338.49 307.48,339.4 307.88,337.7 306.55,336.56 308.3,336.42" fill="#7010f0"/>
<polygon points="312.72,334.16 313.39,335.77 315.14,335.91 313.81,337.05 314.21,338.75 312.72,337.84 311.22,338.75 311.63,337.05 310.3,335.91 312.05,335.77" fill="#7010f0"/>
<polygon points="316.46,333.48 317.14,335.09 318.88,335.23 317.55,336.37 317.96,338.07 316.46,337.16 314.97,338.07 315.38,336.37 314.05,335.23 315.79,335.09" fill="#7010f0"/>
<polygon points="320.21,332.77 320.88,334.39 322.63,334.53 321.3,335.67 321.71,337.37 320.21,336.46 318.72,337.37 319.12,335.67 317.79,334.53 319.54,334.39" fill="#7010f0"/>
<polygon points="323.96,332.05 324.63,333.67 326.38,333.81 325.05,334.95 325.45,336.65 323.96,335.74 322.46,336.65 322.87,334.95 321.54,333.81 323.29,333.67" fill="#7010f0"/>
<polygon points="327.7,331.23 328.38,332.84 330.12,332.98 328.79,334.12 329.2,335.82 327.7,334.91 326.21,335.82 326.62,334.12 325.29,332.98 327.03,332.84" fill="#7010f0"/>
<polygon points="331.45,330.21 332.12,331.82 333.87,331.96 332.54,333.1 332.94,334.8 331.45,333.89 329.96,334.8 330.36,333.1 329.03,331.96 330.78,331.82" fill="#7010f0"/>
<polygon points="335.2,329.02 335.87,330.64 337.61,330.78 336.29,331.92 336.69,333.62 335.2,332.71 333.7,333.62 334.11,331.92 332.78,330.78 334.52,330.64" fill="#7010f0"/>
<polygon points="338.94,327.7 339.62,329.32 341.36,329.46 340.03,330.6 340.44,332.3 338.94,331.39 337.45,332.3 337.86,330.6 336.53,329.46 338.27,329.32" fill="#7010f0"/>
<polygon points="342.69,326.27 343.36,327.89 345.11,328.03 343.78,329.17 344.18,330.87 342.69,329.96 341.2,330.87 341.6,329.17 340.27,328.03 342.02,327.89" fill="#7010f0"/>
<polygon points="346.44,325.01 347.11,326.63 348.85,326.77 347.52,327.91 347.93,329.61 346.44,328.7 344.94,329.61 345.35,327.91 344.02,326.77 345.76,326.63" fill="#7010f0"/>
<polygon points="350.18,318.61 350.86,320.23 352.6,320.37 351.27,321.51 351.68,323.21 350.18,322.3 348.69,323.21 349.1,321.51 347.77,320.37 349.51,320.23" fill="#7010f0"/>
<polygon points="353.93,275.66 354.6,277.28 356.35,277.42 355.02,278.55 355.42,280.26 353.93,279.35 352.44,280.26 352.84,278.55 351.51,277.42 353.26,277.28" fill="#7010f0"/>
<polygon points="357.68,236.73 358.35,238.35 360.09,238.49 358.76,239.62 359.17,241.33 357.68,240.42 356.18,241.33 356.59,239.62 355.26,238.49 357,238.35" fill="#7010f0"/>
<polygon points="361.42,226.8 362.09,228.41 363.84,228.55 362.51,229.69 362.92,231.39 361.42,230.48 359.93,231.39 360.33,229.69 359,228.55 360.75,228.41" fill="#7010f0"/>
<polygon points="365.17,220.46 365.84,222.08 367.59,222.22 366.26,223.35 366.66,225.06 365.17,224.14 363.67,225.06 364.08,223.35 362.75,222.22 364.5,222.08" fill="#7010f0"/>
<polygon points="368.92,216.87 369.59,218.48 371.33,218.62 370,219.76 370.41,221.46 368.92,220.55 367.42,221.46 367.83,219.76 366.5,218.62 368.24,218.48" fill="#7010f0"/>
<polygon points="372.66,214.26 373.33,215.88 375.08,216.02 373.75,217.16 374.16,218.86 372.66,217.95 371.17,218.86 371.57,217.16 370.24,216.02 371.99,215.88" fill="#7010f0"/>
<polygon points="376.41,212.09 377.08,213.71 378.83,213.85 377.5,214.98 377.9,216.69 376.41,215.78 374.91,216.69 375.32,214.98 373.99,213.85 375.74,213.71" fill="#7010f0"/>
<polygon points="380.15,209.85 380.83,211.46 382.57,211.6 381.24,212.74 381.65,214.45 380.15,213.53 378.66,214.45 379.07,212.74 377.74,211.6 379.48,211.46" fill="#7010f0"/>
<polygon points="383.9,207.84 384.57,209.45 386.32,209.59 384.99,210.73 385.4,212.44 383.9,211.52 382.41,212.44 382.81,210.73 381.48,209.59 383.23,209.45" fill="#7010f0"/>
<polygon points="387.65,206.49 388.32,208.1 390.07,208.24 388.74,209.38 389.14,211.08 387.65,210.17 386.15,211.08 386.56,209.38 385.23,208.24 386.98,208.1" fill="#7010f0"/>
<polygon points="391.39,205.28 392.07,206.9 393.81,207.04 392.48,208.18 392.89,209.88 391.39,208.97 389.9,209.88 390.31,208.18 388.98,207.04 390.72,206.9" fill="#7010f0"/>
<polygon points="395.14,204.16 395.81,205.78 397.56,205.92 396.23,207.05 396.63,208.76 395.14,207.85 393.65,208.76 394.05,207.05 392.72,205.92 394.47,205.78" fill="#7010f0"/>
<polygon points="398.89,203.11 399.56,204.73 401.3,204.87 399.98,206.01 400.38,207.71 398.89,206.8 397.39,207.71 397.8,206.01 396.47,204.87 398.21,204.73" fill="#7010f0"/>
<polygon points="402.63,202.13 403.31,203.74 405.05,203.88 403.72,205.02 404.13,206.73 402.63,205.81 401.14,206.73 401.55,205.02 400.22,203.88 401.96,203.74" fill="#7010f0"/>
<polygon points="406.38,201.19 407.05,202.81 408.8,202.95 407.47,204.09 407.87,205.79 406.38,204.88 404.89,205.79 405.29,204.09 403.96,202.95 405.71,202.81" fill="#7010f0"/>
<polygon points="410.13,200.28 410.8,201.9 412.54,202.04 411.21,203.17 411.62,204.88 410.13,203.96 408.63,204.88 409.04,203.17 407.71,202.04 409.45,201.9" fill="#7010f0"/>
<polygon points="413.87,199.37 414.55,200.99 416.29,201.13 414.96,202.27 415.37,203.97 413.87,203.06 412.38,203.97 412.79,202.27 411.46,201.13 413.2,200.99" fill="#7010f0"/>
<polygon points="417.62,198.45 418.29,200.07 420.04,200.2 418.71,201.34 419.11,203.05 417.62,202.13 416.13,203.05 416.53,201.34 415.2,200.2 416.95,200.07" fill="#7010f0"/>
<polygon points="421.37,197.47 422.04,199.09 423.78,199.23 422.45,200.37 422.86,202.07 421.37,201.16 419.87,202.07 420.28,200.37 418.95,199.23 420.69,199.09" fill="#7010f0"/>
<polygon points="425.11,196.47 425.79,198.09 427.53,198.23 426.2,199.36 426.61,201.07 425.11,200.15 423.62,201.07 424.02,199.36 422.7,198.23 424.44,198.09" fill="#7010f0"/>
<polygon points="428.86,195.49 429.53,197.11 431.28,197.25 429.95,198.39 430.35,200.09 428.86,199.18 427.37,200.09 427.77,198.39 426.44,197.25 428.19,197.11" fill="#7010f0"/>
<polygon points="432.61,194.6 433.28,196.21 435.02,196.35 433.69,197.49 434.1,199.2 432.61,198.28 431.11,199.2 431.52,197.49 430.19,196.35 431.93,196.21" fill="#7010f0"/>
<polygon points="436.35,193.83 437.02,195.45 438.77,195.59 437.44,196.73 437.85,198.43 436.35,197.52 434.86,198.43 435.26,196.73 433.93,195.59 435.68,195.45" fill="#7010f0"/>
<polygon points="440.1,193.19 440.77,194.81 442.52,194.95 441.19,196.09 441.59,197.79 440.1,196.88 438.6,197.79 439.01,196.09 437.68,194.95 439.43,194.81" fill="#7010f0"/>
<polygon points="443.85,192.61 444.52,194.23 446.26,194.37 444.93,195.51 445.34,197.21 443.85,196.3 442.35,197.21 442.76,195.51 441.43,194.37 443.17,194.23" fill="#7010f0"/>
<polygon points="447.59,192.09 448.26,193.7 450.01,193.84 448.68,194.98 449.09,196.68 447.59,195.77 446.1,196.68 446.5,194.98 445.17,193.84 446.92,193.7" fill="#7010f0"/>
<polygon points="451.34,191.59 452.01,193.21 453.76,193.35 452.43,194.49 452.83,196.19 451.34,195.28 449.84,196.19 450.25,194.49 448.92,193.35 450.67,193.21" fill="#7010f0"/>
<polygon points="455.08,191.11 455.76,192.73 457.5,192.87 456.17,194.01 456.58,195.71 455.08,194.8 453.59,195.71 454,194.01 452.67,192.87 454.41,192.73" fill="#7010f0"/>
<polygon points="458.83,190.63 459.5,192.25 461.25,192.39 459.92,193.53 460.33,195.23 458.83,194.32 457.34,195.23 457.74,193.53 456.41,192.39 458.16,192.25" fill="#7010f0"/>
<polygon points="462.58,190.16 463.25,191.77 465,191.91 463.67,193.05 464.07,194.75 462.58,193.84 461.08,194.75 461.49,193.05 460.16,191.91 461.91,191.77" fill="#7010f0"/>
<polygon points="466.32,189.7 467,191.31 468.74,191.45 467.41,192.59 467.82,194.29 466.32,193.38 464.83,194.29 465.24,192.59 463.91,191.45 465.65,191.31" fill="#7010f0"/>
<polygon points="470.07,189.25 470.74,190.87 472.49,191 471.16,192.14 471.56,193.85 470.07,192.93 468.58,193.85 468.98,192.14 467.65,191 469.4,190.87" fill="#7010f0"/>
<polygon points="473.82,188.81 474.49,190.43 476.23,190.57 474.9,191.71 475.31,193.41 473.82,192.5 472.32,193.41 472.73,191.71 471.4,190.57 473.14,190.43" fill="#7010f0"/>
<polygon points="477.56,188.39 478.24,190 479.98,190.14 478.65,191.28 479.06,192.98 477.56,192.07 476.07,192.98 476.48,191.28 475.15,190.14 476.89,190" fill="#7010f0"/>
<polygon points="481.31,187.96 481.98,189.58 483.73,189.72 482.4,190.86 482.8,192.56 481.31,191.65 479.82,192.56 480.22,190.86 478.89,189.72 480.64,189.58" fill="#7010f0"/>
<polygon points="485.06,187.55 485.73,189.16 487.47,189.3 486.14,190.44 486.55,192.14 485.06,191.23 483.56,192.14 483.97,190.44 482.64,189.3 484.38,189.16" fill="#7010f0"/>
<polygon points="488.8,187.13 489.48,188.75 491.22,188.89 489.89,190.03 490.3,191.73 488.8,190.82 487.31,191.73 487.71,190.03 486.39,188.89 488.13,188.75" fill="#7010f0"/>
<polygon points="492.55,186.72 493.22,188.34 494.97,188.48 493.64,189.62 494.04,191.32 492.55,190.41 491.06,191.32 491.46,189.62 490.13,188.48 491.88,188.34" fill="#7010f0"/>
<polygon points="496.3,186.32 496.97,187.94 498.71,188.08 497.38,189.22 497.79,190.92 496.3,190.01 494.8,190.92 495.21,189.22 493.88,188.08 495.62,187.94" fill="#7010f0"/>
<polygon points="500.04,185.93 500.71,187.54 502.46,187.68 501.13,188.82 501.54,190.52 500.04,189.61 498.55,190.52 498.95,188.82 497.62,187.68 499.37,187.54" fill="#7010f0"/>
<polygon points="503.79,185.54 504.46,187.15 506.21,187.29 504.88,188.43 505.28,190.13 503.79,189.22 502.29,190.13 502.7,188.43 501.37,187.29 503.12,187.15" fill="#7010f0"/>
<polygon points="507.54,185.15 508.21,186.77 509.95,186.91 508.62,188.05 509.03,189.75 507.54,188.84 506.04,189.75 506.45,188.05 505.12,186.91 506.86,186.77" fill="#7010f0"/>
<polygon points="511.28,184.77 511.95,186.39 513.7,186.53 512.37,187.67 512.78,189.37 511.28,188.46 509.79,189.37 510.19,187.67 508.86,186.53 510.61,186.39" fill="#7010f0"/>
<polygon points="515.03,184.41 515.7,186.02 517.45,186.16 516.12,187.3 516.52,189 515.03,188.09 513.53,189 513.94,187.3 512.61,186.16 514.36,186.02" fill="#7010f0"/>
<polyline points="282.75,339.93 283.12,339.9 283.5,339.88 283.87,339.85 284.25,339.82 284.62,339.79 284.99,339.76 285.37,339.73 285.74,339.7 286.12,339.67 286.49,339.64 286.87,339.6 287.24,339.57 287.62,339.54 287.99,339.51 288.37,339.47 288.74,339.44 289.12,339.4 289.49,339.37 289.86,339.33 290.24,339.29 290.61,339.26 290.99,339.22 291.36,339.18 291.74,339.14 292.11,339.1 292.49,339.06 292.86,339.02 293.24,338.98 293.61,338.94 293.99,338.9 294.36,338.86 294.74,338.82 295.11,338.78 295.48,338.73 295.86,338.69 296.23,338.65 296.61,338.6 296.98,338.56 297.36,338.52 297.73,338.47 298.11,338.42 298.48,338.38 298.86,338.33 299.23,338.29 299.61,338.24 299.98,338.19 300.35,338.14 300.73,338.1 301.1,338.05 301.48,338 301.85,337.95 302.23,337.9 302.6,337.85 302.98,337.8 303.35,337.75 303.73,337.7 304.1,337.65 304.48,337.6 304.85,337.55 305.23,337.49 305.6,337.44 305.97,337.39 306.35,337.34 306.72,337.28 307.1,337.23 307.47,337.18 307.85,337.12 308.22,337.07 308.6,337.01 308.97,336.96 309.35,336.9 309.72,336.85 310.1,336.79 310.47,336.74 310.85,336.68 311.22,336.63 311.59,336.57 311.97,336.51 312.34,336.46 312.72,336.4 313.09,336.34 313.47,336.28 313.84,336.23 314.22,336.17 314.59,336.11 314.97,336.05 315.34,335.99 315.72,335.93 316.09,335.87 316.46,335.81 316.84,335.76 317.21,335.7 317.59,335.64 317.96,335.58 318.34,335.52 318.71,335.46 319.09,335.39 319.46,335.33 319.84,335.27 320.21,335.21 320.59,335.15 320.96,335.09 321.34,335.03 321.71,334.97 322.08,334.91 322.46,334.84 322.83,334.78 323.21,334.72 323.58,334.66 323.96,334.6 324.33,334.53 324.71,334.47 325.08,334.4 325.46,334.33 325.83,334.26 326.21,334.19 326.58,334.12 326.95,334.04 327.33,333.97 327.7,333.89 328.08,333.81 328.45,333.74 328.83,333.66 329.2,333.57 329.58,333.49 329.95,333.41 330.33,333.33 330.7,333.24 331.08,333.16 331.45,333.07 331.83,332.99 332.2,332.9 332.57,332.82 332.95,332.73 333.32,332.64 333.7,332.55 334.07,332.47 334.45,332.38 334.82,332.29 335.2,332.21 335.57,332.12 335.95,332.03 336.32,331.95 336.7,331.86 337.07,331.78 337.45,331.69 337.82,331.61 338.19,331.52 338.57,331.44 338.94,331.36 339.32,331.28 339.69,331.2 340.07,331.12 340.44,331.04 340.82,330.96 341.19,330.88 341.57,330.81 341.94,330.74 342.32,330.66 342.69,330.59 343.06,330.52 343.44,330.45 343.81,330.38 344.19,330.31 344.56,330.25 344.94,330.18 345.31,330.11 345.69,330.04 346.06,329.97 346.44,329.91 346.81,329.84 347.19,329.77 347.56,329.71 347.94,329.64 348.31,329.57 348.68,329.51 349.06,329.44 349.43,329.38 349.81,329.31 350.18,329.25 350.56,329.18 350.93,329.12 351.31,329.06 351.68,328.99 352.06,328.93 352.43,328.87 352.81,328.81 353.18,328.74 353.55,328.68 353.93,328.62 354.3,328.56 354.68,328.5 355.05,328.44 355.43,328.38 355.8,328.32 356.18,328.26 356.55,328.21 356.93,328.15 357.3,328.09 357.68,328.03 358.05,327.97 358.43,327.92 358.8,327.86 359.17,327.81 359.55,327.75 359.92,327.7 360.3,327.64 360.67,327.59 361.05,327.53 361.42,327.48 361.8,327.43 362.17,327.37 362.55,327.32 362.92,327.27 363.3,327.23 363.67,327.18 364.05,327.13 364.42,327.08 364.79,327.04 365.17,326.99 365.54,326.95 365.92,326.91 366.29,326.86 366.67,326.82 367.04,326.78 367.42,326.74 367.79,326.7 368.17,326.66 368.54,326.62 368.92,326.58 369.29,326.54 369.66,326.5 370.04,326.46 370.41,326.42 370.79,326.39 371.16,326.35 371.54,326.31 371.91,326.27 372.29,326.24 372.66,326.2 373.04,326.16 373.41,326.13 373.79,326.09 374.16,326.05 374.54,326.02 374.91,325.98 375.28,325.94 375.66,325.9 376.03,325.87 376.41,325.83 376.78,325.79 377.16,325.75 377.53,325.71 377.91,325.68 378.28,325.64 378.66,325.6 379.03,325.56 379.41,325.52 379.78,325.48 380.15,325.43 380.53,325.39 380.9,325.35 381.28,325.31 381.65,325.26 382.03,325.22 382.4,325.17 382.78,325.12 383.15,325.08 383.53,325.03 383.9,324.98 384.28,324.93 384.65,324.88 385.03,324.83 385.4,324.78 385.77,324.72 386.15,324.67 386.52,324.61 386.9,324.56 387.27,324.5 387.65,324.44 388.02,324.38 388.4,324.32 388.77,324.26 389.15,324.19 389.52,324.13 389.9,324.06 390.27,323.99 390.65,323.92 391.02,323.85 391.39,323.77 391.77,323.7 392.14,323.61 392.52,323.53 392.89,323.44 393.27,323.35 393.64,323.26 394.02,323.16 394.39,323.06 394.77,322.96 395.14,322.86 395.52,322.75 395.89,322.64 396.26,322.53 396.64,322.41 397.01,322.29 397.39,322.17 397.76,322.05 398.14,321.92 398.51,321.8 398.89,321.67 399.26,321.54 399.64,321.4 400.01,321.27 400.39,321.13 400.76,320.99 401.14,320.84 401.51,320.7 401.88,320.56 402.26,320.41 402.63,320.26 403.01,320.11 403.38,319.95 403.76,319.8 404.13,319.64 404.51,319.49 404.88,319.33 405.26,319.17 405.63,319.01 406.01,318.84 406.38,318.68 406.75,318.51 407.13,318.35 407.5,318.18 407.88,318.01 408.25,317.84 408.63,317.67 409,317.5 409.38,317.32 409.75,317.15 410.13,316.98 410.5,316.8 410.88,316.63 411.25,316.45 411.63,316.27 412,316.09 412.37,315.92 412.75,315.74 413.12,315.55 413.5,315.36 413.87,315.17 414.25,314.97 414.62,314.77 415,314.56 415.37,314.35 415.75,314.14 416.12,313.92 416.5,313.7 416.87,313.47 417.25,313.24 417.62,313.01 417.99,312.77 418.37,312.53 418.74,312.29 419.12,312.04 419.49,311.79 419.87,311.54 420.24,311.28 420.62,311.03 420.99,310.76 421.37,310.5 421.74,310.23 422.12,309.96 422.49,309.69 422.86,309.41 423.24,309.13 423.61,308.84 423.99,308.55 424.36,308.25 424.74,307.94 425.11,307.63 425.49,307.31 425.86,306.99 426.24,306.66 426.61,306.33 426.99,305.99 427.36,305.64 427.74,305.29 428.11,304.94 428.48,304.58 428.86,304.21 429.23,303.84 429.61,303.46 429.98,303.09 430.36,302.72 430.73,302.34 431.11,301.97 431.48,301.59 431.86,301.21 432.23,300.82 432.61,300.41 432.98,299.98 433.35,299.54 433.73,299.08 434.1,298.59 434.48,298.08 434.85,297.54 435.23,296.96 435.6,296.35 435.98,295.68 436.35,294.92 436.73,294.09 437.1,293.19 437.48,292.22 437.85,291.19 438.23,290.1 438.6,288.97 438.97,287.79 439.35,286.57 439.72,285.25 440.1,283.8 440.47,282.23 440.85,280.57 441.22,278.83 441.6,277.03 441.97,275.2 442.35,273.34 442.72,271.49 443.1,269.67 443.47,267.99 443.85,266.46 444.22,264.89 444.59,263.1 444.97,260.9 445.34,258.1 445.72,252.42 446.09,243.14 446.47,232.41 446.84,222.38 447.22,215.21 447.59,211.98 447.97,209.49 448.34,207.32 448.72,205.46 449.09,203.92 449.46,202.7 449.84,201.78 450.21,201.18 450.59,200.76 450.96,200.38 451.34,200.05 451.71,199.76 452.09,199.5 452.46,199.27 452.84,199.06 453.21,198.87 453.59,198.7 453.96,198.54 454.34,198.38 454.71,198.22 455.08,198.07 455.46,197.9 455.83,197.74 456.21,197.58 456.58,197.43 456.96,197.27 457.33,197.12 457.71,196.97 458.08,196.82 458.46,196.67 458.83,196.52 459.21,196.38 459.58,196.23 459.95,196.09 460.33,195.95 460.7,195.81 461.08,195.68 461.45,195.54 461.83,195.41 462.2,195.27 462.58,195.14 462.95,195.02 463.33,194.89 463.7,194.76 464.08,194.64 464.45,194.52 464.83,194.4 465.2,194.28 465.57,194.16 465.95,194.04 466.32,193.93 466.7,193.81 467.07,193.7 467.45,193.59 467.82,193.48 468.2,193.38 468.57,193.27 468.95,193.17 469.32,193.06 469.7,192.96 470.07,192.86 470.45,192.76 470.82,192.67 471.19,192.57 471.57,192.48 471.94,192.38 472.32,192.29 472.69,192.2 473.07,192.11 473.44,192.03 473.82,191.94 474.19,191.86 474.57,191.77 474.94,191.69 475.32,191.61 475.69,191.53 476.06,191.46 476.44,191.38 476.81,191.3 477.19,191.23 477.56,191.16 477.94,191.09 478.31,191.02 478.69,190.95 479.06,190.88 479.44,190.82 479.81,190.75 480.19,190.69 480.56,190.63 480.94,190.56 481.31,190.5 481.68,190.45 482.06,190.39 482.43,190.33 482.81,190.27 483.18,190.21 483.56,190.15 483.93,190.09 484.31,190.03 484.68,189.98 485.06,189.92 485.43,189.86 485.81,189.8 486.18,189.74 486.55,189.69 486.93,189.63 487.3,189.57 487.68,189.51 488.05,189.46 488.43,189.4 488.8,189.35 489.18,189.29 489.55,189.23 489.93,189.18 490.3,189.12 490.68,189.07 491.05,189.02 491.43,188.96 491.8,188.91 492.17,188.86 492.55,188.8 492.92,188.75 493.3,188.7 493.67,188.65 494.05,188.6 494.42,188.55 494.8,188.5 495.17,188.45 495.55,188.4 495.92,188.35 496.3,188.3 496.67,188.26 497.05,188.21 497.42,188.16 497.79,188.12 498.17,188.07 498.54,188.03 498.92,187.99 499.29,187.94 499.67,187.9 500.04,187.86 500.42,187.82 500.79,187.78 501.17,187.74 501.54,187.7 501.92,187.67 502.29,187.63 502.66,187.59 503.04,187.56 503.41,187.52 503.79,187.49 504.16,187.46 504.54,187.43 504.91,187.39 505.29,187.36 505.66,187.34 506.04,187.31 506.41,187.28 506.79,187.25 507.16,187.23 507.54,187.2 507.91,187.18 508.28,187.16 508.66,187.14 509.03,187.12 509.41,187.1 509.78,187.08 510.16,187.06 510.53,187.05 510.91,187.03 511.28,187.02 511.66,187.01 512.03,187 512.41,186.98 512.78,186.98 513.15,186.97 513.53,186.96 513.9,186.96 514.28,186.95 514.65,186.95 515.03,186.95" fill="none" stroke="#7010f0" stroke-width="0.75" stroke-linejoin="round"/>
<polygon points="282.75,337.39 283.42,339.01 285.16,339.15 283.83,340.29 284.24,341.99 282.75,341.08 281.25,341.99 281.66,340.29 280.33,339.15 282.07,339.01" fill="#7010f0"/>
<polygon points="286.49,337.1 287.17,338.71 288.91,338.85 287.58,339.99 287.99,341.69 286.49,340.78 285,341.69 285.41,339.99 284.08,338.85 285.82,338.71" fill="#7010f0"/>
<polygon points="290.24,336.75 290.91,338.37 292.66,338.51 291.33,339.65 291.73,341.35 290.24,340.44 288.75,341.35 289.15,339.65 287.82,338.51 289.57,338.37" fill="#7010f0"/>
<polygon points="293.99,336.36 294.66,337.98 296.4,338.12 295.07,339.26 295.48,340.96 293.99,340.05 292.49,340.96 292.9,339.26 291.57,338.12 293.31,337.98" fill="#7010f0"/>
<polygon points="297.73,335.93 298.4,337.54 300.15,337.68 298.82,338.82 299.23,340.53 297.73,339.61 296.24,340.53 296.64,338.82 295.31,337.68 297.06,337.54" fill="#7010f0"/>
<polygon points="301.48,335.46 302.15,337.07 303.9,337.21 302.57,338.35 302.97,340.06 301.48,339.14 299.98,340.06 300.39,338.35 299.06,337.21 300.81,337.07" fill="#7010f0"/>
<polygon points="305.23,334.95 305.9,336.57 307.64,336.71 306.31,337.85 306.72,339.55 305.23,338.64 303.73,339.55 304.14,337.85 302.81,336.71 304.55,336.57" fill="#7010f0"/>
<polygon points="308.97,334.42 309.64,336.03 311.39,336.17 310.06,337.31 310.47,339.02 308.97,338.1 307.48,339.02 307.88,337.31 306.55,336.17 308.3,336.03" fill="#7010f0"/>
<polygon points="312.72,333.86 313.39,335.47 315.14,335.61 313.81,336.75 314.21,338.46 312.72,337.54 311.22,338.46 311.63,336.75 310.3,335.61 312.05,335.47" fill="#7010f0"/>
<polygon points="316.46,333.27 317.14,334.89 318.88,335.03 317.55,336.17 317.96,337.87 316.46,336.96 314.97,337.87 315.38,336.17 314.05,335.03 315.79,334.89" fill="#7010f0"/>
<polygon points="320.21,332.67 320.88,334.29 322.63,334.43 321.3,335.57 321.71,337.27 320.21,336.36 318.72,337.27 319.12,335.57 317.79,334.43 319.54,334.29" fill="#7010f0"/>
<polygon points="323.96,332.05 324.63,333.67 326.38,333.81 325.05,334.95 325.45,336.65 323.96,335.74 322.46,336.65 322.87,334.95 321.54,333.81 323.29,333.67" fill="#7010f0"/>
<polygon points="327.7,331.35 328.38,332.97 330.12,333.11 328.79,334.25 329.2,335.95 327.7,335.04 326.21,335.95 326.62,334.25 325.29,333.11 327.03,332.97" fill="#7010f0"/>
<polygon points="331.45,330.53 332.12,332.15 333.87,332.29 332.54,333.43 332.94,335.13 331.45,334.22 329.96,335.13 330.36,333.43 329.03,332.29 330.78,332.15" fill="#7010f0"/>
<polygon points="335.2,329.66 335.87,331.28 337.61,331.42 336.29,332.56 336.69,334.26 335.2,333.35 333.7,334.26 334.11,332.56 332.78,331.42 334.52,331.28" fill="#7010f0"/>
<polygon points="338.94,328.82 339.62,330.43 341.36,330.57 340.03,331.71 340.44,333.41 338.94,332.5 337.45,333.41 337.86,331.71 336.53,330.57 338.27,330.43" fill="#7010f0"/>
<polygon points="342.69,328.05 343.36,329.67 345.11,329.81 343.78,330.95 344.18,332.65 342.69,331.74 341.2,332.65 341.6,330.95 340.27,329.81 342.02,329.67" fill="#7010f0"/>
<polygon points="346.44,327.36 347.11,328.98 348.85,329.12 347.52,330.26 347.93,331.96 346.44,331.05 344.94,331.96 345.35,330.26 344.02,329.12 345.76,328.98" fill="#7010f0"/>
<polygon points="350.18,326.71 350.86,328.32 352.6,328.46 351.27,329.6 351.68,331.3 350.18,330.39 348.69,331.3 349.1,329.6 347.77,328.46 349.51,328.32" fill="#7010f0"/>
<polygon points="353.93,326.08 354.6,327.7 356.35,327.84 355.02,328.98 355.42,330.68 353.93,329.77 352.44,330.68 352.84,328.98 351.51,327.84 353.26,327.7" fill="#7010f0"/>
<polygon points="357.68,325.49 358.35,327.11 360.09,327.25 358.76,328.39 359.17,330.09 357.68,329.18 356.18,330.09 356.59,328.39 355.26,327.25 357,327.11" fill="#7010f0"/>
<polygon points="361.42,324.94 362.09,326.55 363.84,326.69 362.51,327.83 362.92,329.54 361.42,328.62 359.93,329.54 360.33,327.83 359,326.69 360.75,326.55" fill="#7010f0"/>
<polygon points="365.17,324.45 365.84,326.07 367.59,326.21 366.26,327.35 366.66,329.05 365.17,328.14 363.67,329.05 364.08,327.35 362.75,326.21 364.5,326.07" fill="#7010f0"/>
<polygon points="368.92,324.03 369.59,325.65 371.33,325.79 370,326.93 370.41,328.63 368.92,327.72 367.42,328.63 367.83,326.93 366.5,325.79 368.24,325.65" fill="#7010f0"/>
<polygon points="372.66,323.66 373.33,325.27 375.08,325.41 373.75,326.55 374.16,328.26 372.66,327.34 371.17,328.26 371.57,326.55 370.24,325.41 371.99,325.27" fill="#7010f0"/>
<polygon points="376.41,323.29 377.08,324.9 378.83,325.04 377.5,326.18 377.9,327.89 376.41,326.97 374.91,327.89 375.32,326.18 373.99,325.04 375.74,324.9" fill="#7010f0"/>
<polygon points="380.15,322.89 380.83,324.51 382.57,324.65 381.24,325.79 381.65,327.49 380.15,326.58 378.66,327.49 379.07,325.79 377.74,324.65 379.48,324.51" fill="#7010f0"/>
<polygon points="383.9,322.44 384.57,324.06 386.32,324.2 384.99,325.33 385.4,327.04 383.9,326.13 382.41,327.04 382.81,325.33 381.48,324.2 383.23,324.06" fill="#7010f0"/>
<polygon points="387.65,321.9 388.32,323.51 390.07,323.65 388.74,324.79 389.14,326.5 387.65,325.58 386.15,326.5 386.56,324.79 385.23,323.65 386.98,323.51" fill="#7010f0"/>
<polygon points="391.39,321.23 392.07,322.85 393.81,322.99 392.48,324.13 392.89,325.83 391.39,324.92 389.9,325.83 390.31,324.13 388.98,322.99 390.72,322.85" fill="#7010f0"/>
<polygon points="395.14,320.31 395.81,321.93 397.56,322.07 396.23,323.21 396.63,324.91 395.14,324 393.65,324.91 394.05,323.21 392.72,322.07 394.47,321.93" fill="#7010f0"/>
<polygon points="398.89,319.12 399.56,320.74 401.3,320.88 399.98,322.02 400.38,323.72 398.89,322.81 397.39,323.72 397.8,322.02 396.47,320.88 398.21,320.74" fill="#7010f0"/>
<polygon points="402.63,317.72 403.31,319.33 405.05,319.47 403.72,320.61 404.13,322.31 402.63,321.4 401.14,322.31 401.55,320.61 400.22,319.47 401.96,319.33" fill="#7010f0"/>
<polygon points="406.38,316.14 407.05,317.75 408.8,317.89 407.47,319.03 407.87,320.73 406.38,319.82 404.89,320.73 405.29,319.03 403.96,317.89 405.71,317.75" fill="#7010f0"/>
<polygon points="410.13,314.43 410.8,316.05 412.54,316.19 411.21,317.33 411.62,319.03 410.13,318.12 408.63,319.03 409.04,317.33 407.71,316.19 409.45,316.05" fill="#7010f0"/>
<polygon points="413.87,312.63 414.55,314.24 416.29,314.38 414.96,315.52 415.37,317.22 413.87,316.31 412.38,317.22 412.79,315.52 411.46,314.38 413.2,314.24" fill="#7010f0"/>
<polygon points="417.62,310.47 418.29,312.08 420.04,312.22 418.71,313.36 419.11,315.06 417.62,314.15 416.13,315.06 416.53,313.36 415.2,312.22 416.95,312.08" fill="#7010f0"/>
<polygon points="421.37,307.96 422.04,309.57 423.78,309.71 422.45,310.85 422.86,312.56 421.37,311.64 419.87,312.56 420.28,310.85 418.95,309.71 420.69,309.57" fill="#7010f0"/>
<polygon points="425.11,305.09 425.79,306.71 427.53,306.85 426.2,307.99 426.61,309.69 425.11,308.78 423.62,309.69 424.02,307.99 422.7,306.85 424.44,306.71" fill="#7010f0"/>
<polygon points="428.86,301.67 429.53,303.29 431.28,303.43 429.95,304.57 430.35,306.27 428.86,305.36 427.37,306.27 427.77,304.57 426.44,303.43 428.19,303.29" fill="#7010f0"/>
<polygon points="432.61,297.87 433.28,299.48 435.02,299.62 433.69,300.76 434.1,302.46 432.61,301.55 431.11,302.46 431.52,300.76 430.19,299.62 431.93,299.48" fill="#7010f0"/>
<polygon points="436.35,292.38 437.02,294 438.77,294.14 437.44,295.28 437.85,296.98 436.35,296.07 434.86,296.98 435.26,295.28 433.93,294.14 435.68,294" fill="#7010f0"/>
<polygon points="440.1,281.26 440.77,282.88 442.52,283.02 441.19,284.15 441.59,285.86 440.1,284.94 438.6,285.86 439.01,284.15 437.68,283.02 439.43,282.88" fill="#7010f0"/>
<polygon points="443.85,263.92 444.52,265.54 446.26,265.68 444.93,266.82 445.34,268.52 443.85,267.61 442.35,268.52 442.76,266.82 441.43,265.68 443.17,265.54" fill="#7010f0"/>
<polygon points="447.59,209.44 448.26,211.06 450.01,211.2 448.68,212.34 449.09,214.04 447.59,213.13 446.1,214.04 446.5,212.34 445.17,211.2 446.92,211.06" fill="#7010f0"/>
<polygon points="451.34,197.51 452.01,199.13 453.76,199.27 452.43,200.4 452.83,202.11 451.34,201.19 449.84,202.11 450.25,200.4 448.92,199.27 450.67,199.13" fill="#7010f0"/>
<polygon points="455.08,195.52 455.76,197.14 457.5,197.28 456.17,198.42 456.58,200.12 455.08,199.21 453.59,200.12 454,198.42 452.67,197.28 454.41,197.14" fill="#7010f0"/>
<polygon points="458.83,193.98 459.5,195.6 461.25,195.74 459.92,196.87 460.33,198.58 458.83,197.67 457.34,198.58 457.74,196.87 456.41,195.74 458.16,195.6" fill="#7010f0"/>
<polygon points="462.58,192.6 463.25,194.22 465,194.36 463.67,195.5 464.07,197.2 462.58,196.29 461.08,197.2 461.49,195.5 460.16,194.36 461.91,194.22" fill="#7010f0"/>
<polygon points="466.32,191.38 467,193 468.74,193.14 467.41,194.28 467.82,195.98 466.32,195.07 464.83,195.98 465.24,194.28 463.91,193.14 465.65,193" fill="#7010f0"/>
<polygon points="470.07,190.32 470.74,191.94 472.49,192.08 471.16,193.21 471.56,194.92 470.07,194.01 468.58,194.92 468.98,193.21 467.65,192.08 469.4,191.94" fill="#7010f0"/>
<polygon points="473.82,189.4 474.49,191.02 476.23,191.16 474.9,192.29 475.31,194 473.82,193.08 472.32,194 472.73,192.29 471.4,191.16 473.14,191.02" fill="#7010f0"/>
<polygon points="477.56,188.62 478.24,190.23 479.98,190.37 478.65,191.51 479.06,193.21 477.56,192.3 476.07,193.21 476.48,191.51 475.15,190.37 476.89,190.23" fill="#7010f0"/>
<polygon points="481.31,187.96 481.98,189.58 483.73,189.72 482.4,190.86 482.8,192.56 481.31,191.65 479.82,192.56 480.22,190.86 478.89,189.72 480.64,189.58" fill="#7010f0"/>
<polygon points="485.06,187.38 485.73,188.99 487.47,189.13 486.14,190.27 486.55,191.97 485.06,191.06 483.56,191.97 483.97,190.27 482.64,189.13 484.38,188.99" fill="#7010f0"/>
<polygon points="488.8,186.8 489.48,188.42 491.22,188.56 489.89,189.7 490.3,191.4 488.8,190.49 487.31,191.4 487.71,189.7 486.39,188.56 488.13,188.42" fill="#7010f0"/>
<polygon points="492.55,186.26 493.22,187.88 494.97,188.02 493.64,189.16 494.04,190.86 492.55,189.95 491.06,190.86 491.46,189.16 490.13,188.02 491.88,187.88" fill="#7010f0"/>
<polygon points="496.3,185.76 496.97,187.38 498.71,187.52 497.38,188.66 497.79,190.36 496.3,189.45 494.8,190.36 495.21,188.66 493.88,187.52 495.62,187.38" fill="#7010f0"/>
<polygon points="500.04,185.32 500.71,186.94 502.46,187.07 501.13,188.21 501.54,189.92 500.04,189 498.55,189.92 498.95,188.21 497.62,187.07 499.37,186.94" fill="#7010f0"/>
<polygon points="503.79,184.95 504.46,186.56 506.21,186.7 504.88,187.84 505.28,189.55 503.79,188.63 502.29,189.55 502.7,187.84 501.37,186.7 503.12,186.56" fill="#7010f0"/>
<polygon points="507.54,184.66 508.21,186.28 509.95,186.42 508.62,187.56 509.03,189.26 507.54,188.35 506.04,189.26 506.45,187.56 505.12,186.42 506.86,186.28" fill="#7010f0"/>
<polygon points="511.28,184.48 511.95,186.09 513.7,186.23 512.37,187.37 512.78,189.08 511.28,188.16 509.79,189.08 510.19,187.37 508.86,186.23 510.61,186.09" fill="#7010f0"/>
<polygon points="515.03,184.41 515.7,186.02 517.45,186.16 516.12,187.3 516.52,189 515.03,188.09 513.53,189 513.94,187.3 512.61,186.16 514.36,186.02" fill="#7010f0"/>
<polyline points="282.75,339.93 283.12,339.93 283.5,339.93 283.87,339.93 284.25,339.92 284.62,339.92 284.99,339.91 285.37,339.9 285.74,339.89 286.12,339.88 286.49,339.87 286.87,339.86 287.24,339.85 287.62,339.83 287.99,339.82 288.37,339.8 288.74,339.79 289.12,339.77 289.49,339.75 289.86,339.73 290.24,339.71 290.61,339.69 290.99,339.66 291.36,339.64 291.74,339.61 292.11,339.59 292.49,339.56 292.86,339.53 293.24,339.5 293.61,339.47 293.99,339.44 294.36,339.41 294.74,339.38 295.11,339.35 295.48,339.31 295.86,339.28 296.23,339.24 296.61,339.21 296.98,339.17 297.36,339.13 297.73,339.09 298.11,339.05 298.48,339.01 298.86,338.97 299.23,338.93 299.61,338.89 299.98,338.84 300.35,338.8 300.73,338.75 301.1,338.71 301.48,338.66 301.85,338.61 302.23,338.57 302.6,338.52 302.98,338.47 303.35,338.42 303.73,338.37 304.1,338.32 304.48,338.27 304.85,338.22 305.23,338.16 305.6,338.11 305.97,338.06 306.35,338 306.72,337.95 307.1,337.89 307.47,337.84 307.85,337.78 308.22,337.73 308.6,337.67 308.97,337.61 309.35,337.55 309.72,337.5 310.1,337.44 310.47,337.38 310.85,337.32 311.22,337.26 311.59,337.2 311.97,337.14 312.34,337.07 312.72,337.01 313.09,336.95 313.47,336.89 313.84,336.82 314.22,336.76 314.59,336.7 314.97,336.63 315.34,336.57 315.72,336.51 316.09,336.44 316.46,336.38 316.84,336.31 317.21,336.25 317.59,336.18 317.96,336.11 318.34,336.05 318.71,335.98 319.09,335.92 319.46,335.85 319.84,335.78 320.21,335.72 320.59,335.65 320.96,335.58 321.34,335.51 321.71,335.45 322.08,335.38 322.46,335.31 322.83,335.24 323.21,335.18 323.58,335.11 323.96,335.04 324.33,334.97 324.71,334.9 325.08,334.83 325.46,334.75 325.83,334.67 326.21,334.59 326.58,334.51 326.95,334.43 327.33,334.34 327.7,334.25 328.08,334.16 328.45,334.07 328.83,333.98 329.2,333.88 329.58,333.78 329.95,333.69 330.33,333.58 330.7,333.48 331.08,333.37 331.45,333.27 331.83,333.16 332.2,333.05 332.57,332.93 332.95,332.82 333.32,332.7 333.7,332.59 334.07,332.47 334.45,332.34 334.82,332.22 335.2,332.1 335.57,331.97 335.95,331.84 336.32,331.71 336.7,331.58 337.07,331.45 337.45,331.31 337.82,331.17 338.19,331.04 338.57,330.9 338.94,330.75 339.32,330.61 339.69,330.47 340.07,330.32 340.44,330.17 340.82,330.02 341.19,329.87 341.57,329.72 341.94,329.57 342.32,329.41 342.69,329.26 343.06,329.1 343.44,328.95 343.81,328.8 344.19,328.64 344.56,328.49 344.94,328.34 345.31,328.18 345.69,328.02 346.06,327.86 346.44,327.69 346.81,327.52 347.19,327.34 347.56,327.15 347.94,326.96 348.31,326.76 348.68,326.55 349.06,326.33 349.43,326.1 349.81,325.86 350.18,325.6 350.56,325.33 350.93,325.05 351.31,324.76 351.68,324.45 352.06,324.12 352.43,323.77 352.81,323.41 353.18,323.03 353.55,322.54 353.93,321.88 354.3,321.07 354.68,320.16 355.05,319.18 355.43,318.16 355.8,317.13 356.18,316.15 356.55,315.22 356.93,314.4 357.3,313.67 357.68,312.97 358.05,312.3 358.43,311.65 358.8,311.02 359.17,310.39 359.55,309.75 359.92,309.11 360.3,308.44 360.67,307.75 361.05,307.02 361.42,306.27 361.8,305.52 362.17,304.75 362.55,303.97 362.92,303.16 363.3,302.32 363.67,301.45 364.05,300.54 364.42,299.58 364.79,298.57 365.17,297.51 365.54,296.4 365.92,295.24 366.29,294.03 366.67,292.76 367.04,291.43 367.42,290.04 367.79,288.59 368.17,287.08 368.54,285.49 368.92,283.84 369.29,282.12 369.66,280.26 370.04,278.23 370.41,276.05 370.79,273.73 371.16,271.29 371.54,268.76 371.91,266.16 372.29,263.5 372.66,260.81 373.04,258.1 373.41,255.14 373.79,251.81 374.16,248.31 374.54,244.85 374.91,241.63 375.28,238.87 375.66,236.76 376.03,235.12 376.41,233.61 376.78,232.24 377.16,230.98 377.53,229.82 377.91,228.76 378.28,227.79 378.66,226.89 379.03,226.06 379.41,225.28 379.78,224.54 380.15,223.84 380.53,223.18 380.9,222.55 381.28,221.96 381.65,221.41 382.03,220.9 382.4,220.43 382.78,220 383.15,219.61 383.53,219.26 383.9,218.94 384.28,218.64 384.65,218.37 385.03,218.11 385.4,217.86 385.77,217.63 386.15,217.4 386.52,217.18 386.9,216.97 387.27,216.75 387.65,216.53 388.02,216.3 388.4,216.07 388.77,215.83 389.15,215.6 389.52,215.37 389.9,215.14 390.27,214.9 390.65,214.67 391.02,214.44 391.39,214.22 391.77,213.99 392.14,213.77 392.52,213.54 392.89,213.33 393.27,213.11 393.64,212.89 394.02,212.68 394.39,212.47 394.77,212.27 395.14,212.07 395.52,211.87 395.89,211.68 396.26,211.49 396.64,211.31 397.01,211.13 397.39,210.95 397.76,210.78 398.14,210.62 398.51,210.46 398.89,210.3 399.26,210.14 399.64,209.98 400.01,209.82 400.39,209.67 400.76,209.52 401.14,209.37 401.51,209.22 401.88,209.08 402.26,208.93 402.63,208.79 403.01,208.65 403.38,208.51 403.76,208.37 404.13,208.23 404.51,208.09 404.88,207.96 405.26,207.83 405.63,207.7 406.01,207.57 406.38,207.44 406.75,207.31 407.13,207.18 407.5,207.05 407.88,206.93 408.25,206.8 408.63,206.68 409,206.56 409.38,206.44 409.75,206.32 410.13,206.2 410.5,206.08 410.88,205.96 411.25,205.84 411.63,205.72 412,205.61 412.37,205.49 412.75,205.37 413.12,205.26 413.5,205.14 413.87,205.03 414.25,204.91 414.62,204.8 415,204.68 415.37,204.57 415.75,204.46 416.12,204.34 416.5,204.23 416.87,204.11 417.25,204 417.62,203.89 417.99,203.77 418.37,203.66 418.74,203.55 419.12,203.44 419.49,203.33 419.87,203.21 420.24,203.1 420.62,202.99 420.99,202.88 421.37,202.78 421.74,202.67 422.12,202.56 422.49,202.45 422.86,202.34 423.24,202.24 423.61,202.13 423.99,202.03 424.36,201.92 424.74,201.82 425.11,201.71 425.49,201.61 425.86,201.5 426.24,201.4 426.61,201.3 426.99,201.2 427.36,201.1 427.74,201 428.11,200.9 428.48,200.8 428.86,200.7 429.23,200.6 429.61,200.51 429.98,200.41 430.36,200.31 430.73,200.22 431.11,200.12 431.48,200.03 431.86,199.93 432.23,199.84 432.61,199.75 432.98,199.66 433.35,199.57 433.73,199.48 434.1,199.39 434.48,199.3 434.85,199.21 435.23,199.12 435.6,199.04 435.98,198.95 436.35,198.87 436.73,198.78 437.1,198.7 437.48,198.61 437.85,198.53 438.23,198.45 438.6,198.36 438.97,198.28 439.35,198.2 439.72,198.12 440.1,198.04 440.47,197.96 440.85,197.88 441.22,197.8 441.6,197.72 441.97,197.64 442.35,197.56 442.72,197.48 443.1,197.41 443.47,197.33 443.85,197.25 444.22,197.17 444.59,197.1 444.97,197.02 445.34,196.95 445.72,196.87 446.09,196.8 446.47,196.72 446.84,196.65 447.22,196.58 447.59,196.5 447.97,196.43 448.34,196.36 448.72,196.29 449.09,196.22 449.46,196.15 449.84,196.08 450.21,196.01 450.59,195.94 450.96,195.87 451.34,195.8 451.71,195.73 452.09,195.66 452.46,195.59 452.84,195.53 453.21,195.46 453.59,195.39 453.96,195.33 454.34,195.26 454.71,195.2 455.08,195.13 455.46,195.07 455.83,195 456.21,194.94 456.58,194.88 456.96,194.82 457.33,194.75 457.71,194.69 458.08,194.63 458.46,194.57 458.83,194.51 459.21,194.45 459.58,194.39 459.95,194.33 460.33,194.27 460.7,194.21 461.08,194.15 461.45,194.09 461.83,194.04 462.2,193.98 462.58,193.92 462.95,193.87 463.33,193.81 463.7,193.76 464.08,193.7 464.45,193.65 464.83,193.59 465.2,193.54 465.57,193.48 465.95,193.43 466.32,193.38 466.7,193.32 467.07,193.27 467.45,193.22 467.82,193.17 468.2,193.11 468.57,193.06 468.95,193.01 469.32,192.96 469.7,192.91 470.07,192.86 470.45,192.81 470.82,192.76 471.19,192.71 471.57,192.66 471.94,192.61 472.32,192.56 472.69,192.51 473.07,192.46 473.44,192.41 473.82,192.36 474.19,192.31 474.57,192.26 474.94,192.21 475.32,192.17 475.69,192.12 476.06,192.07 476.44,192.02 476.81,191.97 477.19,191.92 477.56,191.88 477.94,191.83 478.31,191.78 478.69,191.73 479.06,191.68 479.44,191.63 479.81,191.59 480.19,191.54 480.56,191.49 480.94,191.44 481.31,191.39 481.68,191.35 482.06,191.3 482.43,191.25 482.81,191.2 483.18,191.15 483.56,191.11 483.93,191.06 484.31,191.01 484.68,190.96 485.06,190.92 485.43,190.87 485.81,190.82 486.18,190.77 486.55,190.73 486.93,190.68 487.3,190.63 487.68,190.59 488.05,190.54 488.43,190.49 488.8,190.45 489.18,190.4 489.55,190.35 489.93,190.31 490.3,190.26 490.68,190.21 491.05,190.17 491.43,190.12 491.8,190.07 492.17,190.03 492.55,189.98 492.92,189.94 493.3,189.89 493.67,189.84 494.05,189.8 494.42,189.75 494.8,189.71 495.17,189.66 495.55,189.62 495.92,189.57 496.3,189.53 496.67,189.48 497.05,189.44 497.42,189.39 497.79,189.35 498.17,189.3 498.54,189.26 498.92,189.21 499.29,189.17 499.67,189.12 500.04,189.08 500.42,189.04 500.79,188.99 501.17,188.95 501.54,188.9 501.92,188.86 502.29,188.82 502.66,188.77 503.04,188.73 503.41,188.69 503.79,188.64 504.16,188.6 504.54,188.56 504.91,188.51 505.29,188.47 505.66,188.43 506.04,188.38 506.41,188.34 506.79,188.3 507.16,188.26 507.54,188.21 507.91,188.17 508.28,188.13 508.66,188.09 509.03,188.05 509.41,188.01 509.78,187.96 510.16,187.92 510.53,187.88 510.91,187.84 511.28,187.8 511.66,187.76 512.03,187.72 512.41,187.67 512.78,187.63 513.15,187.59 513.53,187.55 513.9,187.51 514.28,187.47 514.65,187.43 515.03,187.39" fill="none" stroke="#000000" stroke-width="0.75" stroke-linejoin="round"/>
<rect x="281.19" y="338.37" width="3.12" height="3.12" fill="#000000"/>
<rect x="284.93" y="338.31" width="3.12" height="3.12" fill="#000000"/>
<rect x="288.68" y="338.15" width="3.12" height="3.12" fill="#000000"/>
<rect x="292.43" y="337.88" width="3.12" height="3.12" fill="#000000"/>
<rect x="296.17" y="337.53" width="3.12" height="3.12" fill="#000000"/>
<rect x="299.92" y="337.1" width="3.12" height="3.12" fill="#000000"/>
<rect x="303.67" y="336.6" width="3.12" height="3.12" fill="#000000"/>
<rect x="307.41" y="336.05" width="3.12" height="3.12" fill="#000000"/>
<rect x="311.16" y="335.45" width="3.12" height="3.12" fill="#000000"/>
<rect x="314.9" y="334.82" width="3.12" height="3.12" fill="#000000"/>
<rect x="318.65" y="334.16" width="3.12" height="3.12" fill="#000000"/>
<rect x="322.4" y="333.48" width="3.12" height="3.12" fill="#000000"/>
<rect x="326.14" y="332.69" width="3.12" height="3.12" fill="#000000"/>
<rect x="329.89" y="331.71" width="3.12" height="3.12" fill="#000000"/>
<rect x="333.64" y="330.54" width="3.12" height="3.12" fill="#000000"/>
<rect x="337.38" y="329.19" width="3.12" height="3.12" fill="#000000"/>
<rect x="341.13" y="327.7" width="3.12" height="3.12" fill="#000000"/>
<rect x="344.88" y="326.13" width="3.12" height="3.12" fill="#000000"/>
<rect x="348.62" y="324.04" width="3.12" height="3.12" fill="#000000"/>
<rect x="352.37" y="320.32" width="3.12" height="3.12" fill="#000000"/>
<rect x="356.12" y="311.41" width="3.12" height="3.12" fill="#000000"/>
<rect x="359.86" y="304.71" width="3.12" height="3.12" fill="#000000"/>
<rect x="363.61" y="295.95" width="3.12" height="3.12" fill="#000000"/>
<rect x="367.36" y="282.28" width="3.12" height="3.12" fill="#000000"/>
<rect x="371.1" y="259.25" width="3.12" height="3.12" fill="#000000"/>
<rect x="374.85" y="232.05" width="3.12" height="3.12" fill="#000000"/>
<rect x="378.59" y="222.28" width="3.12" height="3.12" fill="#000000"/>
<rect x="382.34" y="217.38" width="3.12" height="3.12" fill="#000000"/>
<rect x="386.09" y="214.97" width="3.12" height="3.12" fill="#000000"/>
<rect x="389.83" y="212.66" width="3.12" height="3.12" fill="#000000"/>
<rect x="393.58" y="210.51" width="3.12" height="3.12" fill="#000000"/>
<rect x="397.33" y="208.74" width="3.12" height="3.12" fill="#000000"/>
<rect x="401.07" y="207.23" width="3.12" height="3.12" fill="#000000"/>
<rect x="404.82" y="205.88" width="3.12" height="3.12" fill="#000000"/>
<rect x="408.57" y="204.64" width="3.12" height="3.12" fill="#000000"/>
<rect x="412.31" y="203.47" width="3.12" height="3.12" fill="#000000"/>
<rect x="416.06" y="202.33" width="3.12" height="3.12" fill="#000000"/>
<rect x="419.81" y="201.22" width="3.12" height="3.12" fill="#000000"/>
<rect x="423.55" y="200.15" width="3.12" height="3.12" fill="#000000"/>
<rect x="427.3" y="199.14" width="3.12" height="3.12" fill="#000000"/>
<rect x="431.05" y="198.19" width="3.12" height="3.12" fill="#000000"/>
<rect x="434.79" y="197.31" width="3.12" height="3.12" fill="#000000"/>
<rect x="438.54" y="196.48" width="3.12" height="3.12" fill="#000000"/>
<rect x="442.29" y="195.69" width="3.12" height="3.12" fill="#000000"/>
<rect x="446.03" y="194.94" width="3.12" height="3.12" fill="#000000"/>
<rect x="449.78" y="194.24" width="3.12" height="3.12" fill="#000000"/>
<rect x="453.52" y="193.57" width="3.12" height="3.12" fill="#000000"/>
<rect x="457.27" y="192.95" width="3.12" height="3.12" fill="#000000"/>
<rect x="461.02" y="192.36" width="3.12" height="3.12" fill="#000000"/>
<rect x="464.76" y="191.82" width="3.12" height="3.12" fill="#000000"/>
<rect x="468.51" y="191.3" width="3.12" height="3.12" fill="#000000"/>
<rect x="472.26" y="190.8" width="3.12" height="3.12" fill="#000000"/>
<rect x="476" y="190.32" width="3.12" height="3.12" fill="#000000"/>
<rect x="479.75" y="189.83" width="3.12" height="3.12" fill="#000000"/>
<rect x="483.5" y="189.36" width="3.12" height="3.12" fill="#000000"/>
<rect x="487.24" y="188.89" width="3.12" height="3.12" fill="#000000"/>
<rect x="490.99" y="188.42" width="3.12" height="3.12" fill="#000000"/>
<rect x="494.74" y="187.97" width="3.12" height="3.12" fill="#000000"/>
<rect x="498.48" y="187.52" width="3.12" height="3.12" fill="#000000"/>
<rect x="502.23" y="187.08" width="3.12" height="3.12" fill="#000000"/>
<rect x="505.98" y="186.65" width="3.12" height="3.12" fill="#000000"/>
<rect x="509.72" y="186.24" width="3.12" height="3.12" fill="#000000"/>
<rect x="513.47" y="185.83" width="3.12" height="3.12" fill="#000000"/>
<polyline points="282.75,339.93 283.12,339.9 283.5,339.87 283.87,339.83 284.25,339.8 284.62,339.76 284.99,339.73 285.37,339.69 285.74,339.66 286.12,339.62 286.49,339.58 286.87,339.55 287.24,339.51 287.62,339.47 287.99,339.43 288.37,339.4 288.74,339.36 289.12,339.32 289.49,339.28 289.86,339.24 290.24,339.2 290.61,339.16 290.99,339.12 291.36,339.08 291.74,339.04 292.11,339 292.49,338.96 292.86,338.91 293.24,338.87 293.61,338.83 293.99,338.79 294.36,338.74 294.74,338.7 295.11,338.66 295.48,338.61 295.86,338.57 296.23,338.52 296.61,338.48 296.98,338.43 297.36,338.39 297.73,338.34 298.11,338.3 298.48,338.25 298.86,338.2 299.23,338.16 299.61,338.11 299.98,338.06 300.35,338.01 300.73,337.97 301.1,337.92 301.48,337.87 301.85,337.82 302.23,337.77 302.6,337.72 302.98,337.67 303.35,337.62 303.73,337.57 304.1,337.52 304.48,337.47 304.85,337.42 305.23,337.37 305.6,337.32 305.97,337.27 306.35,337.22 306.72,337.17 307.1,337.11 307.47,337.06 307.85,337.01 308.22,336.96 308.6,336.9 308.97,336.85 309.35,336.8 309.72,336.74 310.1,336.69 310.47,336.64 310.85,336.58 311.22,336.53 311.59,336.47 311.97,336.42 312.34,336.37 312.72,336.31 313.09,336.26 313.47,336.2 313.84,336.15 314.22,336.09 314.59,336.03 314.97,335.98 315.34,335.92 315.72,335.87 316.09,335.81 316.46,335.75 316.84,335.7 317.21,335.64 317.59,335.58 317.96,335.53 318.34,335.47 318.71,335.41 319.09,335.35 319.46,335.3 319.84,335.24 320.21,335.18 320.59,335.12 320.96,335.06 321.34,335.01 321.71,334.95 322.08,334.89 322.46,334.83 322.83,334.77 323.21,334.71 323.58,334.65 323.96,334.6 324.33,334.54 324.71,334.47 325.08,334.41 325.46,334.35 325.83,334.29 326.21,334.22 326.58,334.16 326.95,334.09 327.33,334.02 327.7,333.95 328.08,333.89 328.45,333.82 328.83,333.75 329.2,333.68 329.58,333.6 329.95,333.53 330.33,333.46 330.7,333.39 331.08,333.31 331.45,333.24 331.83,333.17 332.2,333.09 332.57,333.02 332.95,332.94 333.32,332.87 333.7,332.79 334.07,332.72 334.45,332.64 334.82,332.57 335.2,332.49 335.57,332.42 335.95,332.34 336.32,332.26 336.7,332.19 337.07,332.11 337.45,332.04 337.82,331.97 338.19,331.89 338.57,331.82 338.94,331.74 339.32,331.67 339.69,331.6 340.07,331.53 340.44,331.45 340.82,331.38 341.19,331.31 341.57,331.24 341.94,331.17 342.32,331.1 342.69,331.04 343.06,330.97 343.44,330.9 343.81,330.84 344.19,330.77 344.56,330.7 344.94,330.64 345.31,330.57 345.69,330.5 346.06,330.44 346.44,330.37 346.81,330.31 347.19,330.24 347.56,330.18 347.94,330.11 348.31,330.05 348.68,329.98 349.06,329.92 349.43,329.85 349.81,329.79 350.18,329.72 350.56,329.66 350.93,329.59 351.31,329.53 351.68,329.47 352.06,329.4 352.43,329.34 352.81,329.28 353.18,329.21 353.55,329.15 353.93,329.09 354.3,329.02 354.68,328.96 355.05,328.9 355.43,328.83 355.8,328.77 356.18,328.71 356.55,328.64 356.93,328.58 357.3,328.52 357.68,328.46 358.05,328.39 358.43,328.33 358.8,328.27 359.17,328.21 359.55,328.14 359.92,328.08 360.3,328.02 360.67,327.96 361.05,327.9 361.42,327.83 361.8,327.77 362.17,327.71 362.55,327.65 362.92,327.58 363.3,327.52 363.67,327.46 364.05,327.4 364.42,327.34 364.79,327.27 365.17,327.21 365.54,327.15 365.92,327.09 366.29,327.03 366.67,326.96 367.04,326.9 367.42,326.84 367.79,326.78 368.17,326.71 368.54,326.65 368.92,326.59 369.29,326.53 369.66,326.47 370.04,326.41 370.41,326.35 370.79,326.29 371.16,326.23 371.54,326.18 371.91,326.12 372.29,326.06 372.66,326.01 373.04,325.95 373.41,325.9 373.79,325.85 374.16,325.79 374.54,325.74 374.91,325.69 375.28,325.64 375.66,325.58 376.03,325.53 376.41,325.48 376.78,325.43 377.16,325.38 377.53,325.32 377.91,325.27 378.28,325.22 378.66,325.16 379.03,325.11 379.41,325.06 379.78,325 380.15,324.95 380.53,324.89 380.9,324.84 381.28,324.78 381.65,324.73 382.03,324.67 382.4,324.61 382.78,324.55 383.15,324.49 383.53,324.43 383.9,324.37 384.28,324.31 384.65,324.24 385.03,324.18 385.4,324.11 385.77,324.04 386.15,323.98 386.52,323.91 386.9,323.83 387.27,323.76 387.65,323.69 388.02,323.61 388.4,323.53 388.77,323.45 389.15,323.37 389.52,323.29 389.9,323.21 390.27,323.12 390.65,323.03 391.02,322.94 391.39,322.84 391.77,322.74 392.14,322.63 392.52,322.52 392.89,322.4 393.27,322.28 393.64,322.15 394.02,322.02 394.39,321.89 394.77,321.75 395.14,321.61 395.52,321.47 395.89,321.32 396.26,321.18 396.64,321.03 397.01,320.88 397.39,320.72 397.76,320.57 398.14,320.41 398.51,320.26 398.89,320.1 399.26,319.94 399.64,319.79 400.01,319.63 400.39,319.47 400.76,319.32 401.14,319.17 401.51,319.01 401.88,318.86 402.26,318.71 402.63,318.55 403.01,318.4 403.38,318.24 403.76,318.08 404.13,317.91 404.51,317.74 404.88,317.57 405.26,317.39 405.63,317.2 406.01,317.01 406.38,316.81 406.75,316.6 407.13,316.38 407.5,316.15 407.88,315.92 408.25,315.66 408.63,315.39 409,315.1 409.38,314.8 409.75,314.48 410.13,314.14 410.5,313.79 410.88,313.42 411.25,313.04 411.63,312.65 412,312.25 412.37,311.84 412.75,311.43 413.12,311 413.5,310.57 413.87,310.13 414.25,309.69 414.62,309.25 415,308.8 415.37,308.34 415.75,307.87 416.12,307.37 416.5,306.86 416.87,306.33 417.25,305.78 417.62,305.22 417.99,304.65 418.37,304.06 418.74,303.46 419.12,302.83 419.49,302.15 419.87,301.43 420.24,300.7 420.62,299.96 420.99,299.23 421.37,298.52 421.74,297.85 422.12,297.24 422.49,296.66 422.86,296.11 423.24,295.56 423.61,295.03 423.99,294.51 424.36,294 424.74,293.51 425.11,293.02 425.49,292.55 425.86,292.08 426.24,291.62 426.61,291.17 426.99,290.73 427.36,290.29 427.74,289.85 428.11,289.42 428.48,289 428.86,288.58 429.23,288.16 429.61,287.74 429.98,287.32 430.36,286.9 430.73,286.49 431.11,286.07 431.48,285.65 431.86,285.22 432.23,284.79 432.61,284.36 432.98,283.92 433.35,283.48 433.73,283.03 434.1,282.57 434.48,282.11 434.85,281.63 435.23,281.15 435.6,280.65 435.98,280.15 436.35,279.63 436.73,279.1 437.1,278.56 437.48,277.99 437.85,277.4 438.23,276.78 438.6,276.15 438.97,275.5 439.35,274.85 439.72,274.21 440.1,273.57 440.47,272.94 440.85,272.33 441.22,271.75 441.6,271.19 441.97,270.65 442.35,270.13 442.72,269.61 443.1,269.11 443.47,268.6 443.85,268.1 444.22,267.6 444.59,267.09 444.97,266.57 445.34,266.04 445.72,265.49 446.09,264.92 446.47,264.33 446.84,263.71 447.22,263.06 447.59,262.38 447.97,261.66 448.34,260.86 448.72,259.94 449.09,258.94 449.46,257.89 449.84,256.81 450.21,255.73 450.59,254.67 450.96,253.68 451.34,252.77 451.71,251.95 452.09,251.21 452.46,250.54 452.84,249.91 453.21,249.3 453.59,248.69 453.96,248.07 454.34,247.42 454.71,246.71 455.08,245.93 455.46,245.06 455.83,244.09 456.21,242.98 456.58,241.48 456.96,239.48 457.33,237.2 457.71,234.85 458.08,232.66 458.46,230.78 458.83,229.06 459.21,227.41 459.58,225.83 459.95,224.29 460.33,222.77 460.7,221.25 461.08,219.7 461.45,218.11 461.83,216.45 462.2,214.69 462.58,212.65 462.95,210.28 463.33,207.73 463.7,205.15 464.08,202.68 464.45,200.46 464.83,198.63 465.2,197.34 465.57,196.73 465.95,196.52 466.32,196.34 466.7,196.18 467.07,196.04 467.45,195.91 467.82,195.8 468.2,195.7 468.57,195.61 468.95,195.53 469.32,195.46 469.7,195.39 470.07,195.33 470.45,195.26 470.82,195.19 471.19,195.12 471.57,195.04 471.94,194.95 472.32,194.86 472.69,194.77 473.07,194.68 473.44,194.59 473.82,194.5 474.19,194.41 474.57,194.32 474.94,194.24 475.32,194.15 475.69,194.06 476.06,193.98 476.44,193.89 476.81,193.81 477.19,193.72 477.56,193.64 477.94,193.56 478.31,193.48 478.69,193.39 479.06,193.31 479.44,193.23 479.81,193.15 480.19,193.07 480.56,192.99 480.94,192.92 481.31,192.84 481.68,192.76 482.06,192.68 482.43,192.61 482.81,192.53 483.18,192.46 483.56,192.38 483.93,192.31 484.31,192.24 484.68,192.16 485.06,192.09 485.43,192.02 485.81,191.95 486.18,191.88 486.55,191.81 486.93,191.74 487.3,191.67 487.68,191.6 488.05,191.53 488.43,191.46 488.8,191.39 489.18,191.33 489.55,191.26 489.93,191.19 490.3,191.13 490.68,191.06 491.05,191 491.43,190.93 491.8,190.86 492.17,190.8 492.55,190.73 492.92,190.67 493.3,190.6 493.67,190.54 494.05,190.47 494.42,190.41 494.8,190.35 495.17,190.28 495.55,190.22 495.92,190.16 496.3,190.09 496.67,190.03 497.05,189.97 497.42,189.91 497.79,189.85 498.17,189.79 498.54,189.72 498.92,189.66 499.29,189.6 499.67,189.54 500.04,189.48 500.42,189.42 500.79,189.36 501.17,189.31 501.54,189.25 501.92,189.19 502.29,189.13 502.66,189.07 503.04,189.02 503.41,188.96 503.79,188.9 504.16,188.85 504.54,188.79 504.91,188.74 505.29,188.68 505.66,188.63 506.04,188.57 506.41,188.52 506.79,188.46 507.16,188.41 507.54,188.36 507.91,188.31 508.28,188.25 508.66,188.2 509.03,188.15 509.41,188.1 509.78,188.05 510.16,188 510.53,187.95 510.91,187.9 511.28,187.85 511.66,187.81 512.03,187.76 512.41,187.71 512.78,187.66 513.15,187.62 513.53,187.57 513.9,187.53 514.28,187.48 514.65,187.44 515.03,187.39" fill="none" stroke="#000000" stroke-width="0.75" stroke-linejoin="round"/>
<rect x="281.19" y="338.37" width="3.12" height="3.12" fill="#000000"/>
<rect x="284.93" y="338.02" width="3.12" height="3.12" fill="#000000"/>
<rect x="288.68" y="337.64" width="3.12" height="3.12" fill="#000000"/>
<rect x="292.43" y="337.23" width="3.12" height="3.12" fill="#000000"/>
<rect x="296.17" y="336.78" width="3.12" height="3.12" fill="#000000"/>
<rect x="299.92" y="336.31" width="3.12" height="3.12" fill="#000000"/>
<rect x="303.67" y="335.81" width="3.12" height="3.12" fill="#000000"/>
<rect x="307.41" y="335.29" width="3.12" height="3.12" fill="#000000"/>
<rect x="311.16" y="334.75" width="3.12" height="3.12" fill="#000000"/>
<rect x="314.9" y="334.19" width="3.12" height="3.12" fill="#000000"/>
<rect x="318.65" y="333.62" width="3.12" height="3.12" fill="#000000"/>
<rect x="322.4" y="333.04" width="3.12" height="3.12" fill="#000000"/>
<rect x="326.14" y="332.39" width="3.12" height="3.12" fill="#000000"/>
<rect x="329.89" y="331.68" width="3.12" height="3.12" fill="#000000"/>
<rect x="333.64" y="330.93" width="3.12" height="3.12" fill="#000000"/>
<rect x="337.38" y="330.18" width="3.12" height="3.12" fill="#000000"/>
<rect x="341.13" y="329.48" width="3.12" height="3.12" fill="#000000"/>
<rect x="344.88" y="328.81" width="3.12" height="3.12" fill="#000000"/>
<rect x="348.62" y="328.16" width="3.12" height="3.12" fill="#000000"/>
<rect x="352.37" y="327.53" width="3.12" height="3.12" fill="#000000"/>
<rect x="356.12" y="326.9" width="3.12" height="3.12" fill="#000000"/>
<rect x="359.86" y="326.27" width="3.12" height="3.12" fill="#000000"/>
<rect x="363.61" y="325.65" width="3.12" height="3.12" fill="#000000"/>
<rect x="367.36" y="325.03" width="3.12" height="3.12" fill="#000000"/>
<rect x="371.1" y="324.45" width="3.12" height="3.12" fill="#000000"/>
<rect x="374.85" y="323.92" width="3.12" height="3.12" fill="#000000"/>
<rect x="378.59" y="323.39" width="3.12" height="3.12" fill="#000000"/>
<rect x="382.34" y="322.81" width="3.12" height="3.12" fill="#000000"/>
<rect x="386.09" y="322.13" width="3.12" height="3.12" fill="#000000"/>
<rect x="389.83" y="321.28" width="3.12" height="3.12" fill="#000000"/>
<rect x="393.58" y="320.05" width="3.12" height="3.12" fill="#000000"/>
<rect x="397.33" y="318.54" width="3.12" height="3.12" fill="#000000"/>
<rect x="401.07" y="316.99" width="3.12" height="3.12" fill="#000000"/>
<rect x="404.82" y="315.25" width="3.12" height="3.12" fill="#000000"/>
<rect x="408.57" y="312.58" width="3.12" height="3.12" fill="#000000"/>
<rect x="412.31" y="308.57" width="3.12" height="3.12" fill="#000000"/>
<rect x="416.06" y="303.66" width="3.12" height="3.12" fill="#000000"/>
<rect x="419.81" y="296.96" width="3.12" height="3.12" fill="#000000"/>
<rect x="423.55" y="291.46" width="3.12" height="3.12" fill="#000000"/>
<rect x="427.3" y="287.02" width="3.12" height="3.12" fill="#000000"/>
<rect x="431.05" y="282.8" width="3.12" height="3.12" fill="#000000"/>
<rect x="434.79" y="278.07" width="3.12" height="3.12" fill="#000000"/>
<rect x="438.54" y="272.01" width="3.12" height="3.12" fill="#000000"/>
<rect x="442.29" y="266.54" width="3.12" height="3.12" fill="#000000"/>
<rect x="446.03" y="260.82" width="3.12" height="3.12" fill="#000000"/>
<rect x="449.78" y="251.21" width="3.12" height="3.12" fill="#000000"/>
<rect x="453.52" y="244.37" width="3.12" height="3.12" fill="#000000"/>
<rect x="457.27" y="227.5" width="3.12" height="3.12" fill="#000000"/>
<rect x="461.02" y="211.09" width="3.12" height="3.12" fill="#000000"/>
<rect x="464.76" y="194.78" width="3.12" height="3.12" fill="#000000"/>
<rect x="468.51" y="193.77" width="3.12" height="3.12" fill="#000000"/>
<rect x="472.26" y="192.94" width="3.12" height="3.12" fill="#000000"/>
<rect x="476" y="192.08" width="3.12" height="3.12" fill="#000000"/>
<rect x="479.75" y="191.28" width="3.12" height="3.12" fill="#000000"/>
<rect x="483.5" y="190.53" width="3.12" height="3.12" fill="#000000"/>
<rect x="487.24" y="189.83" width="3.12" height="3.12" fill="#000000"/>
<rect x="490.99" y="189.17" width="3.12" height="3.12" fill="#000000"/>
<rect x="494.74" y="188.53" width="3.12" height="3.12" fill="#000000"/>
<rect x="498.48" y="187.92" width="3.12" height="3.12" fill="#000000"/>
<rect x="502.23" y="187.34" width="3.12" height="3.12" fill="#000000"/>
<rect x="505.98" y="186.8" width="3.12" height="3.12" fill="#000000"/>
<rect x="509.72" y="186.29" width="3.12" height="3.12" fill="#000000"/>
<rect x="513.47" y="185.83" width="3.12" height="3.12" fill="#000000"/>
<polyline points="282.75,339.93 283.12,339.92 283.5,339.91 283.87,339.9 284.25,339.89 284.62,339.88 284.99,339.87 285.37,339.85 285.74,339.84 286.12,339.82 286.49,339.81 286.87,339.79 287.24,339.77 287.62,339.75 287.99,339.73 288.37,339.71 288.74,339.69 289.12,339.67 289.49,339.64 289.86,339.62 290.24,339.59 290.61,339.57 290.99,339.54 291.36,339.51 291.74,339.48 292.11,339.45 292.49,339.42 292.86,339.39 293.24,339.36 293.61,339.33 293.99,339.3 294.36,339.26 294.74,339.23 295.11,339.19 295.48,339.16 295.86,339.12 296.23,339.08 296.61,339.05 296.98,339.01 297.36,338.97 297.73,338.93 298.11,338.89 298.48,338.85 298.86,338.81 299.23,338.76 299.61,338.72 299.98,338.68 300.35,338.63 300.73,338.59 301.1,338.54 301.48,338.5 301.85,338.45 302.23,338.4 302.6,338.36 302.98,338.31 303.35,338.26 303.73,338.21 304.1,338.16 304.48,338.11 304.85,338.06 305.23,338.01 305.6,337.96 305.97,337.91 306.35,337.86 306.72,337.8 307.1,337.75 307.47,337.7 307.85,337.64 308.22,337.59 308.6,337.53 308.97,337.48 309.35,337.42 309.72,337.37 310.1,337.31 310.47,337.25 310.85,337.2 311.22,337.14 311.59,337.08 311.97,337.02 312.34,336.96 312.72,336.9 313.09,336.85 313.47,336.79 313.84,336.73 314.22,336.67 314.59,336.61 314.97,336.55 315.34,336.49 315.72,336.42 316.09,336.36 316.46,336.3 316.84,336.24 317.21,336.18 317.59,336.12 317.96,336.05 318.34,335.99 318.71,335.93 319.09,335.87 319.46,335.8 319.84,335.74 320.21,335.68 320.59,335.61 320.96,335.55 321.34,335.49 321.71,335.42 322.08,335.36 322.46,335.3 322.83,335.23 323.21,335.17 323.58,335.1 323.96,335.04 324.33,334.98 324.71,334.91 325.08,334.84 325.46,334.78 325.83,334.71 326.21,334.64 326.58,334.57 326.95,334.5 327.33,334.42 327.7,334.35 328.08,334.28 328.45,334.2 328.83,334.12 329.2,334.04 329.58,333.96 329.95,333.88 330.33,333.8 330.7,333.72 331.08,333.63 331.45,333.55 331.83,333.46 332.2,333.37 332.57,333.28 332.95,333.19 333.32,333.09 333.7,333 334.07,332.9 334.45,332.8 334.82,332.7 335.2,332.6 335.57,332.49 335.95,332.39 336.32,332.28 336.7,332.17 337.07,332.06 337.45,331.95 337.82,331.83 338.19,331.71 338.57,331.6 338.94,331.47 339.32,331.35 339.69,331.23 340.07,331.1 340.44,330.97 340.82,330.84 341.19,330.7 341.57,330.57 341.94,330.43 342.32,330.29 342.69,330.15 343.06,330 343.44,329.84 343.81,329.67 344.19,329.49 344.56,329.3 344.94,329.11 345.31,328.9 345.69,328.69 346.06,328.47 346.44,328.25 346.81,328.01 347.19,327.78 347.56,327.53 347.94,327.28 348.31,327.03 348.68,326.77 349.06,326.51 349.43,326.24 349.81,325.97 350.18,325.7 350.56,325.42 350.93,325.13 351.31,324.84 351.68,324.53 352.06,324.21 352.43,323.89 352.81,323.56 353.18,323.21 353.55,322.87 353.93,322.51 354.3,322.15 354.68,321.79 355.05,321.41 355.43,321.04 355.8,320.65 356.18,320.27 356.55,319.88 356.93,319.48 357.3,319.08 357.68,318.68 358.05,318.28 358.43,317.88 358.8,317.47 359.17,317.06 359.55,316.66 359.92,316.25 360.3,315.84 360.67,315.43 361.05,315.03 361.42,314.62 361.8,314.21 362.17,313.79 362.55,313.38 362.92,312.95 363.3,312.53 363.67,312.1 364.05,311.66 364.42,311.22 364.79,310.78 365.17,310.33 365.54,309.87 365.92,309.41 366.29,308.95 366.67,308.47 367.04,308 367.42,307.51 367.79,307.02 368.17,306.53 368.54,306.04 368.92,305.55 369.29,305.05 369.66,304.55 370.04,304.03 370.41,303.51 370.79,302.96 371.16,302.4 371.54,301.82 371.91,301.21 372.29,300.57 372.66,299.91 373.04,299.21 373.41,298.49 373.79,297.73 374.16,296.95 374.54,296.12 374.91,295.25 375.28,294.33 375.66,293.36 376.03,292.34 376.41,291.26 376.78,290.12 377.16,288.88 377.53,287.51 377.91,286.02 378.28,284.42 378.66,282.73 379.03,280.95 379.41,279.1 379.78,277.18 380.15,275.22 380.53,273.22 380.9,271.11 381.28,268.81 381.65,266.38 382.03,263.85 382.4,261.25 382.78,258.62 383.15,256.01 383.53,253.46 383.9,250.99 384.28,248.48 384.65,245.85 385.03,243.16 385.4,240.49 385.77,237.94 386.15,235.57 386.52,233.46 386.9,231.7 387.27,230.32 387.65,229.06 388.02,227.9 388.4,226.81 388.77,225.81 389.15,224.89 389.52,224.04 389.9,223.26 390.27,222.56 390.65,221.93 391.02,221.37 391.39,220.86 391.77,220.41 392.14,219.99 392.52,219.6 392.89,219.24 393.27,218.9 393.64,218.58 394.02,218.26 394.39,217.95 394.77,217.63 395.14,217.31 395.52,217 395.89,216.69 396.26,216.38 396.64,216.07 397.01,215.77 397.39,215.48 397.76,215.19 398.14,214.9 398.51,214.63 398.89,214.36 399.26,214.1 399.64,213.85 400.01,213.61 400.39,213.37 400.76,213.15 401.14,212.94 401.51,212.74 401.88,212.55 402.26,212.36 402.63,212.18 403.01,212 403.38,211.82 403.76,211.65 404.13,211.48 404.51,211.32 404.88,211.16 405.26,211 405.63,210.85 406.01,210.69 406.38,210.54 406.75,210.4 407.13,210.25 407.5,210.11 407.88,209.97 408.25,209.83 408.63,209.7 409,209.56 409.38,209.43 409.75,209.3 410.13,209.17 410.5,209.05 410.88,208.92 411.25,208.79 411.63,208.67 412,208.55 412.37,208.42 412.75,208.3 413.12,208.18 413.5,208.06 413.87,207.94 414.25,207.82 414.62,207.7 415,207.57 415.37,207.45 415.75,207.33 416.12,207.21 416.5,207.08 416.87,206.96 417.25,206.84 417.62,206.71 417.99,206.59 418.37,206.46 418.74,206.34 419.12,206.22 419.49,206.1 419.87,205.97 420.24,205.85 420.62,205.73 420.99,205.61 421.37,205.49 421.74,205.37 422.12,205.25 422.49,205.14 422.86,205.02 423.24,204.9 423.61,204.78 423.99,204.67 424.36,204.55 424.74,204.44 425.11,204.32 425.49,204.21 425.86,204.1 426.24,203.98 426.61,203.87 426.99,203.76 427.36,203.65 427.74,203.54 428.11,203.43 428.48,203.32 428.86,203.21 429.23,203.1 429.61,202.99 429.98,202.89 430.36,202.78 430.73,202.68 431.11,202.57 431.48,202.47 431.86,202.36 432.23,202.26 432.61,202.16 432.98,202.06 433.35,201.96 433.73,201.86 434.1,201.76 434.48,201.66 434.85,201.56 435.23,201.46 435.6,201.37 435.98,201.27 436.35,201.18 436.73,201.08 437.1,200.99 437.48,200.9 437.85,200.81 438.23,200.71 438.6,200.62 438.97,200.53 439.35,200.44 439.72,200.35 440.1,200.26 440.47,200.17 440.85,200.09 441.22,200 441.6,199.91 441.97,199.82 442.35,199.74 442.72,199.65 443.1,199.57 443.47,199.48 443.85,199.4 444.22,199.31 444.59,199.23 444.97,199.15 445.34,199.06 445.72,198.98 446.09,198.9 446.47,198.82 446.84,198.74 447.22,198.66 447.59,198.57 447.97,198.49 448.34,198.41 448.72,198.34 449.09,198.26 449.46,198.18 449.84,198.1 450.21,198.02 450.59,197.94 450.96,197.86 451.34,197.79 451.71,197.71 452.09,197.63 452.46,197.56 452.84,197.48 453.21,197.4 453.59,197.33 453.96,197.25 454.34,197.18 454.71,197.1 455.08,197.03 455.46,196.95 455.83,196.88 456.21,196.8 456.58,196.73 456.96,196.65 457.33,196.58 457.71,196.51 458.08,196.43 458.46,196.36 458.83,196.29 459.21,196.21 459.58,196.14 459.95,196.07 460.33,195.99 460.7,195.92 461.08,195.85 461.45,195.78 461.83,195.7 462.2,195.63 462.58,195.56 462.95,195.49 463.33,195.42 463.7,195.35 464.08,195.27 464.45,195.2 464.83,195.13 465.2,195.06 465.57,194.99 465.95,194.92 466.32,194.85 466.7,194.78 467.07,194.71 467.45,194.64 467.82,194.57 468.2,194.51 468.57,194.44 468.95,194.37 469.32,194.3 469.7,194.23 470.07,194.16 470.45,194.1 470.82,194.03 471.19,193.96 471.57,193.9 471.94,193.83 472.32,193.77 472.69,193.7 473.07,193.63 473.44,193.57 473.82,193.51 474.19,193.44 474.57,193.38 474.94,193.31 475.32,193.25 475.69,193.19 476.06,193.12 476.44,193.06 476.81,193 477.19,192.94 477.56,192.88 477.94,192.82 478.31,192.76 478.69,192.69 479.06,192.64 479.44,192.58 479.81,192.52 480.19,192.46 480.56,192.4 480.94,192.34 481.31,192.28 481.68,192.23 482.06,192.17 482.43,192.11 482.81,192.06 483.18,192 483.56,191.94 483.93,191.89 484.31,191.83 484.68,191.77 485.06,191.72 485.43,191.66 485.81,191.61 486.18,191.55 486.55,191.49 486.93,191.44 487.3,191.38 487.68,191.33 488.05,191.27 488.43,191.22 488.8,191.16 489.18,191.11 489.55,191.06 489.93,191 490.3,190.95 490.68,190.89 491.05,190.84 491.43,190.79 491.8,190.73 492.17,190.68 492.55,190.63 492.92,190.57 493.3,190.52 493.67,190.47 494.05,190.42 494.42,190.36 494.8,190.31 495.17,190.26 495.55,190.21 495.92,190.16 496.3,190.11 496.67,190.06 497.05,190.01 497.42,189.95 497.79,189.9 498.17,189.85 498.54,189.8 498.92,189.75 499.29,189.71 499.67,189.66 500.04,189.61 500.42,189.56 500.79,189.51 501.17,189.46 501.54,189.41 501.92,189.36 502.29,189.32 502.66,189.27 503.04,189.22 503.41,189.17 503.79,189.13 504.16,189.08 504.54,189.03 504.91,188.99 505.29,188.94 505.66,188.9 506.04,188.85 506.41,188.81 506.79,188.76 507.16,188.72 507.54,188.67 507.91,188.63 508.28,188.58 508.66,188.54 509.03,188.5 509.41,188.45 509.78,188.41 510.16,188.37 510.53,188.33 510.91,188.28 511.28,188.24 511.66,188.2 512.03,188.16 512.41,188.12 512.78,188.08 513.15,188.04 513.53,188 513.9,187.96 514.28,187.92 514.65,187.88 515.03,187.84" fill="none" stroke="#ff0000" stroke-width="0.75" stroke-linejoin="round"/>
<circle cx="282.75" cy="339.93" r="1.75" fill="#ff0000"/>
<circle cx="286.49" cy="339.81" r="1.75" fill="#ff0000"/>
<circle cx="290.24" cy="339.59" r="1.75" fill="#ff0000"/>
<circle cx="293.99" cy="339.3" r="1.75" fill="#ff0000"/>
<circle cx="297.73" cy="338.93" r="1.75" fill="#ff0000"/>
<circle cx="301.48" cy="338.5" r="1.75" fill="#ff0000"/>
<circle cx="305.23" cy="338.01" r="1.75" fill="#ff0000"/>
<circle cx="308.97" cy="337.48" r="1.75" fill="#ff0000"/>
<circle cx="312.72" cy="336.9" r="1.75" fill="#ff0000"/>
<circle cx="316.46" cy="336.3" r="1.75" fill="#ff0000"/>
<circle cx="320.21" cy="335.68" r="1.75" fill="#ff0000"/>
<circle cx="323.96" cy="335.04" r="1.75" fill="#ff0000"/>
<circle cx="327.7" cy="334.35" r="1.75" fill="#ff0000"/>
<circle cx="331.45" cy="333.55" r="1.75" fill="#ff0000"/>
<circle cx="335.2" cy="332.6" r="1.75" fill="#ff0000"/>
<circle cx="338.94" cy="331.47" r="1.75" fill="#ff0000"/>
<circle cx="342.69" cy="330.15" r="1.75" fill="#ff0000"/>
<circle cx="346.44" cy="328.25" r="1.75" fill="#ff0000"/>
<circle cx="350.18" cy="325.7" r="1.75" fill="#ff0000"/>
<circle cx="353.93" cy="322.51" r="1.75" fill="#ff0000"/>
<circle cx="357.68" cy="318.68" r="1.75" fill="#ff0000"/>
<circle cx="361.42" cy="314.62" r="1.75" fill="#ff0000"/>
<circle cx="365.17" cy="310.33" r="1.75" fill="#ff0000"/>
<circle cx="368.92" cy="305.55" r="1.75" fill="#ff0000"/>
<circle cx="372.66" cy="299.91" r="1.75" fill="#ff0000"/>
<circle cx="376.41" cy="291.26" r="1.75" fill="#ff0000"/>
<circle cx="380.15" cy="275.22" r="1.75" fill="#ff0000"/>
<circle cx="383.9" cy="250.99" r="1.75" fill="#ff0000"/>
<circle cx="387.65" cy="229.06" r="1.75" fill="#ff0000"/>
<circle cx="391.39" cy="220.86" r="1.75" fill="#ff0000"/>
<circle cx="395.14" cy="217.31" r="1.75" fill="#ff0000"/>
<circle cx="398.89" cy="214.36" r="1.75" fill="#ff0000"/>
<circle cx="402.63" cy="212.18" r="1.75" fill="#ff0000"/>
<circle cx="406.38" cy="210.54" r="1.75" fill="#ff0000"/>
<circle cx="410.13" cy="209.17" r="1.75" fill="#ff0000"/>
<circle cx="413.87" cy="207.94" r="1.75" fill="#ff0000"/>
<circle cx="417.62" cy="206.71" r="1.75" fill="#ff0000"/>
<circle cx="421.37" cy="205.49" r="1.75" fill="#ff0000"/>
<circle cx="425.11" cy="204.32" r="1.75" fill="#ff0000"/>
<circle cx="428.86" cy="203.21" r="1.75" fill="#ff0000"/>
<circle cx="432.61" cy="202.16" r="1.75" fill="#ff0000"/>
<circle cx="436.35" cy="201.18" r="1.75" fill="#ff0000"/>
<circle cx="440.1" cy="200.26" r="1.75" fill="#ff0000"/>
<circle cx="443.85" cy="199.4" r="1.75" fill="#ff0000"/>
<circle cx="447.59" cy="198.57" r="1.75" fill="#ff0000"/>
<circle cx="451.34" cy="197.79" r="1.75" fill="#ff0000"/>
<circle cx="455.08" cy="197.03" r="1.75" fill="#ff0000"/>
<circle cx="458.83" cy="196.29" r="1.75" fill="#ff0000"/>
<circle cx="462.58" cy="195.56" r="1.75" fill="#ff0000"/>
<circle cx="466.32" cy="194.85" r="1.75" fill="#ff0000"/>
<circle cx="470.07" cy="194.16" r="1.75" fill="#ff0000"/>
<circle cx="473.82" cy="193.51" r="1.75" fill="#ff0000"/>
<circle cx="477.56" cy="192.88" r="1.75" fill="#ff0000"/>
<circle cx="481.31" cy="192.28" r="1.75" fill="#ff0000"/>
<circle cx="485.06" cy="191.72" r="1.75" fill="#ff0000"/>
<circle cx="488.8" cy="191.16" r="1.75" fill="#ff0000"/>
<circle cx="492.55" cy="190.63" r="1.75" fill="#ff0000"/>
<circle cx="496.3" cy="190.11" r="1.75" fill="#ff0000"/>
<circle cx="500.04" cy="189.61" r="1.75" fill="#ff0000"/>
<circle cx="503.79" cy="189.13" r="1.75" fill="#ff0000"/>
<circle cx="507.54" cy="188.67" r="1.75" fill="#ff0000"/>
<circle cx="511.28" cy="188.24" r="1.75" fill="#ff0000"/>
<circle cx="515.03" cy="187.84" r="1.75" fill="#ff0000"/>
<polyline points="282.75,339.93 283.12,339.92 283.5,339.92 283.87,339.91 284.25,339.89 284.62,339.88 284.99,339.87 285.37,339.86 285.74,339.84 286.12,339.83 286.49,339.81 286.87,339.79 287.24,339.78 287.62,339.76 287.99,339.74 288.37,339.72 288.74,339.69 289.12,339.67 289.49,339.65 289.86,339.62 290.24,339.6 290.61,339.57 290.99,339.55 291.36,339.52 291.74,339.49 292.11,339.46 292.49,339.43 292.86,339.4 293.24,339.37 293.61,339.34 293.99,339.31 294.36,339.27 294.74,339.24 295.11,339.2 295.48,339.17 295.86,339.13 296.23,339.09 296.61,339.06 296.98,339.02 297.36,338.98 297.73,338.94 298.11,338.9 298.48,338.86 298.86,338.82 299.23,338.77 299.61,338.73 299.98,338.69 300.35,338.64 300.73,338.6 301.1,338.55 301.48,338.51 301.85,338.46 302.23,338.42 302.6,338.37 302.98,338.32 303.35,338.27 303.73,338.22 304.1,338.17 304.48,338.12 304.85,338.07 305.23,338.02 305.6,337.97 305.97,337.92 306.35,337.87 306.72,337.81 307.1,337.76 307.47,337.71 307.85,337.65 308.22,337.6 308.6,337.54 308.97,337.49 309.35,337.43 309.72,337.37 310.1,337.32 310.47,337.26 310.85,337.2 311.22,337.15 311.59,337.09 311.97,337.03 312.34,336.97 312.72,336.91 313.09,336.85 313.47,336.79 313.84,336.73 314.22,336.67 314.59,336.61 314.97,336.55 315.34,336.49 315.72,336.43 316.09,336.37 316.46,336.31 316.84,336.25 317.21,336.18 317.59,336.12 317.96,336.06 318.34,336 318.71,335.93 319.09,335.87 319.46,335.81 319.84,335.74 320.21,335.68 320.59,335.62 320.96,335.55 321.34,335.49 321.71,335.43 322.08,335.36 322.46,335.3 322.83,335.23 323.21,335.17 323.58,335.1 323.96,335.04 324.33,334.97 324.71,334.9 325.08,334.83 325.46,334.75 325.83,334.67 326.21,334.59 326.58,334.5 326.95,334.41 327.33,334.32 327.7,334.22 328.08,334.12 328.45,334.02 328.83,333.91 329.2,333.81 329.58,333.7 329.95,333.59 330.33,333.48 330.7,333.36 331.08,333.24 331.45,333.13 331.83,333.01 332.2,332.89 332.57,332.76 332.95,332.64 333.32,332.52 333.7,332.39 334.07,332.27 334.45,332.14 334.82,332.01 335.2,331.88 335.57,331.76 335.95,331.63 336.32,331.5 336.7,331.37 337.07,331.24 337.45,331.12 337.82,330.99 338.19,330.86 338.57,330.74 338.94,330.61 339.32,330.49 339.69,330.36 340.07,330.24 340.44,330.12 340.82,330 341.19,329.88 341.57,329.77 341.94,329.65 342.32,329.54 342.69,329.43 343.06,329.32 343.44,329.22 343.81,329.11 344.19,329.01 344.56,328.91 344.94,328.82 345.31,328.72 345.69,328.63 346.06,328.55 346.44,328.46 346.81,328.38 347.19,328.31 347.56,328.23 347.94,328.16 348.31,328.1 348.68,328.04 349.06,327.98 349.43,327.92 349.81,327.87 350.18,327.82 350.56,327.78 350.93,327.73 351.31,327.69 351.68,327.65 352.06,327.61 352.43,327.57 352.81,327.53 353.18,327.49 353.55,327.46 353.93,327.42 354.3,327.39 354.68,327.36 355.05,327.32 355.43,327.29 355.8,327.26 356.18,327.23 356.55,327.21 356.93,327.18 357.3,327.15 357.68,327.12 358.05,327.1 358.43,327.07 358.8,327.05 359.17,327.02 359.55,327 359.92,326.97 360.3,326.95 360.67,326.92 361.05,326.89 361.42,326.87 361.8,326.84 362.17,326.82 362.55,326.79 362.92,326.76 363.3,326.74 363.67,326.71 364.05,326.68 364.42,326.65 364.79,326.62 365.17,326.59 365.54,326.56 365.92,326.53 366.29,326.49 366.67,326.46 367.04,326.42 367.42,326.39 367.79,326.35 368.17,326.31 368.54,326.27 368.92,326.22 369.29,326.18 369.66,326.13 370.04,326.09 370.41,326.04 370.79,325.99 371.16,325.93 371.54,325.88 371.91,325.82 372.29,325.76 372.66,325.69 373.04,325.61 373.41,325.53 373.79,325.45 374.16,325.36 374.54,325.27 374.91,325.17 375.28,325.07 375.66,324.97 376.03,324.86 376.41,324.75 376.78,324.64 377.16,324.52 377.53,324.4 377.91,324.28 378.28,324.16 378.66,324.03 379.03,323.91 379.41,323.78 379.78,323.65 380.15,323.52 380.53,323.38 380.9,323.25 381.28,323.12 381.65,322.98 382.03,322.85 382.4,322.72 382.78,322.58 383.15,322.45 383.53,322.32 383.9,322.19 384.28,322.05 384.65,321.92 385.03,321.78 385.4,321.64 385.77,321.5 386.15,321.36 386.52,321.22 386.9,321.07 387.27,320.92 387.65,320.77 388.02,320.62 388.4,320.47 388.77,320.31 389.15,320.16 389.52,320 389.9,319.83 390.27,319.67 390.65,319.51 391.02,319.34 391.39,319.17 391.77,319 392.14,318.82 392.52,318.65 392.89,318.47 393.27,318.29 393.64,318.11 394.02,317.92 394.39,317.73 394.77,317.54 395.14,317.35 395.52,317.16 395.89,316.96 396.26,316.76 396.64,316.56 397.01,316.35 397.39,316.14 397.76,315.92 398.14,315.69 398.51,315.46 398.89,315.21 399.26,314.96 399.64,314.7 400.01,314.42 400.39,314.14 400.76,313.83 401.14,313.5 401.51,313.15 401.88,312.78 402.26,312.39 402.63,311.99 403.01,311.57 403.38,311.13 403.76,310.69 404.13,310.23 404.51,309.78 404.88,309.31 405.26,308.84 405.63,308.38 406.01,307.91 406.38,307.45 406.75,306.99 407.13,306.54 407.5,306.09 407.88,305.66 408.25,305.24 408.63,304.83 409,304.42 409.38,304 409.75,303.58 410.13,303.16 410.5,302.74 410.88,302.31 411.25,301.89 411.63,301.46 412,301.04 412.37,300.62 412.75,300.19 413.12,299.77 413.5,299.34 413.87,298.92 414.25,298.5 414.62,298.08 415,297.67 415.37,297.25 415.75,296.84 416.12,296.43 416.5,296.02 416.87,295.62 417.25,295.22 417.62,294.82 417.99,294.43 418.37,294.04 418.74,293.66 419.12,293.28 419.49,292.9 419.87,292.53 420.24,292.17 420.62,291.81 420.99,291.46 421.37,291.12 421.74,290.78 422.12,290.45 422.49,290.12 422.86,289.81 423.24,289.5 423.61,289.2 423.99,288.92 424.36,288.63 424.74,288.36 425.11,288.09 425.49,287.83 425.86,287.57 426.24,287.31 426.61,287.06 426.99,286.8 427.36,286.55 427.74,286.3 428.11,286.05 428.48,285.8 428.86,285.54 429.23,285.28 429.61,285.02 429.98,284.75 430.36,284.48 430.73,284.2 431.11,283.92 431.48,283.62 431.86,283.32 432.23,283.01 432.61,282.69 432.98,282.36 433.35,282.02 433.73,281.67 434.1,281.32 434.48,280.96 434.85,280.59 435.23,280.22 435.6,279.84 435.98,279.46 436.35,279.07 436.73,278.69 437.1,278.3 437.48,277.9 437.85,277.51 438.23,277.11 438.6,276.72 438.97,276.32 439.35,275.92 439.72,275.53 440.1,275.14 440.47,274.75 440.85,274.36 441.22,273.98 441.6,273.6 441.97,273.22 442.35,272.86 442.72,272.5 443.1,272.15 443.47,271.8 443.85,271.46 444.22,271.13 444.59,270.8 444.97,270.48 445.34,270.15 445.72,269.83 446.09,269.5 446.47,269.18 446.84,268.85 447.22,268.52 447.59,268.19 447.97,267.85 448.34,267.51 448.72,267.15 449.09,266.8 449.46,266.43 449.84,266.05 450.21,265.66 450.59,265.26 450.96,264.85 451.34,264.42 451.71,263.98 452.09,263.52 452.46,263.04 452.84,262.55 453.21,262.01 453.59,261.41 453.96,260.76 454.34,260.07 454.71,259.36 455.08,258.64 455.46,257.92 455.83,257.21 456.21,256.52 456.58,255.83 456.96,255.14 457.33,254.44 457.71,253.74 458.08,253.03 458.46,252.3 458.83,251.56 459.21,250.8 459.58,250.02 459.95,249.21 460.33,248.38 460.7,247.52 461.08,246.64 461.45,245.75 461.83,244.83 462.2,243.9 462.58,242.94 462.95,241.98 463.33,241 463.7,240.01 464.08,239.01 464.45,237.99 464.83,236.97 465.2,235.94 465.57,234.91 465.95,233.87 466.32,232.83 466.7,231.8 467.07,230.79 467.45,229.78 467.82,228.76 468.2,227.72 468.57,226.65 468.95,225.52 469.32,224.34 469.7,223.08 470.07,221.73 470.45,220.24 470.82,218.48 471.19,216.47 471.57,214.29 471.94,212.03 472.32,209.77 472.69,207.58 473.07,205.54 473.44,203.72 473.82,202.18 474.19,200.64 474.57,199.14 474.94,197.82 475.32,196.82 475.69,196.29 476.06,196.03 476.44,195.79 476.81,195.57 477.19,195.35 477.56,195.16 477.94,194.97 478.31,194.79 478.69,194.63 479.06,194.47 479.44,194.33 479.81,194.2 480.19,194.07 480.56,193.95 480.94,193.84 481.31,193.74 481.68,193.64 482.06,193.55 482.43,193.47 482.81,193.39 483.18,193.31 483.56,193.24 483.93,193.17 484.31,193.1 484.68,193.04 485.06,192.97 485.43,192.91 485.81,192.85 486.18,192.79 486.55,192.72 486.93,192.66 487.3,192.59 487.68,192.52 488.05,192.44 488.43,192.37 488.8,192.28 489.18,192.2 489.55,192.12 489.93,192.03 490.3,191.95 490.68,191.87 491.05,191.78 491.43,191.7 491.8,191.62 492.17,191.54 492.55,191.45 492.92,191.37 493.3,191.29 493.67,191.21 494.05,191.13 494.42,191.05 494.8,190.97 495.17,190.89 495.55,190.82 495.92,190.74 496.3,190.66 496.67,190.59 497.05,190.51 497.42,190.43 497.79,190.36 498.17,190.29 498.54,190.21 498.92,190.14 499.29,190.07 499.67,190 500.04,189.92 500.42,189.85 500.79,189.79 501.17,189.72 501.54,189.65 501.92,189.58 502.29,189.52 502.66,189.45 503.04,189.38 503.41,189.32 503.79,189.26 504.16,189.2 504.54,189.13 504.91,189.07 505.29,189.01 505.66,188.96 506.04,188.9 506.41,188.84 506.79,188.79 507.16,188.73 507.54,188.68 507.91,188.62 508.28,188.57 508.66,188.52 509.03,188.47 509.41,188.42 509.78,188.38 510.16,188.33 510.53,188.28 510.91,188.24 511.28,188.2 511.66,188.16 512.03,188.12 512.41,188.08 512.78,188.04 513.15,188 513.53,187.97 513.9,187.93 514.28,187.9 514.65,187.87 515.03,187.84" fill="none" stroke="#ff0000" stroke-width="0.75" stroke-linejoin="round"/>
<circle cx="282.75" cy="339.93" r="1.75" fill="#ff0000"/>
<circle cx="286.49" cy="339.81" r="1.75" fill="#ff0000"/>
<circle cx="290.24" cy="339.6" r="1.75" fill="#ff0000"/>
<circle cx="293.99" cy="339.31" r="1.75" fill="#ff0000"/>
<circle cx="297.73" cy="338.94" r="1.75" fill="#ff0000"/>
<circle cx="301.48" cy="338.51" r="1.75" fill="#ff0000"/>
<circle cx="305.23" cy="338.02" r="1.75" fill="#ff0000"/>
<circle cx="308.97" cy="337.49" r="1.75" fill="#ff0000"/>
<circle cx="312.72" cy="336.91" r="1.75" fill="#ff0000"/>
<circle cx="316.46" cy="336.31" r="1.75" fill="#ff0000"/>
<circle cx="320.21" cy="335.68" r="1.75" fill="#ff0000"/>
<circle cx="323.96" cy="335.04" r="1.75" fill="#ff0000"/>
<circle cx="327.7" cy="334.22" r="1.75" fill="#ff0000"/>
<circle cx="331.45" cy="333.13" r="1.75" fill="#ff0000"/>
<circle cx="335.2" cy="331.88" r="1.75" fill="#ff0000"/>
<circle cx="338.94" cy="330.61" r="1.75" fill="#ff0000"/>
<circle cx="342.69" cy="329.43" r="1.75" fill="#ff0000"/>
<circle cx="346.44" cy="328.46" r="1.75" fill="#ff0000"/>
<circle cx="350.18" cy="327.82" r="1.75" fill="#ff0000"/>
<circle cx="353.93" cy="327.42" r="1.75" fill="#ff0000"/>
<circle cx="357.68" cy="327.12" r="1.75" fill="#ff0000"/>
<circle cx="361.42" cy="326.87" r="1.75" fill="#ff0000"/>
<circle cx="365.17" cy="326.59" r="1.75" fill="#ff0000"/>
<circle cx="368.92" cy="326.22" r="1.75" fill="#ff0000"/>
<circle cx="372.66" cy="325.69" r="1.75" fill="#ff0000"/>
<circle cx="376.41" cy="324.75" r="1.75" fill="#ff0000"/>
<circle cx="380.15" cy="323.52" r="1.75" fill="#ff0000"/>
<circle cx="383.9" cy="322.19" r="1.75" fill="#ff0000"/>
<circle cx="387.65" cy="320.77" r="1.75" fill="#ff0000"/>
<circle cx="391.39" cy="319.17" r="1.75" fill="#ff0000"/>
<circle cx="395.14" cy="317.35" r="1.75" fill="#ff0000"/>
<circle cx="398.89" cy="315.21" r="1.75" fill="#ff0000"/>
<circle cx="402.63" cy="311.99" r="1.75" fill="#ff0000"/>
<circle cx="406.38" cy="307.45" r="1.75" fill="#ff0000"/>
<circle cx="410.13" cy="303.16" r="1.75" fill="#ff0000"/>
<circle cx="413.87" cy="298.92" r="1.75" fill="#ff0000"/>
<circle cx="417.62" cy="294.82" r="1.75" fill="#ff0000"/>
<circle cx="421.37" cy="291.12" r="1.75" fill="#ff0000"/>
<circle cx="425.11" cy="288.09" r="1.75" fill="#ff0000"/>
<circle cx="428.86" cy="285.54" r="1.75" fill="#ff0000"/>
<circle cx="432.61" cy="282.69" r="1.75" fill="#ff0000"/>
<circle cx="436.35" cy="279.07" r="1.75" fill="#ff0000"/>
<circle cx="440.1" cy="275.14" r="1.75" fill="#ff0000"/>
<circle cx="443.85" cy="271.46" r="1.75" fill="#ff0000"/>
<circle cx="447.59" cy="268.19" r="1.75" fill="#ff0000"/>
<circle cx="451.34" cy="264.42" r="1.75" fill="#ff0000"/>
<circle cx="455.08" cy="258.64" r="1.75" fill="#ff0000"/>
<circle cx="458.83" cy="251.56" r="1.75" fill="#ff0000"/>
<circle cx="462.58" cy="242.94" r="1.75" fill="#ff0000"/>
<circle cx="466.32" cy="232.83" r="1.75" fill="#ff0000"/>
<circle cx="470.07" cy="221.73" r="1.75" fill="#ff0000"/>
<circle cx="473.82" cy="202.18" r="1.75" fill="#ff0000"/>
<circle cx="477.56" cy="195.16" r="1.75" fill="#ff0000"/>
<circle cx="481.31" cy="193.74" r="1.75" fill="#ff0000"/>
<circle cx="485.06" cy="192.97" r="1.75" fill="#ff0000"/>
<circle cx="488.8" cy="192.28" r="1.75" fill="#ff0000"/>
<circle cx="492.55" cy="191.45" r="1.75" fill="#ff0000"/>
<circle cx="496.3" cy="190.66" r="1.75" fill="#ff0000"/>
<circle cx="500.04" cy="189.92" r="1.75" fill="#ff0000"/>
<circle cx="503.79" cy="189.26" r="1.75" fill="#ff0000"/>
<circle cx="507.54" cy="188.68" r="1.75" fill="#ff0000"/>
<circle cx="511.28" cy="188.2" r="1.75" fill="#ff0000"/>
<circle cx="515.03" cy="187.84" r="1.75" fill="#ff0000"/>
<polyline points="282.75,339.93 283.12,339.93 283.5,339.93 283.87,339.93 284.25,339.92 284.62,339.92 284.99,339.91 285.37,339.9 285.74,339.9 286.12,339.89 286.49,339.88 286.87,339.87 287.24,339.85 287.62,339.84 287.99,339.82 288.37,339.81 288.74,339.79 289.12,339.78 289.49,339.76 289.86,339.74 290.24,339.72 290.61,339.7 290.99,339.67 291.36,339.65 291.74,339.63 292.11,339.6 292.49,339.57 292.86,339.55 293.24,339.52 293.61,339.49 293.99,339.46 294.36,339.43 294.74,339.4 295.11,339.37 295.48,339.33 295.86,339.3 296.23,339.27 296.61,339.23 296.98,339.19 297.36,339.16 297.73,339.12 298.11,339.08 298.48,339.04 298.86,339 299.23,338.96 299.61,338.92 299.98,338.88 300.35,338.83 300.73,338.79 301.1,338.74 301.48,338.7 301.85,338.65 302.23,338.61 302.6,338.56 302.98,338.51 303.35,338.46 303.73,338.41 304.1,338.36 304.48,338.31 304.85,338.26 305.23,338.21 305.6,338.16 305.97,338.1 306.35,338.05 306.72,338 307.1,337.94 307.47,337.89 307.85,337.83 308.22,337.77 308.6,337.72 308.97,337.66 309.35,337.6 309.72,337.54 310.1,337.49 310.47,337.43 310.85,337.37 311.22,337.31 311.59,337.25 311.97,337.18 312.34,337.12 312.72,337.06 313.09,337 313.47,336.93 313.84,336.87 314.22,336.81 314.59,336.74 314.97,336.68 315.34,336.61 315.72,336.55 316.09,336.48 316.46,336.42 316.84,336.35 317.21,336.28 317.59,336.22 317.96,336.15 318.34,336.08 318.71,336.01 319.09,335.95 319.46,335.88 319.84,335.81 320.21,335.74 320.59,335.67 320.96,335.6 321.34,335.53 321.71,335.46 322.08,335.39 322.46,335.32 322.83,335.25 323.21,335.18 323.58,335.11 323.96,335.04 324.33,334.97 324.71,334.89 325.08,334.82 325.46,334.74 325.83,334.66 326.21,334.58 326.58,334.5 326.95,334.41 327.33,334.32 327.7,334.23 328.08,334.14 328.45,334.04 328.83,333.94 329.2,333.84 329.58,333.73 329.95,333.62 330.33,333.51 330.7,333.39 331.08,333.28 331.45,333.15 331.83,333.03 332.2,332.89 332.57,332.76 332.95,332.62 333.32,332.48 333.7,332.33 334.07,332.18 334.45,332.02 334.82,331.86 335.2,331.69 335.57,331.52 335.95,331.35 336.32,331.17 336.7,330.98 337.07,330.79 337.45,330.59 337.82,330.36 338.19,330.07 338.57,329.74 338.94,329.36 339.32,328.96 339.69,328.54 340.07,328.1 340.44,327.67 340.82,327.26 341.19,326.86 341.57,326.49 341.94,326.16 342.32,325.88 342.69,325.63 343.06,325.4 343.44,325.17 343.81,324.95 344.19,324.74 344.56,324.54 344.94,324.35 345.31,324.16 345.69,323.98 346.06,323.8 346.44,323.63 346.81,323.46 347.19,323.29 347.56,323.13 347.94,322.97 348.31,322.81 348.68,322.65 349.06,322.48 349.43,322.32 349.81,322.16 350.18,322 350.56,321.85 350.93,321.7 351.31,321.56 351.68,321.41 352.06,321.27 352.43,321.14 352.81,321 353.18,320.87 353.55,320.73 353.93,320.6 354.3,320.47 354.68,320.34 355.05,320.2 355.43,320.07 355.8,319.93 356.18,319.8 356.55,319.66 356.93,319.52 357.3,319.37 357.68,319.22 358.05,319.07 358.43,318.91 358.8,318.75 359.17,318.59 359.55,318.42 359.92,318.24 360.3,318.07 360.67,317.9 361.05,317.72 361.42,317.54 361.8,317.36 362.17,317.18 362.55,316.99 362.92,316.8 363.3,316.61 363.67,316.41 364.05,316.21 364.42,316.01 364.79,315.8 365.17,315.59 365.54,315.38 365.92,315.16 366.29,314.94 366.67,314.71 367.04,314.48 367.42,314.25 367.79,314 368.17,313.76 368.54,313.51 368.92,313.25 369.29,312.98 369.66,312.71 370.04,312.43 370.41,312.14 370.79,311.85 371.16,311.54 371.54,311.23 371.91,310.9 372.29,310.57 372.66,310.23 373.04,309.88 373.41,309.52 373.79,309.16 374.16,308.78 374.54,308.39 374.91,308 375.28,307.59 375.66,307.18 376.03,306.75 376.41,306.31 376.78,305.85 377.16,305.35 377.53,304.83 377.91,304.29 378.28,303.73 378.66,303.15 379.03,302.56 379.41,301.95 379.78,301.33 380.15,300.7 380.53,300.07 380.9,299.43 381.28,298.79 381.65,298.15 382.03,297.51 382.4,296.87 382.78,296.24 383.15,295.62 383.53,295.01 383.9,294.43 384.28,293.88 384.65,293.34 385.03,292.79 385.4,292.21 385.77,291.58 386.15,290.89 386.52,290.12 386.9,289.25 387.27,288.25 387.65,287.13 388.02,285.89 388.4,284.52 388.77,283.01 389.15,281.2 389.52,279.01 389.9,276.55 390.27,273.92 390.65,271.23 391.02,268.59 391.39,266.11 391.77,263.72 392.14,261.29 392.52,258.85 392.89,256.41 393.27,254 393.64,251.63 394.02,249.32 394.39,247.1 394.77,244.98 395.14,242.98 395.52,241.04 395.89,239.1 396.26,237.18 396.64,235.31 397.01,233.52 397.39,231.84 397.76,230.3 398.14,228.93 398.51,227.75 398.89,226.77 399.26,225.89 399.64,225.07 400.01,224.32 400.39,223.62 400.76,222.98 401.14,222.38 401.51,221.81 401.88,221.28 402.26,220.77 402.63,220.29 403.01,219.82 403.38,219.36 403.76,218.93 404.13,218.51 404.51,218.1 404.88,217.72 405.26,217.35 405.63,217 406.01,216.67 406.38,216.36 406.75,216.06 407.13,215.78 407.5,215.52 407.88,215.27 408.25,215.02 408.63,214.79 409,214.56 409.38,214.34 409.75,214.12 410.13,213.91 410.5,213.71 410.88,213.52 411.25,213.32 411.63,213.14 412,212.96 412.37,212.78 412.75,212.6 413.12,212.43 413.5,212.26 413.87,212.09 414.25,211.93 414.62,211.76 415,211.6 415.37,211.44 415.75,211.28 416.12,211.11 416.5,210.95 416.87,210.78 417.25,210.62 417.62,210.45 417.99,210.29 418.37,210.13 418.74,209.97 419.12,209.81 419.49,209.65 419.87,209.49 420.24,209.33 420.62,209.18 420.99,209.02 421.37,208.87 421.74,208.71 422.12,208.56 422.49,208.41 422.86,208.26 423.24,208.11 423.61,207.96 423.99,207.81 424.36,207.66 424.74,207.52 425.11,207.37 425.49,207.23 425.86,207.08 426.24,206.94 426.61,206.8 426.99,206.66 427.36,206.52 427.74,206.38 428.11,206.24 428.48,206.1 428.86,205.97 429.23,205.83 429.61,205.69 429.98,205.56 430.36,205.43 430.73,205.29 431.11,205.16 431.48,205.03 431.86,204.9 432.23,204.77 432.61,204.64 432.98,204.52 433.35,204.39 433.73,204.26 434.1,204.14 434.48,204.01 434.85,203.89 435.23,203.77 435.6,203.64 435.98,203.52 436.35,203.4 436.73,203.28 437.1,203.16 437.48,203.04 437.85,202.92 438.23,202.8 438.6,202.69 438.97,202.57 439.35,202.45 439.72,202.33 440.1,202.22 440.47,202.1 440.85,201.98 441.22,201.87 441.6,201.75 441.97,201.64 442.35,201.52 442.72,201.41 443.1,201.3 443.47,201.18 443.85,201.07 444.22,200.96 444.59,200.85 444.97,200.74 445.34,200.63 445.72,200.52 446.09,200.41 446.47,200.3 446.84,200.19 447.22,200.09 447.59,199.98 447.97,199.88 448.34,199.77 448.72,199.67 449.09,199.56 449.46,199.46 449.84,199.36 450.21,199.26 450.59,199.16 450.96,199.06 451.34,198.96 451.71,198.86 452.09,198.77 452.46,198.67 452.84,198.57 453.21,198.48 453.59,198.39 453.96,198.29 454.34,198.2 454.71,198.11 455.08,198.02 455.46,197.93 455.83,197.84 456.21,197.76 456.58,197.67 456.96,197.59 457.33,197.5 457.71,197.42 458.08,197.34 458.46,197.26 458.83,197.18 459.21,197.1 459.58,197.02 459.95,196.94 460.33,196.86 460.7,196.79 461.08,196.71 461.45,196.64 461.83,196.57 462.2,196.49 462.58,196.42 462.95,196.35 463.33,196.28 463.7,196.21 464.08,196.14 464.45,196.07 464.83,196 465.2,195.93 465.57,195.86 465.95,195.79 466.32,195.73 466.7,195.66 467.07,195.6 467.45,195.53 467.82,195.47 468.2,195.4 468.57,195.34 468.95,195.27 469.32,195.21 469.7,195.15 470.07,195.08 470.45,195.02 470.82,194.96 471.19,194.9 471.57,194.84 471.94,194.78 472.32,194.72 472.69,194.66 473.07,194.6 473.44,194.54 473.82,194.48 474.19,194.42 474.57,194.36 474.94,194.3 475.32,194.24 475.69,194.18 476.06,194.13 476.44,194.07 476.81,194.01 477.19,193.95 477.56,193.89 477.94,193.83 478.31,193.78 478.69,193.72 479.06,193.66 479.44,193.6 479.81,193.55 480.19,193.49 480.56,193.43 480.94,193.37 481.31,193.31 481.68,193.26 482.06,193.2 482.43,193.14 482.81,193.08 483.18,193.02 483.56,192.96 483.93,192.91 484.31,192.85 484.68,192.79 485.06,192.73 485.43,192.67 485.81,192.61 486.18,192.55 486.55,192.49 486.93,192.43 487.3,192.37 487.68,192.31 488.05,192.26 488.43,192.2 488.8,192.14 489.18,192.08 489.55,192.02 489.93,191.96 490.3,191.91 490.68,191.85 491.05,191.79 491.43,191.73 491.8,191.67 492.17,191.62 492.55,191.56 492.92,191.5 493.3,191.44 493.67,191.39 494.05,191.33 494.42,191.27 494.8,191.21 495.17,191.16 495.55,191.1 495.92,191.04 496.3,190.99 496.67,190.93 497.05,190.87 497.42,190.82 497.79,190.76 498.17,190.7 498.54,190.65 498.92,190.59 499.29,190.54 499.67,190.48 500.04,190.42 500.42,190.37 500.79,190.31 501.17,190.26 501.54,190.2 501.92,190.15 502.29,190.09 502.66,190.04 503.04,189.98 503.41,189.93 503.79,189.87 504.16,189.82 504.54,189.76 504.91,189.71 505.29,189.65 505.66,189.6 506.04,189.55 506.41,189.49 506.79,189.44 507.16,189.38 507.54,189.33 507.91,189.28 508.28,189.22 508.66,189.17 509.03,189.12 509.41,189.06 509.78,189.01 510.16,188.96 510.53,188.91 510.91,188.85 511.28,188.8 511.66,188.75 512.03,188.7 512.41,188.64 512.78,188.59 513.15,188.54 513.53,188.49 513.9,188.44 514.28,188.38 514.65,188.33 515.03,188.28" fill="none" stroke="#0000ff" stroke-width="0.75" stroke-linejoin="round"/>
<polygon points="282.75,337.45 285.05,341.59 280.45,341.59" fill="#0000ff"/>
<polygon points="286.49,337.39 288.79,341.53 284.19,341.53" fill="#0000ff"/>
<polygon points="290.24,337.23 292.54,341.37 287.94,341.37" fill="#0000ff"/>
<polygon points="293.99,336.98 296.29,341.12 291.69,341.12" fill="#0000ff"/>
<polygon points="297.73,336.64 300.03,340.78 295.43,340.78" fill="#0000ff"/>
<polygon points="301.48,336.22 303.78,340.36 299.18,340.36" fill="#0000ff"/>
<polygon points="305.23,335.73 307.53,339.87 302.93,339.87" fill="#0000ff"/>
<polygon points="308.97,335.18 311.27,339.32 306.67,339.32" fill="#0000ff"/>
<polygon points="312.72,334.58 315.02,338.72 310.42,338.72" fill="#0000ff"/>
<polygon points="316.46,333.93 318.76,338.07 314.16,338.07" fill="#0000ff"/>
<polygon points="320.21,333.26 322.51,337.4 317.91,337.4" fill="#0000ff"/>
<polygon points="323.96,332.56 326.26,336.7 321.66,336.7" fill="#0000ff"/>
<polygon points="327.7,331.75 330,335.89 325.4,335.89" fill="#0000ff"/>
<polygon points="331.45,330.67 333.75,334.81 329.15,334.81" fill="#0000ff"/>
<polygon points="335.2,329.21 337.5,333.35 332.9,333.35" fill="#0000ff"/>
<polygon points="338.94,326.88 341.24,331.02 336.64,331.02" fill="#0000ff"/>
<polygon points="342.69,323.15 344.99,327.29 340.39,327.29" fill="#0000ff"/>
<polygon points="346.44,321.15 348.74,325.29 344.14,325.29" fill="#0000ff"/>
<polygon points="350.18,319.52 352.48,323.66 347.88,323.66" fill="#0000ff"/>
<polygon points="353.93,318.12 356.23,322.26 351.63,322.26" fill="#0000ff"/>
<polygon points="357.68,316.74 359.98,320.88 355.38,320.88" fill="#0000ff"/>
<polygon points="361.42,315.06 363.72,319.2 359.12,319.2" fill="#0000ff"/>
<polygon points="365.17,313.11 367.47,317.25 362.87,317.25" fill="#0000ff"/>
<polygon points="368.92,310.76 371.22,314.9 366.62,314.9" fill="#0000ff"/>
<polygon points="372.66,307.75 374.96,311.89 370.36,311.89" fill="#0000ff"/>
<polygon points="376.41,303.83 378.71,307.97 374.11,307.97" fill="#0000ff"/>
<polygon points="380.15,298.22 382.45,302.36 377.85,302.36" fill="#0000ff"/>
<polygon points="383.9,291.95 386.2,296.09 381.6,296.09" fill="#0000ff"/>
<polygon points="387.65,284.65 389.95,288.79 385.35,288.79" fill="#0000ff"/>
<polygon points="391.39,263.62 393.69,267.76 389.09,267.76" fill="#0000ff"/>
<polygon points="395.14,240.5 397.44,244.64 392.84,244.64" fill="#0000ff"/>
<polygon points="398.89,224.29 401.19,228.43 396.59,228.43" fill="#0000ff"/>
<polygon points="402.63,217.8 404.93,221.94 400.33,221.94" fill="#0000ff"/>
<polygon points="406.38,213.87 408.68,218.01 404.08,218.01" fill="#0000ff"/>
<polygon points="410.13,211.43 412.43,215.57 407.83,215.57" fill="#0000ff"/>
<polygon points="413.87,209.61 416.17,213.75 411.57,213.75" fill="#0000ff"/>
<polygon points="417.62,207.97 419.92,212.11 415.32,212.11" fill="#0000ff"/>
<polygon points="421.37,206.38 423.67,210.52 419.07,210.52" fill="#0000ff"/>
<polygon points="425.11,204.89 427.41,209.03 422.81,209.03" fill="#0000ff"/>
<polygon points="428.86,203.48 431.16,207.62 426.56,207.62" fill="#0000ff"/>
<polygon points="432.61,202.16 434.91,206.3 430.31,206.3" fill="#0000ff"/>
<polygon points="436.35,200.92 438.65,205.06 434.05,205.06" fill="#0000ff"/>
<polygon points="440.1,199.73 442.4,203.87 437.8,203.87" fill="#0000ff"/>
<polygon points="443.85,198.59 446.15,202.73 441.55,202.73" fill="#0000ff"/>
<polygon points="447.59,197.5 449.89,201.64 445.29,201.64" fill="#0000ff"/>
<polygon points="451.34,196.48 453.64,200.62 449.04,200.62" fill="#0000ff"/>
<polygon points="455.08,195.54 457.38,199.68 452.78,199.68" fill="#0000ff"/>
<polygon points="458.83,194.69 461.13,198.83 456.53,198.83" fill="#0000ff"/>
<polygon points="462.58,193.94 464.88,198.08 460.28,198.08" fill="#0000ff"/>
<polygon points="466.32,193.24 468.62,197.38 464.02,197.38" fill="#0000ff"/>
<polygon points="470.07,192.6 472.37,196.74 467.77,196.74" fill="#0000ff"/>
<polygon points="473.82,191.99 476.12,196.13 471.52,196.13" fill="#0000ff"/>
<polygon points="477.56,191.41 479.86,195.55 475.26,195.55" fill="#0000ff"/>
<polygon points="481.31,190.83 483.61,194.97 479.01,194.97" fill="#0000ff"/>
<polygon points="485.06,190.24 487.36,194.38 482.76,194.38" fill="#0000ff"/>
<polygon points="488.8,189.66 491.1,193.8 486.5,193.8" fill="#0000ff"/>
<polygon points="492.55,189.07 494.85,193.21 490.25,193.21" fill="#0000ff"/>
<polygon points="496.3,188.5 498.6,192.64 494,192.64" fill="#0000ff"/>
<polygon points="500.04,187.94 502.34,192.08 497.74,192.08" fill="#0000ff"/>
<polygon points="503.79,187.39 506.09,191.53 501.49,191.53" fill="#0000ff"/>
<polygon points="507.54,186.85 509.84,190.99 505.24,190.99" fill="#0000ff"/>
<polygon points="511.28,186.32 513.58,190.46 508.98,190.46" fill="#0000ff"/>
<polygon points="515.03,185.8 517.33,189.94 512.73,189.94" fill="#0000ff"/>
<polyline points="282.75,339.93 283.12,339.91 283.5,339.89 283.87,339.87 284.25,339.85 284.62,339.83 284.99,339.81 285.37,339.78 285.74,339.76 286.12,339.73 286.49,339.71 286.87,339.68 287.24,339.66 287.62,339.63 287.99,339.6 288.37,339.58 288.74,339.55 289.12,339.52 289.49,339.49 289.86,339.46 290.24,339.43 290.61,339.4 290.99,339.36 291.36,339.33 291.74,339.3 292.11,339.27 292.49,339.23 292.86,339.2 293.24,339.16 293.61,339.13 293.99,339.09 294.36,339.05 294.74,339.02 295.11,338.98 295.48,338.94 295.86,338.9 296.23,338.86 296.61,338.82 296.98,338.78 297.36,338.74 297.73,338.7 298.11,338.66 298.48,338.62 298.86,338.58 299.23,338.54 299.61,338.49 299.98,338.45 300.35,338.41 300.73,338.36 301.1,338.32 301.48,338.27 301.85,338.23 302.23,338.18 302.6,338.13 302.98,338.09 303.35,338.04 303.73,337.99 304.1,337.95 304.48,337.9 304.85,337.85 305.23,337.8 305.6,337.75 305.97,337.7 306.35,337.65 306.72,337.6 307.1,337.55 307.47,337.5 307.85,337.45 308.22,337.4 308.6,337.35 308.97,337.3 309.35,337.24 309.72,337.19 310.1,337.14 310.47,337.09 310.85,337.03 311.22,336.98 311.59,336.92 311.97,336.87 312.34,336.82 312.72,336.76 313.09,336.71 313.47,336.65 313.84,336.6 314.22,336.54 314.59,336.49 314.97,336.43 315.34,336.37 315.72,336.32 316.09,336.26 316.46,336.2 316.84,336.15 317.21,336.09 317.59,336.03 317.96,335.98 318.34,335.92 318.71,335.86 319.09,335.8 319.46,335.74 319.84,335.69 320.21,335.63 320.59,335.57 320.96,335.51 321.34,335.45 321.71,335.39 322.08,335.34 322.46,335.28 322.83,335.22 323.21,335.16 323.58,335.1 323.96,335.04 324.33,334.98 324.71,334.92 325.08,334.85 325.46,334.79 325.83,334.72 326.21,334.65 326.58,334.58 326.95,334.5 327.33,334.43 327.7,334.36 328.08,334.28 328.45,334.2 328.83,334.12 329.2,334.04 329.58,333.96 329.95,333.88 330.33,333.8 330.7,333.72 331.08,333.64 331.45,333.56 331.83,333.47 332.2,333.39 332.57,333.31 332.95,333.22 333.32,333.14 333.7,333.06 334.07,332.98 334.45,332.9 334.82,332.82 335.2,332.74 335.57,332.65 335.95,332.57 336.32,332.49 336.7,332.4 337.07,332.32 337.45,332.23 337.82,332.15 338.19,332.06 338.57,331.98 338.94,331.89 339.32,331.81 339.69,331.72 340.07,331.64 340.44,331.56 340.82,331.47 341.19,331.39 341.57,331.31 341.94,331.23 342.32,331.15 342.69,331.07 343.06,330.98 343.44,330.9 343.81,330.82 344.19,330.74 344.56,330.65 344.94,330.57 345.31,330.49 345.69,330.41 346.06,330.33 346.44,330.24 346.81,330.16 347.19,330.08 347.56,330 347.94,329.92 348.31,329.85 348.68,329.77 349.06,329.69 349.43,329.61 349.81,329.54 350.18,329.46 350.56,329.39 350.93,329.32 351.31,329.24 351.68,329.17 352.06,329.1 352.43,329.04 352.81,328.97 353.18,328.9 353.55,328.84 353.93,328.78 354.3,328.72 354.68,328.66 355.05,328.61 355.43,328.56 355.8,328.5 356.18,328.45 356.55,328.41 356.93,328.36 357.3,328.31 357.68,328.26 358.05,328.22 358.43,328.17 358.8,328.12 359.17,328.08 359.55,328.03 359.92,327.98 360.3,327.93 360.67,327.88 361.05,327.83 361.42,327.78 361.8,327.72 362.17,327.67 362.55,327.61 362.92,327.55 363.3,327.49 363.67,327.42 364.05,327.35 364.42,327.28 364.79,327.2 365.17,327.12 365.54,327.04 365.92,326.95 366.29,326.86 366.67,326.76 367.04,326.66 367.42,326.55 367.79,326.44 368.17,326.32 368.54,326.2 368.92,326.08 369.29,325.95 369.66,325.81 370.04,325.67 370.41,325.53 370.79,325.38 371.16,325.23 371.54,325.07 371.91,324.91 372.29,324.75 372.66,324.58 373.04,324.41 373.41,324.23 373.79,324.05 374.16,323.86 374.54,323.67 374.91,323.48 375.28,323.27 375.66,323.04 376.03,322.78 376.41,322.51 376.78,322.23 377.16,321.93 377.53,321.62 377.91,321.3 378.28,320.97 378.66,320.64 379.03,320.31 379.41,319.98 379.78,319.66 380.15,319.34 380.53,319.03 380.9,318.73 381.28,318.44 381.65,318.16 382.03,317.87 382.4,317.58 382.78,317.3 383.15,317.01 383.53,316.72 383.9,316.44 384.28,316.15 384.65,315.87 385.03,315.59 385.4,315.32 385.77,315.04 386.15,314.78 386.52,314.51 386.9,314.25 387.27,313.99 387.65,313.74 388.02,313.49 388.4,313.25 388.77,313.01 389.15,312.78 389.52,312.55 389.9,312.32 390.27,312.1 390.65,311.88 391.02,311.66 391.39,311.44 391.77,311.23 392.14,311.02 392.52,310.82 392.89,310.61 393.27,310.41 393.64,310.21 394.02,310.01 394.39,309.82 394.77,309.63 395.14,309.44 395.52,309.25 395.89,309.07 396.26,308.89 396.64,308.72 397.01,308.55 397.39,308.38 397.76,308.21 398.14,308.04 398.51,307.88 398.89,307.71 399.26,307.54 399.64,307.37 400.01,307.2 400.39,307.02 400.76,306.85 401.14,306.67 401.51,306.49 401.88,306.32 402.26,306.15 402.63,305.97 403.01,305.8 403.38,305.63 403.76,305.45 404.13,305.28 404.51,305.11 404.88,304.93 405.26,304.76 405.63,304.59 406.01,304.41 406.38,304.24 406.75,304.06 407.13,303.89 407.5,303.71 407.88,303.53 408.25,303.35 408.63,303.18 409,303 409.38,302.81 409.75,302.63 410.13,302.45 410.5,302.26 410.88,302.08 411.25,301.89 411.63,301.7 412,301.51 412.37,301.32 412.75,301.12 413.12,300.92 413.5,300.72 413.87,300.52 414.25,300.32 414.62,300.11 415,299.91 415.37,299.7 415.75,299.48 416.12,299.27 416.5,299.05 416.87,298.83 417.25,298.61 417.62,298.39 417.99,298.16 418.37,297.93 418.74,297.7 419.12,297.47 419.49,297.24 419.87,297 420.24,296.76 420.62,296.52 420.99,296.28 421.37,296.04 421.74,295.79 422.12,295.54 422.49,295.29 422.86,295.04 423.24,294.79 423.61,294.53 423.99,294.28 424.36,294.02 424.74,293.76 425.11,293.5 425.49,293.24 425.86,292.97 426.24,292.71 426.61,292.44 426.99,292.17 427.36,291.9 427.74,291.63 428.11,291.36 428.48,291.09 428.86,290.82 429.23,290.54 429.61,290.27 429.98,289.99 430.36,289.72 430.73,289.44 431.11,289.16 431.48,288.88 431.86,288.59 432.23,288.3 432.61,288.01 432.98,287.72 433.35,287.43 433.73,287.13 434.1,286.82 434.48,286.52 434.85,286.21 435.23,285.89 435.6,285.58 435.98,285.25 436.35,284.93 436.73,284.59 437.1,284.26 437.48,283.91 437.85,283.57 438.23,283.21 438.6,282.85 438.97,282.49 439.35,282.12 439.72,281.73 440.1,281.33 440.47,280.9 440.85,280.46 441.22,280 441.6,279.53 441.97,279.04 442.35,278.55 442.72,278.05 443.1,277.54 443.47,277.03 443.85,276.51 444.22,276 444.59,275.49 444.97,274.98 445.34,274.47 445.72,273.97 446.09,273.48 446.47,273 446.84,272.54 447.22,272.08 447.59,271.65 447.97,271.23 448.34,270.83 448.72,270.45 449.09,270.07 449.46,269.71 449.84,269.35 450.21,269 450.59,268.66 450.96,268.33 451.34,268 451.71,267.68 452.09,267.36 452.46,267.04 452.84,266.73 453.21,266.42 453.59,266.11 453.96,265.8 454.34,265.5 454.71,265.19 455.08,264.88 455.46,264.57 455.83,264.26 456.21,263.94 456.58,263.62 456.96,263.3 457.33,262.97 457.71,262.63 458.08,262.29 458.46,261.94 458.83,261.58 459.21,261.22 459.58,260.84 459.95,260.47 460.33,260.1 460.7,259.72 461.08,259.33 461.45,258.94 461.83,258.54 462.2,258.12 462.58,257.7 462.95,257.25 463.33,256.8 463.7,256.32 464.08,255.83 464.45,255.32 464.83,254.8 465.2,254.26 465.57,253.71 465.95,253.15 466.32,252.56 466.7,251.97 467.07,251.36 467.45,250.74 467.82,250.11 468.2,249.46 468.57,248.8 468.95,248.13 469.32,247.45 469.7,246.75 470.07,246.05 470.45,245.33 470.82,244.61 471.19,243.87 471.57,243.11 471.94,242.31 472.32,241.49 472.69,240.64 473.07,239.77 473.44,238.86 473.82,237.93 474.19,236.98 474.57,235.99 474.94,234.94 475.32,233.83 475.69,232.69 476.06,231.51 476.44,230.32 476.81,229.12 477.19,227.94 477.56,226.78 477.94,225.66 478.31,224.6 478.69,223.58 479.06,222.58 479.44,221.57 479.81,220.56 480.19,219.5 480.56,218.39 480.94,217.21 481.31,215.93 481.68,214.55 482.06,212.88 482.43,210.72 482.81,208.23 483.18,205.57 483.56,202.92 483.93,200.44 484.31,198.33 484.68,196.74 485.06,195.84 485.43,195.37 485.81,194.95 486.18,194.56 486.55,194.21 486.93,193.89 487.3,193.6 487.68,193.34 488.05,193.1 488.43,192.89 488.8,192.71 489.18,192.54 489.55,192.39 489.93,192.25 490.3,192.13 490.68,192.02 491.05,191.91 491.43,191.8 491.8,191.7 492.17,191.6 492.55,191.49 492.92,191.39 493.3,191.29 493.67,191.2 494.05,191.1 494.42,191.01 494.8,190.91 495.17,190.82 495.55,190.73 495.92,190.64 496.3,190.55 496.67,190.47 497.05,190.38 497.42,190.3 497.79,190.22 498.17,190.14 498.54,190.06 498.92,189.98 499.29,189.91 499.67,189.83 500.04,189.76 500.42,189.69 500.79,189.62 501.17,189.55 501.54,189.49 501.92,189.42 502.29,189.36 502.66,189.3 503.04,189.24 503.41,189.18 503.79,189.13 504.16,189.07 504.54,189.02 504.91,188.97 505.29,188.92 505.66,188.87 506.04,188.83 506.41,188.79 506.79,188.74 507.16,188.7 507.54,188.66 507.91,188.63 508.28,188.59 508.66,188.56 509.03,188.53 509.41,188.5 509.78,188.47 510.16,188.45 510.53,188.42 510.91,188.4 511.28,188.38 511.66,188.36 512.03,188.34 512.41,188.33 512.78,188.32 513.15,188.31 513.53,188.3 513.9,188.29 514.28,188.29 514.65,188.28 515.03,188.28" fill="none" stroke="#0000ff" stroke-width="0.75" stroke-linejoin="round"/>
<polygon points="282.75,337.45 285.05,341.59 280.45,341.59" fill="#0000ff"/>
<polygon points="286.49,337.23 288.79,341.37 284.19,341.37" fill="#0000ff"/>
<polygon points="290.24,336.94 292.54,341.08 287.94,341.08" fill="#0000ff"/>
<polygon points="293.99,336.61 296.29,340.75 291.69,340.75" fill="#0000ff"/>
<polygon points="297.73,336.22 300.03,340.36 295.43,340.36" fill="#0000ff"/>
<polygon points="301.48,335.79 303.78,339.93 299.18,339.93" fill="#0000ff"/>
<polygon points="305.23,335.32 307.53,339.46 302.93,339.46" fill="#0000ff"/>
<polygon points="308.97,334.81 311.27,338.95 306.67,338.95" fill="#0000ff"/>
<polygon points="312.72,334.28 315.02,338.42 310.42,338.42" fill="#0000ff"/>
<polygon points="316.46,333.72 318.76,337.86 314.16,337.86" fill="#0000ff"/>
<polygon points="320.21,333.14 322.51,337.28 317.91,337.28" fill="#0000ff"/>
<polygon points="323.96,332.56 326.26,336.7 321.66,336.7" fill="#0000ff"/>
<polygon points="327.7,331.87 330,336.01 325.4,336.01" fill="#0000ff"/>
<polygon points="331.45,331.07 333.75,335.21 329.15,335.21" fill="#0000ff"/>
<polygon points="335.2,330.25 337.5,334.39 332.9,334.39" fill="#0000ff"/>
<polygon points="338.94,329.41 341.24,333.55 336.64,333.55" fill="#0000ff"/>
<polygon points="342.69,328.58 344.99,332.72 340.39,332.72" fill="#0000ff"/>
<polygon points="346.44,327.76 348.74,331.9 344.14,331.9" fill="#0000ff"/>
<polygon points="350.18,326.98 352.48,331.12 347.88,331.12" fill="#0000ff"/>
<polygon points="353.93,326.29 356.23,330.43 351.63,330.43" fill="#0000ff"/>
<polygon points="357.68,325.78 359.98,329.92 355.38,329.92" fill="#0000ff"/>
<polygon points="361.42,325.29 363.72,329.43 359.12,329.43" fill="#0000ff"/>
<polygon points="365.17,324.64 367.47,328.78 362.87,328.78" fill="#0000ff"/>
<polygon points="368.92,323.59 371.22,327.73 366.62,327.73" fill="#0000ff"/>
<polygon points="372.66,322.09 374.96,326.23 370.36,326.23" fill="#0000ff"/>
<polygon points="376.41,320.03 378.71,324.17 374.11,324.17" fill="#0000ff"/>
<polygon points="380.15,316.85 382.45,320.99 377.85,320.99" fill="#0000ff"/>
<polygon points="383.9,313.95 386.2,318.09 381.6,318.09" fill="#0000ff"/>
<polygon points="387.65,311.25 389.95,315.39 385.35,315.39" fill="#0000ff"/>
<polygon points="391.39,308.96 393.69,313.1 389.09,313.1" fill="#0000ff"/>
<polygon points="395.14,306.95 397.44,311.09 392.84,311.09" fill="#0000ff"/>
<polygon points="398.89,305.22 401.19,309.36 396.59,309.36" fill="#0000ff"/>
<polygon points="402.63,303.49 404.93,307.63 400.33,307.63" fill="#0000ff"/>
<polygon points="406.38,301.75 408.68,305.89 404.08,305.89" fill="#0000ff"/>
<polygon points="410.13,299.96 412.43,304.1 407.83,304.1" fill="#0000ff"/>
<polygon points="413.87,298.04 416.17,302.18 411.57,302.18" fill="#0000ff"/>
<polygon points="417.62,295.9 419.92,300.04 415.32,300.04" fill="#0000ff"/>
<polygon points="421.37,293.55 423.67,297.69 419.07,297.69" fill="#0000ff"/>
<polygon points="425.11,291.02 427.41,295.16 422.81,295.16" fill="#0000ff"/>
<polygon points="428.86,288.33 431.16,292.47 426.56,292.47" fill="#0000ff"/>
<polygon points="432.61,285.53 434.91,289.67 430.31,289.67" fill="#0000ff"/>
<polygon points="436.35,282.44 438.65,286.58 434.05,286.58" fill="#0000ff"/>
<polygon points="440.1,278.84 442.4,282.98 437.8,282.98" fill="#0000ff"/>
<polygon points="443.85,274.03 446.15,278.17 441.55,278.17" fill="#0000ff"/>
<polygon points="447.59,269.16 449.89,273.3 445.29,273.3" fill="#0000ff"/>
<polygon points="451.34,265.52 453.64,269.66 449.04,269.66" fill="#0000ff"/>
<polygon points="455.08,262.4 457.38,266.54 452.78,266.54" fill="#0000ff"/>
<polygon points="458.83,259.1 461.13,263.24 456.53,263.24" fill="#0000ff"/>
<polygon points="462.58,255.21 464.88,259.35 460.28,259.35" fill="#0000ff"/>
<polygon points="466.32,250.08 468.62,254.22 464.02,254.22" fill="#0000ff"/>
<polygon points="470.07,243.57 472.37,247.71 467.77,247.71" fill="#0000ff"/>
<polygon points="473.82,235.45 476.12,239.59 471.52,239.59" fill="#0000ff"/>
<polygon points="477.56,224.3 479.86,228.44 475.26,228.44" fill="#0000ff"/>
<polygon points="481.31,213.45 483.61,217.59 479.01,217.59" fill="#0000ff"/>
<polygon points="485.06,193.36 487.36,197.5 482.76,197.5" fill="#0000ff"/>
<polygon points="488.8,190.22 491.1,194.36 486.5,194.36" fill="#0000ff"/>
<polygon points="492.55,189.01 494.85,193.15 490.25,193.15" fill="#0000ff"/>
<polygon points="496.3,188.07 498.6,192.21 494,192.21" fill="#0000ff"/>
<polygon points="500.04,187.28 502.34,191.42 497.74,191.42" fill="#0000ff"/>
<polygon points="503.79,186.64 506.09,190.78 501.49,190.78" fill="#0000ff"/>
<polygon points="507.54,186.18 509.84,190.32 505.24,190.32" fill="#0000ff"/>
<polygon points="511.28,185.89 513.58,190.03 508.98,190.03" fill="#0000ff"/>
<polygon points="515.03,185.8 517.33,189.94 512.73,189.94" fill="#0000ff"/>
</g>
</svg>
</body></html>
